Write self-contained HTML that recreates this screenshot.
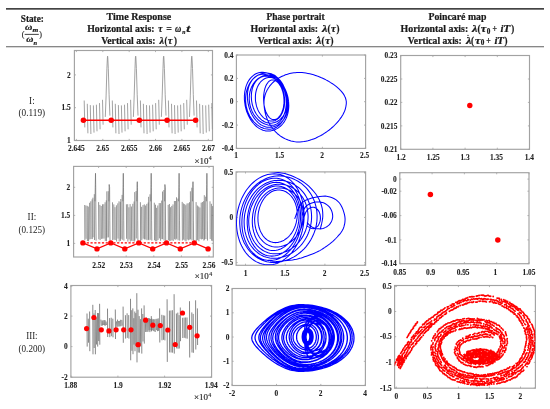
<!DOCTYPE html><html><head><meta charset="utf-8"><style>
html,body{margin:0;padding:0;background:#fff;width:550px;height:409px;overflow:hidden}
svg{display:block}
.tl{font-family:"Liberation Serif",serif;font-weight:bold;font-size:7.4px;fill:#1e1e1e;stroke:#1e1e1e;stroke-width:0.1px}
.ex{font-family:"Liberation Serif",serif;font-size:7.2px;fill:#1e1e1e;stroke:#1e1e1e;stroke-width:0.12px}
.hd{font-family:"Liberation Serif",serif;font-weight:bold;fill:#1a1a1a;stroke:#1a1a1a;stroke-width:0.22px}
.rl{font-family:"Liberation Serif",serif;font-size:9.9px;fill:#222}
</style></head><body>
<svg width="550" height="409" viewBox="0 0 550 409">
<rect x="6" y="8" width="538" height="1.7" fill="#444"/>
<rect x="6" y="46.1" width="538" height="1.2" fill="#7a7a7a"/>
<text x="20.80" y="21.50" class="hd" text-anchor="start" textLength="23.00" lengthAdjust="spacingAndGlyphs" font-size="9.6px">State:</text>
<text x="21.8" y="37.3" font-family="Liberation Serif,serif" font-size="9.2px" fill="#1a1a1a" stroke="#1a1a1a" stroke-width="0.15" textLength="2.7" lengthAdjust="spacingAndGlyphs">(</text>
<text x="39.3" y="37.3" font-family="Liberation Serif,serif" font-size="9.2px" fill="#1a1a1a" stroke="#1a1a1a" stroke-width="0.15" textLength="2.7" lengthAdjust="spacingAndGlyphs">)</text>
<rect x="24.7" y="33.9" width="14.1" height="0.85" fill="#222"/>
<text x="24.90" y="29.80" class="hd" text-anchor="start" textLength="7.30" lengthAdjust="spacingAndGlyphs" font-size="8.4px" font-style="italic">&#969;</text>
<text x="32.40" y="31.50" class="hd" text-anchor="start" textLength="5.80" lengthAdjust="spacingAndGlyphs" font-size="7px" font-style="italic">m</text>
<text x="26.30" y="42.30" class="hd" text-anchor="start" textLength="7.10" lengthAdjust="spacingAndGlyphs" font-size="8.4px" font-style="italic">&#969;</text>
<text x="33.60" y="44.60" class="hd" text-anchor="start" textLength="3.60" lengthAdjust="spacingAndGlyphs" font-size="7px" font-style="italic">n</text>
<text x="106.50" y="19.90" class="hd" text-anchor="start" textLength="64.80" lengthAdjust="spacingAndGlyphs" font-size="9.6px">Time Response</text>
<text x="87.20" y="32.10" class="hd" text-anchor="start" textLength="67.40" lengthAdjust="spacingAndGlyphs" font-size="9.6px">Horizontal axis:</text>
<text x="158.20" y="32.10" class="hd" text-anchor="start" textLength="4.20" lengthAdjust="spacingAndGlyphs" font-size="9.6px" font-style="italic">&#964;</text>
<text x="166.20" y="32.10" class="hd" text-anchor="start" textLength="5.60" lengthAdjust="spacingAndGlyphs" font-size="9.6px">=</text>
<text x="174.90" y="32.10" class="hd" text-anchor="start" textLength="6.30" lengthAdjust="spacingAndGlyphs" font-size="9.6px" font-style="italic">&#969;</text>
<text x="182.20" y="33.80" class="hd" text-anchor="start" textLength="3.20" lengthAdjust="spacingAndGlyphs" font-size="6.6px" font-style="italic">n</text>
<text x="186.30" y="32.10" class="hd" text-anchor="start" textLength="4.00" lengthAdjust="spacingAndGlyphs" font-size="9.6px" font-style="italic">t</text>
<text x="101.20" y="43.80" class="hd" text-anchor="start" textLength="54.40" lengthAdjust="spacingAndGlyphs" font-size="9.6px">Vertical axis:</text>
<text x="159.60" y="43.80" class="hd" text-anchor="start" textLength="4.60" lengthAdjust="spacingAndGlyphs" font-size="9.6px" font-style="italic">&#955;</text>
<text x="164.60" y="43.80" class="hd" text-anchor="start" textLength="2.80" lengthAdjust="spacingAndGlyphs" font-size="9.6px">(</text>
<text x="167.80" y="43.80" class="hd" text-anchor="start" textLength="4.60" lengthAdjust="spacingAndGlyphs" font-size="9.6px" font-style="italic">&#964;</text>
<text x="173.90" y="43.80" class="hd" text-anchor="start" textLength="3.00" lengthAdjust="spacingAndGlyphs" font-size="9.6px">)</text>
<text x="266.50" y="19.90" class="hd" text-anchor="start" textLength="58.10" lengthAdjust="spacingAndGlyphs" font-size="9.6px">Phase portrait</text>
<text x="250.50" y="32.10" class="hd" text-anchor="start" textLength="67.60" lengthAdjust="spacingAndGlyphs" font-size="9.6px">Horizontal axis:</text>
<text x="321.90" y="32.10" class="hd" text-anchor="start" textLength="5.50" lengthAdjust="spacingAndGlyphs" font-size="9.6px" font-style="italic">&#955;</text>
<text x="327.40" y="32.10" class="hd" text-anchor="start" textLength="3.00" lengthAdjust="spacingAndGlyphs" font-size="9.6px">(</text>
<text x="331.00" y="32.10" class="hd" text-anchor="start" textLength="4.80" lengthAdjust="spacingAndGlyphs" font-size="9.6px" font-style="italic">&#964;</text>
<text x="336.60" y="32.10" class="hd" text-anchor="start" textLength="3.00" lengthAdjust="spacingAndGlyphs" font-size="9.6px">)</text>
<text x="257.70" y="43.80" class="hd" text-anchor="start" textLength="54.20" lengthAdjust="spacingAndGlyphs" font-size="9.6px">Vertical axis:</text>
<text x="316.10" y="43.80" class="hd" text-anchor="start" textLength="5.50" lengthAdjust="spacingAndGlyphs" font-size="9.6px" font-style="italic">&#955;</text><circle cx="318.60" cy="36.60" r="0.62" fill="#1a1a1a"/>
<text x="321.60" y="43.80" class="hd" text-anchor="start" textLength="3.00" lengthAdjust="spacingAndGlyphs" font-size="9.6px">(</text>
<text x="325.20" y="43.80" class="hd" text-anchor="start" textLength="4.80" lengthAdjust="spacingAndGlyphs" font-size="9.6px" font-style="italic">&#964;</text>
<text x="330.50" y="43.80" class="hd" text-anchor="start" textLength="3.00" lengthAdjust="spacingAndGlyphs" font-size="9.6px">)</text>
<text x="428.50" y="19.90" class="hd" text-anchor="start" textLength="57.90" lengthAdjust="spacingAndGlyphs" font-size="9.6px">Poincar&#233; map</text>
<text x="400.60" y="32.10" class="hd" text-anchor="start" textLength="67.60" lengthAdjust="spacingAndGlyphs" font-size="9.6px">Horizontal axis:</text>
<text x="472.00" y="32.10" class="hd" text-anchor="start" textLength="5.50" lengthAdjust="spacingAndGlyphs" font-size="9.6px" font-style="italic">&#955;</text>
<text x="477.60" y="32.10" class="hd" text-anchor="start" textLength="3.00" lengthAdjust="spacingAndGlyphs" font-size="9.6px">(</text>
<text x="480.70" y="32.10" class="hd" text-anchor="start" textLength="5.50" lengthAdjust="spacingAndGlyphs" font-size="9.6px" font-style="italic">&#964;</text>
<text x="486.80" y="33.60" class="hd" text-anchor="start" textLength="3.60" lengthAdjust="spacingAndGlyphs" font-size="7.6px">0</text>
<text x="492.40" y="32.10" class="hd" text-anchor="start" textLength="4.50" lengthAdjust="spacingAndGlyphs" font-size="9.6px">+</text>
<text x="500.40" y="32.10" class="hd" text-anchor="start" textLength="3.00" lengthAdjust="spacingAndGlyphs" font-size="9.6px" font-style="italic">i</text>
<text x="503.20" y="32.10" class="hd" text-anchor="start" textLength="7.00" lengthAdjust="spacingAndGlyphs" font-size="9.6px" font-style="italic">T</text>
<text x="511.20" y="32.10" class="hd" text-anchor="start" textLength="3.00" lengthAdjust="spacingAndGlyphs" font-size="9.6px">)</text>
<text x="407.80" y="43.80" class="hd" text-anchor="start" textLength="54.00" lengthAdjust="spacingAndGlyphs" font-size="9.6px">Vertical axis:</text>
<text x="465.90" y="43.80" class="hd" text-anchor="start" textLength="5.50" lengthAdjust="spacingAndGlyphs" font-size="9.6px" font-style="italic">&#955;</text><circle cx="468.00" cy="35.40" r="0.62" fill="#1a1a1a"/>
<text x="471.10" y="43.80" class="hd" text-anchor="start" textLength="3.00" lengthAdjust="spacingAndGlyphs" font-size="9.6px">(</text>
<text x="475.10" y="43.80" class="hd" text-anchor="start" textLength="5.50" lengthAdjust="spacingAndGlyphs" font-size="9.6px" font-style="italic">&#964;</text>
<text x="480.80" y="45.30" class="hd" text-anchor="start" textLength="3.60" lengthAdjust="spacingAndGlyphs" font-size="7.6px">0</text>
<text x="486.30" y="43.80" class="hd" text-anchor="start" textLength="4.50" lengthAdjust="spacingAndGlyphs" font-size="9.6px">+</text>
<text x="494.40" y="43.80" class="hd" text-anchor="start" textLength="3.00" lengthAdjust="spacingAndGlyphs" font-size="9.6px" font-style="italic">i</text>
<text x="497.10" y="43.80" class="hd" text-anchor="start" textLength="7.00" lengthAdjust="spacingAndGlyphs" font-size="9.6px" font-style="italic">T</text>
<text x="504.60" y="43.80" class="hd" text-anchor="start" textLength="3.00" lengthAdjust="spacingAndGlyphs" font-size="9.6px">)</text>
<text x="29.10" y="103.6" class="rl" textLength="5.6" lengthAdjust="spacingAndGlyphs">I:</text>
<text x="18.5" y="116.0" class="rl" textLength="26.6" lengthAdjust="spacingAndGlyphs">(0.119)</text>
<text x="27.60" y="220.1" class="rl" textLength="8.6" lengthAdjust="spacingAndGlyphs">II:</text>
<text x="18.5" y="233.4" class="rl" textLength="26.6" lengthAdjust="spacingAndGlyphs">(0.125)</text>
<text x="26.20" y="338.8" class="rl" textLength="11.4" lengthAdjust="spacingAndGlyphs">III:</text>
<text x="18.5" y="351.5" class="rl" textLength="26.6" lengthAdjust="spacingAndGlyphs">(0.200)</text>
<rect x="74.40" y="50.50" width="138.10" height="90.00" fill="none" stroke="#a2a2a2" stroke-width="1.15"/>
<path d="M76.40 140.50v-1.6M76.40 50.50v1.6M102.80 140.50v-1.6M102.80 50.50v1.6M129.20 140.50v-1.6M129.20 50.50v1.6M155.50 140.50v-1.6M155.50 50.50v1.6M181.90 140.50v-1.6M181.90 50.50v1.6M208.30 140.50v-1.6M208.30 50.50v1.6M74.40 74.90h1.6M212.50 74.90h-1.6M74.40 107.70h1.6M212.50 107.70h-1.6M74.40 140.50h1.6M212.50 140.50h-1.6" stroke="#a2a2a2" stroke-width="0.8" fill="none"/>
<rect x="236.40" y="55.00" width="129.20" height="93.40" fill="none" stroke="#a2a2a2" stroke-width="1.15"/>
<path d="M236.40 148.40v-1.6M236.40 55.00v1.6M279.30 148.40v-1.6M279.30 55.00v1.6M322.40 148.40v-1.6M322.40 55.00v1.6M365.60 148.40v-1.6M365.60 55.00v1.6M236.40 55.00h1.6M365.60 55.00h-1.6M236.40 78.40h1.6M365.60 78.40h-1.6M236.40 101.70h1.6M365.60 101.70h-1.6M236.40 125.10h1.6M365.60 125.10h-1.6M236.40 148.40h1.6M365.60 148.40h-1.6" stroke="#a2a2a2" stroke-width="0.8" fill="none"/>
<rect x="400.70" y="55.50" width="128.80" height="93.80" fill="none" stroke="#a2a2a2" stroke-width="1.15"/>
<path d="M400.70 149.30v-1.6M400.70 55.50v1.6M432.90 149.30v-1.6M432.90 55.50v1.6M465.10 149.30v-1.6M465.10 55.50v1.6M497.30 149.30v-1.6M497.30 55.50v1.6M529.50 149.30v-1.6M529.50 55.50v1.6M400.70 55.50h1.6M529.50 55.50h-1.6M400.70 79.00h1.6M529.50 79.00h-1.6M400.70 102.40h1.6M529.50 102.40h-1.6M400.70 125.90h1.6M529.50 125.90h-1.6M400.70 149.30h1.6M529.50 149.30h-1.6" stroke="#a2a2a2" stroke-width="0.8" fill="none"/>
<rect x="73.60" y="166.40" width="139.70" height="90.60" fill="none" stroke="#a2a2a2" stroke-width="1.15"/>
<path d="M98.60 257.00v-1.6M98.60 166.40v1.6M126.20 257.00v-1.6M126.20 166.40v1.6M153.80 257.00v-1.6M153.80 166.40v1.6M181.40 257.00v-1.6M181.40 166.40v1.6M209.00 257.00v-1.6M209.00 166.40v1.6M73.60 187.30h1.6M213.30 187.30h-1.6M73.60 215.40h1.6M213.30 215.40h-1.6M73.60 243.40h1.6M213.30 243.40h-1.6" stroke="#a2a2a2" stroke-width="0.8" fill="none"/>
<rect x="236.10" y="171.90" width="129.50" height="93.40" fill="none" stroke="#a2a2a2" stroke-width="1.15"/>
<path d="M245.50 265.30v-1.6M245.50 171.90v1.6M285.20 265.30v-1.6M285.20 171.90v1.6M324.90 265.30v-1.6M324.90 171.90v1.6M364.60 265.30v-1.6M364.60 171.90v1.6M236.10 172.30h1.6M365.60 172.30h-1.6M236.10 217.40h1.6M365.60 217.40h-1.6M236.10 262.60h1.6M365.60 262.60h-1.6" stroke="#a2a2a2" stroke-width="0.8" fill="none"/>
<rect x="399.80" y="172.70" width="129.20" height="91.00" fill="none" stroke="#a2a2a2" stroke-width="1.15"/>
<path d="M399.80 263.70v-1.6M399.80 172.70v1.6M432.10 263.70v-1.6M432.10 172.70v1.6M464.40 263.70v-1.6M464.40 172.70v1.6M496.70 263.70v-1.6M496.70 172.70v1.6M529.00 263.70v-1.6M529.00 172.70v1.6M399.80 179.10h1.6M529.00 179.10h-1.6M399.80 191.20h1.6M529.00 191.20h-1.6M399.80 215.60h1.6M529.00 215.60h-1.6M399.80 239.90h1.6M529.00 239.90h-1.6M399.80 263.70h1.6M529.00 263.70h-1.6" stroke="#a2a2a2" stroke-width="0.8" fill="none"/>
<rect x="70.90" y="285.50" width="140.70" height="91.70" fill="none" stroke="#a2a2a2" stroke-width="1.15"/>
<path d="M71.00 377.20v-1.6M71.00 285.50v1.6M117.90 377.20v-1.6M117.90 285.50v1.6M164.60 377.20v-1.6M164.60 285.50v1.6M211.50 377.20v-1.6M211.50 285.50v1.6M70.90 286.00h1.6M211.60 286.00h-1.6M70.90 316.10h1.6M211.60 316.10h-1.6M70.90 346.60h1.6M211.60 346.60h-1.6M70.90 377.20h1.6M211.60 377.20h-1.6" stroke="#a2a2a2" stroke-width="0.8" fill="none"/>
<rect x="232.10" y="288.50" width="133.30" height="97.00" fill="none" stroke="#a2a2a2" stroke-width="1.15"/>
<path d="M232.10 385.50v-1.6M232.10 288.50v1.6M276.50 385.50v-1.6M276.50 288.50v1.6M320.80 385.50v-1.6M320.80 288.50v1.6M365.20 385.50v-1.6M365.20 288.50v1.6M232.10 288.50h1.6M365.40 288.50h-1.6M232.10 312.80h1.6M365.40 312.80h-1.6M232.10 337.00h1.6M365.40 337.00h-1.6M232.10 361.30h1.6M365.40 361.30h-1.6M232.10 385.50h1.6M365.40 385.50h-1.6" stroke="#a2a2a2" stroke-width="0.8" fill="none"/>
<rect x="394.60" y="285.50" width="140.80" height="102.70" fill="none" stroke="#a2a2a2" stroke-width="1.15"/>
<path d="M396.30 388.20v-1.6M396.30 285.50v1.6M427.35 388.20v-1.6M427.35 285.50v1.6M458.40 388.20v-1.6M458.40 285.50v1.6M489.45 388.20v-1.6M489.45 285.50v1.6M520.50 388.20v-1.6M520.50 285.50v1.6M394.60 286.30h1.6M535.40 286.30h-1.6M394.60 311.50h1.6M535.40 311.50h-1.6M394.60 336.70h1.6M535.40 336.70h-1.6M394.60 362.40h1.6M535.40 362.40h-1.6M394.60 388.00h1.6M535.40 388.00h-1.6" stroke="#a2a2a2" stroke-width="0.8" fill="none"/>
<defs>
<clipPath id="cT1"><rect x="74.40" y="50.50" width="138.10" height="90.00"/></clipPath>
<clipPath id="cP1"><rect x="236.40" y="55.00" width="129.20" height="93.40"/></clipPath>
<clipPath id="cQ1"><rect x="400.70" y="55.50" width="128.80" height="93.80"/></clipPath>
<clipPath id="cT2"><rect x="73.60" y="166.40" width="139.70" height="90.60"/></clipPath>
<clipPath id="cP2"><rect x="236.10" y="171.90" width="129.50" height="93.40"/></clipPath>
<clipPath id="cQ2"><rect x="399.80" y="172.70" width="129.20" height="91.00"/></clipPath>
<clipPath id="cT3"><rect x="70.90" y="285.50" width="140.70" height="91.70"/></clipPath>
<clipPath id="cP3"><rect x="232.10" y="288.50" width="133.30" height="97.00"/></clipPath>
<clipPath id="cQ3"><rect x="394.60" y="285.50" width="140.80" height="102.70"/></clipPath>
</defs>
<path d="M84.2 100.5l0.6 26.9M87.3 103.8l0.6 29.5M90.3 105.1l0.6 28.9M93.4 105.4l0.6 27.2M96.4 104.7l0.6 26.6M99.5 103.1l0.6 26.2M102.5 99.8l0.6 24.9M105.3 116.9l0.8 -21 0.8 -27.5 0.5 -10.5 0.2 -1.7 0.2 1.7 0.5 10.5 0.8 26.2 0.8 21M112.3 100.5l0.6 26.9M115.3 103.8l0.6 29.5M118.4 105.1l0.6 28.9M121.4 105.4l0.6 27.2M124.5 104.7l0.6 26.6M127.5 103.1l0.6 26.2M130.6 99.8l0.6 24.9M133.4 116.9l0.8 -21 0.8 -27.5 0.4 -10.5 0.3 -1.7 0.2 1.7 0.5 10.5 0.8 26.2 0.8 21M140.4 100.5l0.6 26.9M143.4 103.8l0.6 29.5M146.5 105.1l0.6 28.9M149.5 105.4l0.6 27.2M152.6 104.7l0.6 26.6M155.6 103.1l0.6 26.2M158.7 99.8l0.6 24.9M161.4 116.9l0.8 -21 0.8 -27.5 0.4 -10.5 0.3 -1.7 0.2 1.7 0.5 10.5 0.8 26.2 0.8 21M168.4 100.5l0.6 26.9M171.5 103.8l0.6 29.5M174.5 105.1l0.6 28.9M177.6 105.4l0.6 27.2M180.6 104.7l0.6 26.6M183.7 103.1l0.6 26.2M186.7 99.8l0.6 24.9M189.5 116.9l0.8 -21 0.8 -27.5 0.4 -10.5 0.3 -1.7 0.2 1.7 0.5 10.5 0.8 26.2 0.8 21M196.5 100.5l0.6 26.9M199.6 103.8l0.6 29.5M202.6 105.1l0.6 28.9M205.7 105.4l0.6 27.2M208.7 104.7l0.6 26.6M211.8 103.1l0.6 26.2" fill="none" stroke="#8a8a8a" stroke-width="0.8" stroke-linejoin="round" clip-path="url(#cT1)"/>
<path d="M83.4 120.3H195.6" stroke="#ff0000" stroke-width="1.4"/>
<circle cx="83.4" cy="120.3" r="2.75" fill="#ff0000"/>
<circle cx="111.2" cy="120.3" r="2.75" fill="#ff0000"/>
<circle cx="139.3" cy="120.3" r="2.75" fill="#ff0000"/>
<circle cx="167.1" cy="120.3" r="2.75" fill="#ff0000"/>
<circle cx="195.6" cy="120.3" r="2.75" fill="#ff0000"/>
<path d="M84.7 205.0l0.2 35.2M85.9 205.5l0.2 33.3M87.2 205.8l0.2 35.2M88.3 206.6l0.2 34.6M89.6 202.8l0.2 36.7M90.8 201.3l0.2 37.7M92.1 199.4l0.2 39.7M95.0 201.3l0.3 -16.8 0.2 -11.2 0.2 14 0.2 33.6 0.2 19.7M92.9 197.7l0.2 39.6M94.3 194.2l0.2 45.8M98.6 202.1l0.2 37.2M99.9 204.9l0.2 35.2M101.2 206.0l0.2 32.9M102.5 204.3l0.2 34.4M103.8 204.2l0.2 34.4M105.1 202.3l0.2 38.7M106.3 200.3l0.2 40.9M108.9 201.3l0.3 -16.8 0.2 1.7 0.2 1.1 0.2 33.6 0.2 19.7M106.8 191.4l0.2 46.1M108.2 191.2l0.2 46.2M112.5 202.3l0.2 37.7M113.8 204.4l0.2 35.3M115.0 207.2l0.2 32.8M116.4 205.3l0.2 36.2M117.8 203.4l0.2 35.2M119.0 201.3l0.2 40.2M120.3 201.9l0.2 39.0M122.8 201.3l0.3 -16.8 0.2 -11.2 0.2 14 0.2 33.6 0.2 19.7M120.8 199.0l0.2 39.8M122.1 194.9l0.2 44.9M126.4 204.3l0.2 34.5M127.7 204.2l0.2 37.4M128.9 207.3l0.2 32.2M130.1 204.1l0.2 37.5M131.4 206.5l0.2 34.3M132.8 203.8l0.2 37.3M134.1 201.5l0.2 40.1M136.8 201.3l0.3 -16.8 0.2 -2.8 0.2 5.6 0.2 33.6 0.2 19.7M134.7 192.1l0.2 48.4M136.1 191.0l0.2 47.5M140.4 202.2l0.2 39.2M141.6 206.8l0.2 33.4M143.0 205.1l0.2 33.6M144.3 204.4l0.2 35.0M145.6 205.5l0.2 34.0M146.8 203.9l0.2 36.3M148.2 202.5l0.2 37.2M150.7 201.3l0.3 -16.8 0.2 -11.2 0.2 14 0.2 33.6 0.2 19.7M148.6 196.8l0.2 43.4M150.0 194.3l0.2 45.5M154.3 202.7l0.2 37.6M155.5 204.7l0.2 36.6M156.6 207.8l0.2 33.4M157.8 205.5l0.2 34.5M159.2 203.1l0.2 35.3M160.4 203.1l0.2 37.7M161.7 200.6l0.2 38.5M164.6 201.3l0.3 -16.8 0.2 1.7 0.2 1.1 0.2 33.6 0.2 19.7M162.5 191.5l0.2 47.7M163.9 190.0l0.2 50.6M168.2 204.9l0.2 35.4M169.4 204.0l0.2 36.9M170.6 207.2l0.2 33.7M171.8 205.9l0.2 34.3M173.0 204.4l0.2 36.6M174.4 201.0l0.2 38.3M175.6 201.0l0.2 38.8M178.6 201.3l0.3 -16.8 0.2 -11.2 0.2 14 0.2 33.6 0.2 19.7M176.5 197.3l0.2 41.5M177.9 198.6l0.2 41.7M182.2 201.9l0.2 38.6M183.4 203.4l0.2 36.3M184.7 204.1l0.2 36.4M185.8 205.2l0.2 36.2M187.0 203.5l0.2 36.0M188.2 203.2l0.2 37.1M189.5 202.2l0.2 37.5M192.5 201.3l0.3 -16.8 0.2 -2.8 0.2 5.6 0.2 33.6 0.2 19.7M190.4 191.3l0.2 48.0M191.8 187.7l0.2 52.7M196.1 202.1l0.2 39.0M197.4 205.5l0.2 34.7M198.7 206.5l0.2 34.8M199.9 207.5l0.2 31.4M201.2 202.7l0.2 36.7M202.4 202.0l0.2 37.1M203.7 201.1l0.2 39.5M206.4 201.3l0.3 -16.8 0.2 -11.2 0.2 14 0.2 33.6 0.2 19.7M204.3 195.2l0.2 44.5M205.7 196.7l0.2 42.3M210.0 201.3l0.2 37.7M211.4 203.8l0.2 36.9M212.6 206.1l0.2 34.8" fill="none" stroke="#737373" stroke-width="0.75" stroke-linejoin="round" clip-path="url(#cT2)"/>
<path d="M82.9 242.9H194.3" stroke="#ff0000" stroke-width="1.1" stroke-dasharray="2.2 1.6"/>
<path d="M82.9 242.9L97.0 248.9L110.8 242.9L124.8 248.9L138.8 242.9L152.7 248.9L166.5 242.9L180.3 248.9L194.3 242.9L208.1 248.9" fill="none" stroke="#ff0000" stroke-width="1.2"/>
<circle cx="82.9" cy="242.9" r="2.7" fill="#ff0000"/>
<circle cx="110.8" cy="242.9" r="2.7" fill="#ff0000"/>
<circle cx="138.8" cy="242.9" r="2.7" fill="#ff0000"/>
<circle cx="166.5" cy="242.9" r="2.7" fill="#ff0000"/>
<circle cx="194.3" cy="242.9" r="2.7" fill="#ff0000"/>
<circle cx="97.0" cy="248.9" r="2.7" fill="#ff0000"/>
<circle cx="124.8" cy="248.9" r="2.7" fill="#ff0000"/>
<circle cx="152.7" cy="248.9" r="2.7" fill="#ff0000"/>
<circle cx="180.3" cy="248.9" r="2.7" fill="#ff0000"/>
<circle cx="208.1" cy="248.9" r="2.7" fill="#ff0000"/>
<path d="M87.0 313.5l0.2 33.1M89.6 311.5l0.2 39.7M92.8 304.8l0.2 49.5M95.2 310.0l0.2 44.3M97.5 313.0l0.2 33.6M99.6 303.8l0.2 40.9M100.9 319.6l0.4 6.2M102.1 320.6l0.4 4.9M103.0 320.3l0.4 4.7M104.1 320.1l0.4 5.3M105.0 320.1l0.4 5.5M106.0 321.5l0.4 3.5M107.5 308.6l0.2 28.4M109.6 318.1l0.2 19.1M111.2 317.7l0.2 18.5M112.8 318.7l0.2 18.6M115.3 309.5l0.2 29.5M116.5 321.4l0.4 5.9M117.5 319.6l0.4 7.0M118.6 321.0l0.4 5.5M119.6 320.9l0.4 5.5M120.6 319.8l0.4 6.4M121.8 319.9l0.4 5.7M123.1 306.6l0.2 36.2M125.4 315.2l0.2 23.4M127.1 313.3l0.2 24.6M128.7 315.1l0.2 23.5M130.5 298.8l0.2 61.5M132.8 308.4l0.2 45.8M134.8 311.5l0.2 39.7M136.8 293.2l0.2 69.2M139.2 316.1l0.2 36.6M141.6 308.4l0.2 45.2M144.1 305.4l0.2 38.2M145.3 319.0l0.4 13.0M146.5 317.6l0.4 14.3M147.6 318.8l0.4 13.0M148.6 318.0l0.4 12.3M149.5 318.4l0.4 13.7M150.6 318.9l0.4 11.4M151.8 318.6l0.4 11.5M152.8 319.4l0.4 11.5M153.7 319.2l0.4 12.1M154.8 319.3l0.4 12.7M156.0 318.9l0.4 11.2M157.1 318.8l0.4 12.4M158.2 318.3l0.4 12.6M151.3 316.1l0.2 15.3M159.6 308.4l0.2 34.1M161.8 314.8l0.2 25.5M163.3 315.3l0.2 24.5M164.7 315.6l0.2 24.8M167.1 299.3l0.2 62.6M169.4 310.6l0.2 41.8M170.9 310.5l0.2 42.0M172.4 310.2l0.2 42.5M174.1 294.2l0.2 59.4M176.4 313.5l0.2 34.9M177.8 312.6l0.2 36.1M179.1 315.1l0.2 33.4M180.3 307.5l0.2 33.7M182.6 317.8l0.2 20.2M184.1 317.6l0.2 20.2M185.6 317.5l0.2 20.8M187.0 317.5l0.2 21.2M189.5 301.2l0.2 56.3M191.8 312.4l0.2 40.1M193.2 313.9l0.2 38.9M195.6 300.3l0.2 49.2M197.4 308.4l0.2 36.6M88.3 318.7l0.2 24.0M94.0 313.5l0.2 34.5M96.3 317.5l0.2 27.0M98.5 313.1l0.2 28.0M131.7 310.2l0.2 40.6M133.8 318.2l0.2 26.4M135.8 313.1l0.2 32.8M138.0 309.7l0.2 42.8M140.4 319.1l0.2 27.2M142.8 314.0l0.2 27.5" fill="none" stroke="#686868" stroke-width="0.8" clip-path="url(#cT3)"/>
<circle cx="86.6" cy="328.6" r="2.6" fill="#ff0000"/>
<circle cx="93.9" cy="317.5" r="2.6" fill="#ff0000"/>
<circle cx="101.3" cy="329.8" r="2.6" fill="#ff0000"/>
<circle cx="108.9" cy="330.9" r="2.6" fill="#ff0000"/>
<circle cx="116.1" cy="329.8" r="2.6" fill="#ff0000"/>
<circle cx="123.7" cy="329.8" r="2.6" fill="#ff0000"/>
<circle cx="131.0" cy="329.8" r="2.6" fill="#ff0000"/>
<circle cx="138.1" cy="344.7" r="2.6" fill="#ff0000"/>
<circle cx="145.6" cy="320.2" r="2.6" fill="#ff0000"/>
<circle cx="152.8" cy="325.2" r="2.6" fill="#ff0000"/>
<circle cx="160.3" cy="325.6" r="2.6" fill="#ff0000"/>
<circle cx="167.8" cy="330.0" r="2.6" fill="#ff0000"/>
<circle cx="175.2" cy="344.5" r="2.6" fill="#ff0000"/>
<circle cx="182.5" cy="313.0" r="2.6" fill="#ff0000"/>
<circle cx="189.7" cy="327.3" r="2.6" fill="#ff0000"/>
<circle cx="197.1" cy="335.8" r="2.6" fill="#ff0000"/>
<path d="M288.6 101.7l-0.3 -2 -0.3 -2.1 -0.5 -2 -0.6 -2 -0.7 -1.9 -0.8 -1.9 -0.9 -1.9 -1 -1.8 -1.1 -1.7 -1.2 -1.6 -1.3 -1.5 -1.3 -1.4 -1.4 -1.3 -1.4 -1.2 -1.5 -1.1 -1.6 -1 -1.6 -0.8 -1.6 -0.7 -1.6 -0.6 -1.7 -0.4 -1.7 -0.3 -1.6 -0.1 -1.5 -0 -1.5 0.1 -1.3 0.3 -1.4 0.4 -1.3 0.6 -1.3 0.7 -1.2 0.8 -1.1 1 -1.1 1.1 -1.1 1.2 -0.9 1.3 -0.9 1.4 -0.8 1.5 -0.7 1.6 -0.7 1.7 -0.5 1.8 -0.4 1.9 -0.4 1.9 -0.2 1.9 -0.2 2 -0 2 0 2.1 0.2 2 0.3 2 0.3 2.1 0.5 2 0.5 2 0.6 1.9 0.8 1.9 0.8 1.9 0.9 1.8 0.9 1.7 1.1 1.6 1.1 1.5 1.1 1.4 1.3 1.3 1.2 1.2 1.3 1.1 1.4 1 1.4 0.8 1.4 0.7 1.4 0.6 1.4 0.4 1.5 0.3 1.4 0.1 1.6 0 1.6 -0.1 1.6 -0.3 1.6 -0.4 1.5 -0.6 1.5 -0.7 1.4 -0.8 1.3 -1 1.3 -1.1 1.2 -1.2 1.2 -1.3 1 -1.4 1 -1.5 0.8 -1.6 0.8 -1.7 0.6 -1.8 0.6 -1.9 0.4 -1.9 0.3 -1.9 0.2 -2 0.1 -2 -0.1 -2.1 -0.1 -2M287.4 101.1l-0.1 -2 -0.3 -1.9 -0.3 -1.9 -0.4 -1.9 -0.6 -1.9 -0.5 -1.8 -0.7 -1.8 -0.8 -1.7 -0.8 -1.6 -0.9 -1.6 -1 -1.4 -1.1 -1.4 -1.1 -1.2 -1.1 -1.2 -1.2 -1 -1.3 -1 -1.2 -0.8 -1.3 -0.6 -1.4 -0.6 -1.3 -0.4 -1.4 -0.2 -1.3 -0.2 -1.5 0 -1.5 0.2 -1.6 0.2 -1.5 0.4 -1.5 0.6 -1.4 0.6 -1.4 0.8 -1.3 1 -1.3 1 -1.2 1.2 -1.1 1.2 -1.1 1.4 -1 1.4 -0.8 1.6 -0.8 1.6 -0.7 1.7 -0.6 1.8 -0.5 1.8 -0.4 1.9 -0.3 1.9 -0.2 1.9 -0 1.9 0 2 0.2 2 0.2 1.9 0.4 1.9 0.5 1.9 0.5 1.9 0.7 1.8 0.8 1.8 0.8 1.7 1 1.6 1 1.6 1.2 1.4 1.2 1.4 1.2 1.2 1.3 1.2 1.4 1 1.4 1 1.5 0.8 1.5 0.6 1.5 0.6 1.6 0.4 1.6 0.2 1.5 0.2 1.5 -0 1.3 -0.2 1.4 -0.2 1.3 -0.4 1.2 -0.6 1.3 -0.6 1.2 -0.8 1.1 -1 1.1 -1 1.1 -1.2 0.9 -1.2 0.9 -1.4 0.9 -1.4 0.7 -1.6 0.7 -1.6 0.6 -1.7 0.5 -1.8 0.4 -1.8 0.3 -1.9 0.3 -1.9 0.1 -1.9 0.1 -1.9 -0.1 -2M287.8 100.8l-0.3 -1.9 -0.4 -1.8 -0.4 -1.8 -0.6 -1.8 -0.7 -1.8 -0.8 -1.7 -0.8 -1.7 -1 -1.6 -1 -1.5 -1.1 -1.5 -1.2 -1.3 -1.3 -1.3 -1.3 -1.2 -1.4 -1.1 -1.4 -1 -1.4 -0.9 -1.5 -0.7 -1.5 -0.7 -1.5 -0.5 -1.6 -0.3 -1.5 -0.3 -1.5 -0.1 -1.4 -0 -1.3 0.1 -1.2 0.3 -1.2 0.3 -1.2 0.5 -1.1 0.7 -1.1 0.7 -1 0.9 -1 1 -0.9 1.1 -0.8 1.2 -0.8 1.3 -0.7 1.3 -0.6 1.5 -0.5 1.5 -0.5 1.6 -0.3 1.7 -0.3 1.7 -0.2 1.8 -0.1 1.8 0 1.8 0.1 1.8 0.2 1.9 0.3 1.9 0.3 1.8 0.5 1.8 0.5 1.8 0.6 1.8 0.7 1.7 0.7 1.7 0.9 1.6 0.9 1.5 0.9 1.5 1 1.3 1.1 1.3 1.1 1.2 1.2 1.1 1.2 1 1.2 0.9 1.3 0.7 1.3 0.7 1.3 0.5 1.3 0.3 1.3 0.3 1.2 0.1 1.4 0 1.5 -0.1 1.5 -0.3 1.5 -0.3 1.4 -0.5 1.3 -0.7 1.3 -0.7 1.3 -0.9 1.1 -1 1.1 -1.1 1.1 -1.2 0.9 -1.3 0.8 -1.3 0.8 -1.5 0.7 -1.5 0.5 -1.6 0.5 -1.7 0.4 -1.7 0.2 -1.8 0.2 -1.8 0 -1.8 -0 -1.8 -0.2 -1.9M286.2 100.2l-0.1 -1.8 -0.3 -1.7 -0.3 -1.7 -0.3 -1.7 -0.5 -1.7 -0.5 -1.6 -0.6 -1.6 -0.7 -1.5 -0.7 -1.5 -0.8 -1.4 -0.8 -1.3 -0.9 -1.2 -0.9 -1.1 -1 -1.1 -1 -0.9 -1.1 -0.8 -1 -0.7 -1.1 -0.6 -1.1 -0.5 -1.2 -0.4 -1.1 -0.2 -1.1 -0.1 -1.3 -0 -1.5 0.1 -1.4 0.2 -1.4 0.4 -1.3 0.5 -1.4 0.6 -1.2 0.7 -1.3 0.8 -1.1 0.9 -1.1 1.1 -1.1 1.1 -0.9 1.2 -0.9 1.3 -0.8 1.4 -0.8 1.5 -0.6 1.5 -0.5 1.6 -0.5 1.6 -0.3 1.7 -0.3 1.7 -0.1 1.7 -0.1 1.7 0.1 1.8 0.2 1.8 0.2 1.7 0.4 1.7 0.4 1.7 0.6 1.7 0.6 1.6 0.7 1.6 0.8 1.5 0.9 1.5 1 1.4 1.1 1.3 1.1 1.2 1.1 1.1 1.3 1.1 1.3 0.9 1.3 0.8 1.3 0.7 1.4 0.6 1.5 0.5 1.4 0.4 1.4 0.2 1.5 0.1 1.3 0 1.1 -0.1 1.1 -0.2 1.1 -0.4 1 -0.5 1.1 -0.6 1 -0.7 0.9 -0.8 0.9 -0.9 0.9 -1.1 0.8 -1.1 0.7 -1.2 0.7 -1.3 0.6 -1.4 0.5 -1.5 0.5 -1.5 0.4 -1.6 0.3 -1.6 0.3 -1.7 0.2 -1.7 0.1 -1.7 -0 -1.7 -0.1 -1.8M286.8 99.7l-0.2 -1.6 -0.3 -1.7 -0.4 -1.6 -0.5 -1.6 -0.5 -1.5 -0.7 -1.6 -0.7 -1.4 -0.8 -1.5 -0.9 -1.3 -0.9 -1.3 -1 -1.2 -1.1 -1.2 -1.1 -1 -1.1 -1 -1.2 -0.9 -1.3 -0.7 -1.2 -0.7 -1.3 -0.5 -1.3 -0.5 -1.3 -0.3 -1.4 -0.3 -1.3 -0.1 -1.2 0 -1.2 0.1 -1.1 0.3 -1.1 0.3 -1 0.5 -1.1 0.5 -0.9 0.7 -1 0.7 -0.9 0.9 -0.8 1 -0.8 1 -0.7 1.2 -0.7 1.2 -0.5 1.3 -0.5 1.3 -0.5 1.5 -0.3 1.4 -0.3 1.6 -0.2 1.5 -0.1 1.6 -0.1 1.6 0.1 1.7 0.1 1.6 0.2 1.6 0.3 1.7 0.3 1.6 0.5 1.6 0.5 1.5 0.6 1.6 0.6 1.4 0.8 1.5 0.7 1.3 0.9 1.3 0.9 1.2 0.9 1.2 1 1 1 1 1.1 0.9 1.1 0.7 1.1 0.7 1.1 0.5 1.2 0.5 1.1 0.3 1.2 0.3 1.2 0.1 1.2 -0 1.3 -0.1 1.3 -0.3 1.2 -0.3 1.2 -0.5 1.2 -0.5 1.2 -0.7 1 -0.7 1.1 -0.9 0.9 -1 0.9 -1 0.9 -1.2 0.7 -1.2 0.7 -1.3 0.6 -1.3 0.5 -1.5 0.4 -1.4 0.4 -1.6 0.2 -1.5 0.2 -1.6 0 -1.6 0 -1.7 -0.1 -1.6M284.6 99.2l-0.1 -1.5 -0.2 -1.5 -0.2 -1.5 -0.3 -1.5 -0.4 -1.5 -0.4 -1.4 -0.5 -1.3 -0.5 -1.4 -0.6 -1.2 -0.7 -1.2 -0.7 -1.1 -0.7 -1.1 -0.8 -1 -0.8 -0.9 -0.8 -0.8 -0.9 -0.7 -0.9 -0.6 -0.9 -0.5 -1 -0.5 -0.9 -0.3 -1 -0.2 -0.9 -0.1 -1 0 -1.1 0.1 -1.1 0.2 -1 0.3 -1.1 0.5 -1 0.5 -0.9 0.6 -0.9 0.7 -0.9 0.8 -0.9 0.9 -0.7 1 -0.8 1.1 -0.7 1.1 -0.6 1.2 -0.5 1.2 -0.5 1.4 -0.4 1.3 -0.3 1.4 -0.3 1.5 -0.2 1.5 -0.1 1.5 -0 1.5 -0 1.5 0.1 1.5 0.2 1.5 0.3 1.5 0.3 1.5 0.4 1.5 0.5 1.4 0.5 1.3 0.6 1.4 0.7 1.2 0.8 1.2 0.7 1.1 0.9 1.1 0.9 1 0.9 0.9 0.9 0.8 1 0.7 1.1 0.6 1 0.5 1.1 0.5 1.1 0.3 1.1 0.2 1 0.1 1.1 -0 0.9 -0.1 0.9 -0.2 0.9 -0.3 0.9 -0.5 0.9 -0.5 0.8 -0.6 0.8 -0.7 0.8 -0.8 0.7 -0.9 0.7 -1 0.6 -1.1 0.6 -1.1 0.5 -1.2 0.5 -1.2 0.4 -1.4 0.4 -1.3 0.3 -1.4 0.2 -1.5 0.1 -1.5 0.1 -1.5 0 -1.5 -0 -1.5M284.0 99.8l-0.1 -1.4 -0.1 -1.4 -0.2 -1.3 -0.2 -1.4 -0.3 -1.3 -0.3 -1.3 -0.4 -1.2 -0.4 -1.2 -0.4 -1.1 -0.6 -1.1 -0.5 -1.1 -0.6 -0.9 -0.6 -0.9 -0.6 -0.8 -0.7 -0.7 -0.7 -0.7 -0.7 -0.6 -0.8 -0.4 -0.7 -0.4 -0.8 -0.3 -0.7 -0.2 -0.8 -0.1 -0.7 0 -0.7 0.1 -0.6 0.2 -0.7 0.3 -0.6 0.4 -0.6 0.4 -0.6 0.6 -0.5 0.7 -0.5 0.7 -0.6 0.8 -0.4 0.9 -0.5 0.9 -0.4 1.1 -0.4 1.1 -0.3 1.1 -0.3 1.2 -0.2 1.2 -0.2 1.3 -0.2 1.3 -0.1 1.4 -0.1 1.3 -0 1.4 0 1.4 0.1 1.4 0.1 1.4 0.1 1.3 0.2 1.4 0.3 1.3 0.3 1.3 0.3 1.2 0.3 1.2 0.4 1.1 0.5 1.1 0.5 1.1 0.5 0.9 0.5 0.9 0.5 0.8 0.6 0.7 0.6 0.7 0.6 0.6 0.7 0.4 0.6 0.4 0.7 0.3 0.6 0.2 0.7 0.1 0.7 -0 0.7 -0.1 0.8 -0.2 0.7 -0.3 0.8 -0.4 0.7 -0.4 0.7 -0.6 0.6 -0.7 0.6 -0.7 0.6 -0.8 0.6 -0.9 0.5 -0.9 0.5 -1.1 0.4 -1.1 0.4 -1.1 0.4 -1.2 0.3 -1.2 0.2 -1.3 0.2 -1.3 0.2 -1.4 0.1 -1.3 0 -1.4 -0 -1.4M346.3 102.5l-0 -1 -0.2 -1 -0.2 -1 -0.3 -1 -0.3 -1 -0.5 -1 -0.5 -1.1 -0.6 -1 -0.7 -1 -0.8 -1 -0.8 -1 -1 -1 -0.9 -1 -1.1 -1 -1.1 -1 -1.2 -1 -1.3 -1 -1.3 -1 -1.4 -0.9 -1.5 -0.9 -1.4 -1 -1.6 -0.9 -1.6 -0.8 -1.7 -0.9 -1.6 -0.8 -1.8 -0.7 -1.8 -0.8 -1.8 -0.6 -1.8 -0.7 -1.9 -0.6 -1.9 -0.5 -1.9 -0.5 -1.9 -0.4 -2 -0.3 -2 -0.3 -1.9 -0.2 -2 -0.1 -1.7 0 -1.5 0.1 -1.5 0.1 -1.4 0.1 -1.5 0.2 -1.4 0.3 -1.4 0.3 -1.4 0.4 -1.4 0.4 -1.4 0.4 -1.3 0.6 -1.3 0.5 -1.3 0.6 -1.3 0.7 -1.2 0.7 -1.2 0.7 -1.1 0.8 -1.1 0.8 -1.1 0.9 -1 0.9 -1 0.9 -0.9 1 -0.9 1 -0.9 1 -0.7 1.1 -0.8 1 -0.6 1.2 -0.7 1.1 -0.5 1.2 -0.6 1.1 -0.4 1.2 -0.4 1.2 -0.3 1.3 -0.3 1.2 -0.2 1.2 -0.2 1.3 -0.1 1.2 -0 1.3 0 1.7 0.1 1.6 0.2 1.7 0.2 1.6 0.3 1.6 0.3 1.6 0.4 1.6 0.4 1.6 0.6 1.5 0.5 1.6 0.7 1.5 0.6 1.4 0.8 1.5 0.7 1.4 0.9 1.3 0.9 1.3 0.9 1.3 1 1.2 1 1.2 1.1 1.2 1.1 1 1.1 1.1 1.2 0.9 1.2 1 1.3 0.8 1.3 0.8 1.3 0.7 1.3 0.7 1.4 0.6 1.4 0.6 1.4 0.4 1.4 0.5 1.4 0.3 1.5 0.3 1.4 0.2 1.5 0.1 1.5 0.1 1.7 -0 2 -0.2 1.9 -0.2 2 -0.4 2 -0.4 1.9 -0.6 1.9 -0.6 1.9 -0.7 1.9 -0.7 1.8 -0.9 1.8 -0.9 1.8 -0.9 1.8 -1 1.6 -1.1 1.7 -1.1 1.6 -1.2 1.6 -1.1 1.4 -1.2 1.5 -1.3 1.4 -1.2 1.3 -1.3 1.3 -1.3 1.2 -1.3 1.1 -1.3 1.1 -1.3 0.9 -1.4 1 -1.3 0.8 -1.3 0.8 -1.3 0.7 -1.4 0.6 -1.3 0.5 -1.3 0.5 -1.4 0.3 -1.3 0.3 -1.3 0.2 -1.4 0.2 -1.3 0 -1.3" fill="none" stroke="#0000ff" stroke-width="1.05" clip-path="url(#cP1)"/>
<path d="M304.0 219.3l0.1 -2.9 -0 -2.8 -0.2 -2.8 -0.2 -2.8 -0.4 -2.8 -0.6 -2.6 -0.6 -2.7 -0.8 -2.5 -0.9 -2.5 -1 -2.3 -1.1 -2.3 -1.2 -2.1 -1.4 -2.1 -1.4 -1.9 -1.5 -1.7 -1.6 -1.6 -1.7 -1.5 -1.7 -1.3 -1.8 -1.1 -1.9 -1 -1.9 -0.8 -1.9 -0.6 -2 -0.4 -2 -0.3 -2.1 -0.1 -2.2 0.1 -2.2 0.3 -2.2 0.4 -2.1 0.6 -2.2 0.8 -2.1 1 -2.1 1.1 -2 1.3 -2 1.5 -1.9 1.6 -1.8 1.7 -1.8 1.9 -1.7 2.1 -1.6 2.1 -1.4 2.3 -1.4 2.3 -1.3 2.5 -1.1 2.5 -1 2.7 -0.9 2.6 -0.8 2.8 -0.7 2.8 -0.5 2.8 -0.4 2.8 -0.2 2.9 -0.1 2.9 0 2.8 0.2 2.8 0.3 2.8 0.5 2.8 0.5 2.6 0.8 2.7 0.8 2.5 1 2.5 1.1 2.3 1.2 2.3 1.3 2.1 1.4 2.1 1.6 1.9 1.6 1.7 1.7 1.6 1.8 1.5 1.9 1.3 1.9 1.1 2 1 2.1 0.8 2.1 0.6 2.1 0.4 2.2 0.3 2.2 0.1 2 -0.1 2.1 -0.3 2 -0.4 2 -0.6 2 -0.8 2 -1 2 -1.1 1.9 -1.3 1.8 -1.5 1.8 -1.6 1.7 -1.7 1.7 -1.9 1.5 -2.1 1.5 -2.1 1.4 -2.3 1.3 -2.3 1.2 -2.5 1 -2.5 1 -2.7 0.9 -2.6 0.7 -2.8 0.6 -2.8 0.5 -2.8 0.4 -2.8 0.2 -2.9M317.0 219.2l0.1 -2.7 -0.1 -2.7 -0.2 -2.7 -0.4 -2.7 -0.6 -2.6 -0.7 -2.5 -0.9 -2.5 -1 -2.4 -1.2 -2.4 -1.3 -2.2 -1.5 -2.2 -1.5 -2 -1.7 -1.9 -1.9 -1.8 -1.9 -1.7 -2 -1.5 -2.2 -1.4 -2.2 -1.2 -2.3 -1.1 -2.4 -0.9 -2.4 -0.8 -2.5 -0.6 -2.5 -0.4 -2.5 -0.3 -2.6 -0.1 -2.3 0.1 -2.3 0.3 -2.2 0.4 -2.3 0.6 -2.2 0.8 -2.2 0.9 -2.2 1.1 -2.1 1.2 -2 1.4 -2 1.5 -1.9 1.7 -1.8 1.8 -1.7 1.9 -1.6 2 -1.6 2.2 -1.4 2.2 -1.3 2.4 -1.1 2.4 -1.1 2.5 -0.9 2.5 -0.8 2.6 -0.7 2.7 -0.5 2.7 -0.4 2.7 -0.2 2.7 -0.1 2.7 0.1 2.7 0.2 2.7 0.3 2.7 0.5 2.6 0.6 2.5 0.7 2.5 0.9 2.4 1 2.4 1.2 2.2 1.3 2.2 1.3 2 1.5 1.9 1.6 1.8 1.7 1.7 1.8 1.5 1.9 1.4 1.9 1.2 2.1 1.1 2 0.9 2.2 0.8 2.2 0.6 2.2 0.4 2.2 0.3 2.3 0.1 2.6 -0.1 2.6 -0.3 2.5 -0.4 2.6 -0.6 2.5 -0.8 2.5 -0.9 2.4 -1.1 2.4 -1.2 2.3 -1.4 2.2 -1.5 2.1 -1.7 2.1 -1.8 1.9 -1.9 1.8 -2 1.7 -2.2 1.6 -2.2 1.5 -2.4 1.3 -2.4 1.2 -2.5 1 -2.5 0.9 -2.6 0.7 -2.7 0.6 -2.7 0.4 -2.7 0.2 -2.7M302.0 219.3l0.1 -2.6 -0 -2.6 -0.2 -2.5 -0.2 -2.5 -0.4 -2.5 -0.5 -2.4 -0.6 -2.4 -0.7 -2.3 -0.8 -2.2 -0.9 -2.2 -1 -2 -1.1 -2 -1.2 -1.8 -1.3 -1.7 -1.4 -1.6 -1.4 -1.4 -1.5 -1.4 -1.6 -1.1 -1.6 -1.1 -1.7 -0.8 -1.8 -0.8 -1.7 -0.5 -1.9 -0.4 -1.8 -0.3 -1.8 -0 -2 0 -1.9 0.3 -1.9 0.4 -1.9 0.5 -1.9 0.8 -1.8 0.8 -1.9 1.1 -1.7 1.1 -1.8 1.4 -1.6 1.4 -1.6 1.6 -1.6 1.7 -1.4 1.8 -1.4 2 -1.3 2 -1.2 2.2 -1.1 2.2 -1 2.3 -0.9 2.4 -0.8 2.4 -0.7 2.5 -0.6 2.5 -0.5 2.5 -0.3 2.6 -0.2 2.6 -0.1 2.6 0 2.6 0.2 2.5 0.2 2.5 0.4 2.5 0.5 2.4 0.7 2.4 0.7 2.3 0.8 2.2 1 2.2 1 2 1.2 2 1.2 1.8 1.4 1.7 1.4 1.6 1.5 1.4 1.5 1.4 1.7 1.1 1.7 1.1 1.7 0.8 1.8 0.8 1.9 0.5 1.8 0.4 1.9 0.3 1.9 0 1.9 -0 1.8 -0.3 1.9 -0.4 1.8 -0.5 1.9 -0.8 1.8 -0.8 1.7 -1.1 1.7 -1.1 1.7 -1.4 1.6 -1.4 1.6 -1.6 1.5 -1.7 1.4 -1.8 1.4 -2 1.2 -2 1.2 -2.2 1.1 -2.2 0.9 -2.3 0.9 -2.4 0.8 -2.4 0.7 -2.5 0.5 -2.5 0.5 -2.5 0.3 -2.6 0.2 -2.6M311.5 219.3l0.1 -2.4 -0.1 -2.5 -0.2 -2.4 -0.3 -2.4 -0.5 -2.4 -0.6 -2.3 -0.8 -2.2 -0.9 -2.2 -1 -2.1 -1.1 -2 -1.3 -2 -1.3 -1.8 -1.5 -1.7 -1.6 -1.7 -1.6 -1.5 -1.8 -1.3 -1.8 -1.3 -2 -1.1 -2 -1 -2 -0.8 -2.1 -0.7 -2.1 -0.5 -2.2 -0.4 -2.2 -0.2 -2.3 -0.1 -2 0.1 -2 0.2 -2 0.4 -1.9 0.5 -2 0.7 -1.9 0.8 -1.9 1 -1.9 1.1 -1.8 1.3 -1.7 1.3 -1.7 1.5 -1.6 1.7 -1.5 1.7 -1.4 1.8 -1.4 2 -1.2 2 -1.1 2.1 -1.1 2.2 -0.9 2.2 -0.8 2.3 -0.7 2.4 -0.6 2.4 -0.5 2.4 -0.3 2.5 -0.2 2.4 -0.1 2.4 0.1 2.5 0.1 2.4 0.3 2.4 0.4 2.4 0.6 2.3 0.6 2.2 0.8 2.2 0.9 2.1 1 2 1.1 2 1.2 1.8 1.3 1.7 1.4 1.7 1.5 1.5 1.6 1.3 1.6 1.3 1.7 1.1 1.8 1 1.8 0.8 1.9 0.7 1.9 0.5 2 0.4 2 0.2 2 0.1 2.2 -0.1 2.2 -0.2 2.3 -0.4 2.2 -0.5 2.1 -0.7 2.2 -0.8 2.1 -1 2.1 -1.1 1.9 -1.3 2 -1.3 1.8 -1.5 1.8 -1.7 1.7 -1.7 1.6 -1.8 1.4 -2 1.4 -2 1.3 -2.1 1.1 -2.2 1 -2.2 0.9 -2.3 0.8 -2.4 0.6 -2.4 0.5 -2.4 0.4 -2.5 0.2 -2.4M300.5 219.2l0.1 -2.3 -0 -2.3 -0.2 -2.3 -0.2 -2.3 -0.3 -2.2 -0.4 -2.2 -0.6 -2.1 -0.6 -2.1 -0.7 -1.9 -0.9 -2 -0.9 -1.8 -1 -1.7 -1 -1.7 -1.2 -1.5 -1.2 -1.4 -1.3 -1.3 -1.4 -1.2 -1.4 -1 -1.5 -1 -1.5 -0.7 -1.6 -0.7 -1.6 -0.5 -1.6 -0.4 -1.6 -0.2 -1.7 -0.1 -1.7 0.1 -1.7 0.2 -1.6 0.4 -1.7 0.5 -1.6 0.7 -1.7 0.7 -1.6 1 -1.5 1 -1.5 1.2 -1.5 1.3 -1.4 1.4 -1.4 1.5 -1.2 1.7 -1.3 1.7 -1.1 1.8 -1.1 2 -0.9 1.9 -0.9 2.1 -0.8 2.1 -0.7 2.2 -0.6 2.2 -0.5 2.3 -0.4 2.3 -0.3 2.3 -0.2 2.3 -0.1 2.3 0 2.3 0.2 2.3 0.2 2.3 0.3 2.2 0.5 2.2 0.5 2.1 0.6 2.1 0.8 1.9 0.8 2 0.9 1.8 1 1.7 1.1 1.7 1.2 1.5 1.2 1.4 1.3 1.3 1.4 1.2 1.4 1 1.5 1 1.5 0.7 1.6 0.7 1.6 0.5 1.7 0.4 1.6 0.2 1.7 0.1 1.7 -0.1 1.6 -0.2 1.7 -0.4 1.6 -0.5 1.7 -0.7 1.6 -0.7 1.6 -1 1.5 -1 1.5 -1.2 1.5 -1.3 1.4 -1.4 1.3 -1.5 1.3 -1.7 1.2 -1.7 1.1 -1.8 1.1 -2 1 -1.9 0.8 -2.1 0.8 -2.1 0.7 -2.2 0.6 -2.2 0.5 -2.3 0.4 -2.3 0.3 -2.3 0.2 -2.3M308.0 219.0l0.1 -2.2 -0.1 -2.2 -0.2 -2.1 -0.3 -2.2 -0.4 -2.1 -0.5 -2 -0.7 -2 -0.7 -2 -0.9 -1.8 -1 -1.9 -1.1 -1.7 -1.2 -1.6 -1.3 -1.6 -1.3 -1.4 -1.5 -1.4 -1.5 -1.2 -1.6 -1.1 -1.7 -1 -1.7 -0.9 -1.8 -0.7 -1.9 -0.6 -1.8 -0.5 -1.9 -0.3 -2 -0.2 -1.9 -0.1 -1.8 0.1 -1.8 0.2 -1.7 0.3 -1.8 0.5 -1.7 0.6 -1.7 0.7 -1.7 0.9 -1.7 1 -1.5 1.1 -1.6 1.2 -1.5 1.4 -1.4 1.4 -1.3 1.6 -1.3 1.6 -1.2 1.7 -1.1 1.9 -1 1.8 -0.9 2 -0.9 2 -0.7 2 -0.6 2.1 -0.5 2.2 -0.4 2.1 -0.3 2.2 -0.2 2.2 -0.1 2.2 0.1 2.2 0.1 2.1 0.3 2.2 0.3 2.1 0.5 2 0.6 2 0.7 2 0.8 1.8 0.9 1.9 0.9 1.7 1.1 1.6 1.2 1.6 1.2 1.4 1.3 1.4 1.4 1.2 1.5 1.1 1.5 1 1.6 0.9 1.6 0.7 1.7 0.6 1.7 0.5 1.7 0.3 1.7 0.2 1.8 0.1 2 -0.1 1.9 -0.2 2 -0.3 1.9 -0.5 1.9 -0.6 1.9 -0.7 1.8 -0.9 1.8 -1 1.7 -1.1 1.7 -1.2 1.7 -1.4 1.5 -1.4 1.5 -1.6 1.4 -1.6 1.3 -1.7 1.2 -1.9 1.1 -1.8 1 -2 0.9 -2 0.7 -2 0.7 -2.1 0.6 -2.2 0.4 -2.1 0.3 -2.2 0.2 -2.2M299.0 218.2l0.1 -2 -0 -2 -0.2 -2 -0.2 -2 -0.3 -2 -0.4 -1.9 -0.5 -1.8 -0.5 -1.8 -0.7 -1.8 -0.7 -1.7 -0.9 -1.6 -0.9 -1.5 -1 -1.4 -1 -1.3 -1.1 -1.3 -1.2 -1.1 -1.2 -1.1 -1.3 -0.9 -1.4 -0.8 -1.3 -0.7 -1.5 -0.5 -1.4 -0.5 -1.5 -0.3 -1.5 -0.2 -1.5 -0 -1.4 0 -1.4 0.2 -1.4 0.3 -1.4 0.5 -1.4 0.5 -1.4 0.7 -1.4 0.8 -1.3 0.9 -1.3 1.1 -1.2 1.1 -1.2 1.3 -1.2 1.3 -1.1 1.4 -1 1.5 -0.9 1.6 -0.9 1.7 -0.9 1.8 -0.7 1.8 -0.7 1.8 -0.6 1.9 -0.5 2 -0.4 2 -0.4 2 -0.2 2 -0.2 2 -0.1 2 0 2 0.1 2 0.2 2 0.3 2 0.4 1.9 0.4 1.8 0.6 1.8 0.6 1.8 0.7 1.7 0.8 1.6 0.8 1.5 0.9 1.4 1 1.3 1.1 1.3 1.1 1.1 1.1 1.1 1.2 0.9 1.3 0.8 1.3 0.7 1.3 0.5 1.4 0.5 1.3 0.3 1.4 0.2 1.5 0 1.5 -0 1.5 -0.2 1.5 -0.3 1.5 -0.5 1.5 -0.5 1.4 -0.7 1.5 -0.8 1.4 -0.9 1.3 -1.1 1.3 -1.1 1.3 -1.3 1.2 -1.3 1.2 -1.4 1.1 -1.5 1 -1.6 0.9 -1.7 0.9 -1.8 0.8 -1.8 0.7 -1.8 0.6 -1.9 0.6 -2 0.4 -2 0.4 -2 0.2 -2 0.2 -2M303.5 217.5l0.1 -1.9 -0.1 -1.8 -0.1 -1.8 -0.3 -1.8 -0.3 -1.8 -0.4 -1.8 -0.6 -1.7 -0.6 -1.6 -0.7 -1.6 -0.8 -1.5 -0.9 -1.5 -1 -1.4 -1.1 -1.3 -1.1 -1.2 -1.2 -1.2 -1.2 -1 -1.4 -1 -1.3 -0.8 -1.5 -0.7 -1.4 -0.7 -1.5 -0.5 -1.6 -0.4 -1.5 -0.3 -1.6 -0.1 -1.6 -0.1 -1.5 0.1 -1.5 0.1 -1.4 0.3 -1.5 0.4 -1.4 0.5 -1.4 0.7 -1.4 0.7 -1.4 0.8 -1.3 1 -1.3 1 -1.2 1.2 -1.2 1.2 -1.1 1.3 -1 1.4 -1 1.5 -0.9 1.5 -0.9 1.6 -0.7 1.6 -0.7 1.7 -0.6 1.8 -0.5 1.8 -0.5 1.8 -0.3 1.8 -0.2 1.8 -0.2 1.9 -0.1 1.9 0.1 1.8 0.1 1.8 0.2 1.8 0.3 1.8 0.4 1.8 0.5 1.7 0.5 1.6 0.7 1.6 0.7 1.5 0.8 1.5 0.9 1.4 1 1.3 1 1.2 1.1 1.2 1.1 1 1.2 1 1.3 0.8 1.3 0.7 1.3 0.7 1.4 0.5 1.4 0.4 1.4 0.3 1.5 0.1 1.4 0.1 1.6 -0.1 1.6 -0.1 1.6 -0.3 1.6 -0.4 1.6 -0.5 1.5 -0.7 1.6 -0.7 1.4 -0.8 1.5 -1 1.4 -1 1.3 -1.2 1.3 -1.2 1.2 -1.3 1.1 -1.4 1.1 -1.5 1 -1.5 0.9 -1.6 0.8 -1.6 0.8 -1.7 0.6 -1.8 0.6 -1.8 0.4 -1.8 0.4 -1.8 0.2 -1.8 0.2 -1.9M297.2 216.3l0.1 -1.7 -0.1 -1.6 -0.1 -1.6 -0.1 -1.6 -0.3 -1.6 -0.3 -1.6 -0.5 -1.5 -0.4 -1.5 -0.6 -1.4 -0.6 -1.4 -0.7 -1.3 -0.8 -1.2 -0.8 -1.2 -0.9 -1.1 -1 -1 -0.9 -0.9 -1.1 -0.8 -1.1 -0.8 -1.1 -0.7 -1.2 -0.5 -1.1 -0.5 -1.3 -0.3 -1.2 -0.3 -1.3 -0.1 -1.2 -0.1 -1.2 0.1 -1.2 0.1 -1.2 0.3 -1.2 0.3 -1.2 0.5 -1.1 0.5 -1.2 0.7 -1.1 0.8 -1 0.8 -1.1 0.9 -1 1 -1 1.1 -0.9 1.2 -0.8 1.2 -0.8 1.3 -0.8 1.4 -0.7 1.4 -0.6 1.5 -0.6 1.5 -0.5 1.6 -0.4 1.6 -0.4 1.6 -0.3 1.6 -0.2 1.6 -0.1 1.7 -0.1 1.7 0.1 1.6 0 1.6 0.2 1.6 0.2 1.6 0.4 1.6 0.3 1.5 0.5 1.5 0.5 1.4 0.6 1.4 0.7 1.3 0.7 1.2 0.7 1.2 0.9 1.1 0.9 1 0.9 0.9 1 0.8 1 0.8 1 0.7 1.1 0.5 1.1 0.5 1.2 0.3 1.2 0.3 1.1 0.1 1.2 0.1 1.3 -0.1 1.3 -0.1 1.2 -0.3 1.3 -0.3 1.2 -0.5 1.3 -0.5 1.2 -0.7 1.1 -0.8 1.2 -0.8 1.1 -0.9 1.1 -1 1 -1.1 0.9 -1.2 1 -1.2 0.8 -1.3 0.8 -1.4 0.7 -1.4 0.7 -1.5 0.6 -1.5 0.5 -1.6 0.5 -1.6 0.3 -1.6 0.3 -1.6 0.3 -1.6 0.1 -1.7M294.7 218.9l0.6 -1.7 0.8 -2.4 1 -2.9 1.1 -2.9 1.2 -2.7 1.4 -2.1 1.5 -1.6 1.6 -1.2 1.8 -1.1 1.9 -0.8 2.1 -0.7 2.1 -0.7 2.4 -0.6 2.7 -0.6 2.8 -0.5 2.9 -0.2 2.7 -0.1 2.4 0.3 2.3 0.5 2.2 0.8 2.1 1 1.9 1.2 1.7 1.5 1.6 1.6 1.3 1.9 1.2 2.3 1 2.4 0.8 2.6 0.7 2.5 0.4 2.2 0.2 2.2 -0.1 2 -0.2 2 -0.4 1.9 -0.5 1.9 -0.7 1.8 -0.9 1.8 -1.1 1.7 -1.2 1.6 -1.4 1.6 -1.4 1.6 -1.4 1.5 -1.4 1.4 -1.5 1.4 -1.6 1.3 -1.5 1.3 -1.7 1.2 -1.6 1.2 -1.6 1.1 -1.7 1.1 -1.7 1.1 -1.7 1 -1.8 0.9 -1.8 0.9 -1.9 0.9 -1.9 0.8 -2.1 0.7 -2 0.8 -1.9 0.6 -1.9 0.6 -1.7 0.6 -1.5 0.5 -1.5 0.4 -1.5 0.5 -1.7 0.4 -1.9 0.3 -2.2 0.4 -2.5 0.3 -2.6 0.3 -2.7 0.3 -2.5 0.2 -2.2 0.2 -2 0.2 -2 0.2 -1.8 0.1 -1.6 0.1 -1.4 0.1 -1 0.1M302.0 216.5l0.3 -1.1 0.5 -1.6 0.5 -1.9 0.6 -2 0.8 -1.8 1 -1.4 1.1 -1.1 1.3 -0.9 1.5 -0.8 1.5 -0.7 1.6 -0.5 1.5 -0.4 1.6 -0.2 1.7 -0.1 1.7 0 1.7 0.2 1.7 0.3 1.4 0.5 1.4 0.7 1.3 0.9 1.3 1 1.1 1.1 1 1.2 0.8 1.3 0.6 1.3 0.5 1.4 0.4 1.5 0.2 1.5 0.1 1.4 -0.1 1.4 -0.3 1.4 -0.4 1.3 -0.6 1.3 -0.7 1.2 -0.8 1.2 -0.9 1 -1 0.8 -1.1 0.8 -1.2 0.7 -1.3 0.6 -1.4 0.5 -1.3 0.2 -1.4 0.2 -1.5 -0.1 -1.5 -0.1 -1.5 -0.3 -1.4 -0.4 -1.3 -0.5 -1.2 -0.6 -1.2 -0.9 -1.2 -1 -1 -1 -0.9 -0.8 -0.6 -0.6M303.3 218.9l0.4 -1 0.5 -1.4 0.6 -1.7 0.6 -1.7 0.8 -1.6 0.8 -1.2 0.9 -0.9 0.9 -0.8 1.1 -0.6 1.1 -0.5 1.1 -0.3 1 -0 1 0.1 1 0.5 1.1 0.6 1 0.8 0.8 0.9 0.7 1 0.6 1.1 0.4 1.2 0.4 1.4 0.2 1.4 0.1 1.4 0 1.3 -0.1 1.2 -0.3 1.3 -0.4 1.2 -0.5 1.2 -0.5 1 -0.6 1 -0.7 0.7 -0.7 0.7 -0.9 0.6 -0.8 0.5 -0.9 0.3 -0.9 0.1 -1 -0.1 -1 -0.4 -1.1 -0.6 -1.1 -0.5 -0.8 -0.5 -0.6 -0.4M265.3 171.2l2.2 0.2 3 0.3 3.5 0.3 3.8 0.4 3.7 0.5 3.4 0.7 3 0.9 3.1 1.1 2.9 1.2 2.9 1.3 2.7 1.4 2.5 1.5 2.4 1.6 2.3 1.7 2.1 1.9 1.9 1.9 1.9 2 1.6 1.9 1.6 2 1.3 2 1.2 2 1.1 2.1 0.9 2.1 0.8 2 0.6 2.1 0.5 2 0.3 2.1 0.2 2 0.1 2 0 2.1 -0.2 2.2 -0.4 2.3 -0.5 2.4 -0.5 2.1 -0.5 1.9 -0.3 1.3" fill="none" stroke="#0000ff" stroke-width="1.05" clip-path="url(#cP2)"/>
<path d="M354.0 338.0l-0.1 -1.5 -0.1 -1.5 -0.3 -1.5 -0.4 -1.4 -0.4 -1.5 -0.6 -1.5 -0.7 -1.4 -0.8 -1.4 -0.9 -1.4 -1 -1.4 -1 -1.3 -1.2 -1.3 -1.3 -1.3 -1.3 -1.2 -1.5 -1.2 -1.5 -1.1 -1.6 -1.1 -1.7 -1.1 -1.8 -1 -1.8 -0.9 -1.9 -1 -2 -0.8 -2 -0.8 -2.1 -0.7 -2.1 -0.7 -2.2 -0.6 -2.2 -0.6 -2.2 -0.5 -2.3 -0.4 -2.3 -0.4 -2.4 -0.3 -2.3 -0.2 -2.4 -0.2 -2.4 -0.1 -2.3 -0 -2.2 0 -2.2 0.2 -2.2 0.4 -2.2 0.4 -2.2 0.5 -2.1 0.7 -2.1 0.8 -2.1 0.8 -2 1 -2 1 -2 1.1 -1.9 1.2 -1.9 1.2 -1.8 1.2 -1.7 1.3 -1.7 1.3 -1.6 1.3 -1.6 1.3 -1.5 1.3 -1.4 1.2 -1.3 1.3 -1.3 1.2 -1.2 1.2 -1 1.1 -1 1.1 -1 1.1 -0.8 1 -0.7 1 -0.6 0.9 -0.6 1 -0.4 0.8 -0.4 0.9 -0.2 0.8 -0.2 0.9 -0 0.8 0 0.8 0.2 0.9 0.2 0.8 0.4 0.9 0.4 0.8 0.6 1 0.6 0.9 0.7 1 0.8 1 1 1.1 1 1.1 1 1.1 1.2 1.2 1.3 1.2 1.3 1.3 1.4 1.2 1.5 1.3 1.6 1.3 1.6 1.3 1.7 1.3 1.7 1.3 1.8 1.2 1.9 1.2 1.9 1.2 2 1.1 2 1 2 1 2.1 0.8 2.1 0.8 2.1 0.7 2.2 0.5 2.2 0.4 2.2 0.4 2.2 0.2 2.2 0 2.3 -0 2.4 -0.1 2.4 -0.2 2.3 -0.2 2.4 -0.3 2.3 -0.4 2.3 -0.4 2.2 -0.5 2.2 -0.6 2.2 -0.6 2.1 -0.7 2.1 -0.7 2 -0.8 2 -0.8 1.9 -1 1.8 -0.9 1.8 -1 1.7 -1.1 1.6 -1.1 1.5 -1.1 1.5 -1.2 1.3 -1.2 1.3 -1.3 1.2 -1.3 1 -1.3 1 -1.4 0.9 -1.4 0.8 -1.4 0.7 -1.4 0.6 -1.5 0.4 -1.5 0.4 -1.4 0.3 -1.5 0.1 -1.5 0.1 -1.5M352.2 337.6l-0.1 -1.5 -0.1 -1.4 -0.3 -1.5 -0.3 -1.4 -0.5 -1.5 -0.5 -1.4 -0.7 -1.4 -0.7 -1.4 -0.9 -1.3 -0.9 -1.4 -1.1 -1.3 -1.1 -1.3 -1.2 -1.2 -1.3 -1.2 -1.4 -1.2 -1.4 -1.1 -1.6 -1.1 -1.6 -1 -1.7 -1 -1.7 -0.9 -1.8 -0.9 -1.9 -0.9 -1.9 -0.7 -2 -0.8 -2 -0.6 -2.1 -0.6 -2.1 -0.6 -2.2 -0.5 -2.2 -0.4 -2.2 -0.3 -2.2 -0.3 -2.2 -0.3 -2.3 -0.1 -2.3 -0.1 -2.3 -0.1 -2 0.1 -2.1 0.2 -2.1 0.3 -2 0.4 -2.1 0.5 -2 0.7 -2 0.7 -2 0.8 -1.9 1 -1.9 0.9 -1.8 1.1 -1.9 1.1 -1.7 1.2 -1.7 1.2 -1.7 1.2 -1.6 1.3 -1.5 1.2 -1.5 1.3 -1.4 1.2 -1.3 1.3 -1.3 1.2 -1.2 1.2 -1.1 1.1 -1 1.2 -1 1.1 -0.8 1 -0.8 1 -0.7 1 -0.6 1 -0.5 0.9 -0.4 0.9 -0.3 0.9 -0.3 0.8 -0.1 0.9 -0.1 0.8 0.1 0.8 0.1 0.9 0.3 0.8 0.3 0.9 0.4 0.9 0.5 0.9 0.6 1 0.7 1 0.8 1 0.8 1 1 1.1 1 1.2 1.1 1.1 1.2 1.2 1.3 1.2 1.3 1.3 1.4 1.2 1.5 1.3 1.5 1.2 1.6 1.3 1.7 1.2 1.7 1.2 1.7 1.2 1.9 1.1 1.8 1.1 1.9 0.9 1.9 1 2 0.8 2 0.7 2 0.7 2.1 0.5 2 0.4 2.1 0.3 2.1 0.2 2 0.1 2.3 -0.1 2.3 -0.1 2.3 -0.1 2.2 -0.3 2.2 -0.3 2.2 -0.3 2.2 -0.4 2.2 -0.5 2.1 -0.6 2.1 -0.6 2 -0.6 2 -0.8 1.9 -0.7 1.9 -0.9 1.8 -0.9 1.7 -0.9 1.7 -1 1.6 -1 1.6 -1.1 1.4 -1.1 1.4 -1.2 1.3 -1.2 1.2 -1.2 1.1 -1.3 1.1 -1.3 0.9 -1.4 0.9 -1.3 0.7 -1.4 0.7 -1.4 0.5 -1.4 0.5 -1.5 0.3 -1.4 0.3 -1.5 0.1 -1.4 0.1 -1.5M350.5 337.6l-0 -1.4 -0.2 -1.5 -0.2 -1.4 -0.4 -1.4 -0.4 -1.4 -0.6 -1.4 -0.6 -1.4 -0.8 -1.4 -0.8 -1.3 -0.9 -1.3 -1 -1.3 -1.1 -1.3 -1.2 -1.2 -1.3 -1.2 -1.3 -1.1 -1.4 -1.1 -1.5 -1.1 -1.6 -1 -1.6 -1 -1.7 -0.9 -1.8 -0.9 -1.8 -0.8 -1.9 -0.8 -2 -0.7 -1.9 -0.6 -2.1 -0.6 -2 -0.5 -2.1 -0.5 -2.1 -0.4 -2.2 -0.4 -2.2 -0.3 -2.2 -0.2 -2.2 -0.2 -2.2 -0.1 -2.2 0 -1.9 0.1 -1.9 0.1 -1.9 0.3 -1.8 0.4 -1.9 0.5 -1.8 0.7 -1.8 0.7 -1.8 0.8 -1.8 0.8 -1.7 1 -1.7 1 -1.6 1.1 -1.6 1.1 -1.6 1.2 -1.5 1.2 -1.4 1.2 -1.4 1.2 -1.4 1.2 -1.3 1.3 -1.2 1.2 -1.1 1.2 -1.1 1.1 -1 1.2 -0.9 1.1 -0.9 1.1 -0.8 1 -0.7 1.1 -0.6 0.9 -0.5 1 -0.5 0.9 -0.4 0.9 -0.3 0.9 -0.2 0.9 -0.1 0.8 -0.1 0.9 0.1 0.9 0.1 0.8 0.2 0.9 0.3 0.9 0.4 0.9 0.5 0.9 0.5 1 0.6 0.9 0.7 1.1 0.8 1 0.9 1.1 0.9 1.1 1 1.2 1.1 1.1 1.1 1.2 1.2 1.2 1.3 1.3 1.4 1.2 1.4 1.2 1.4 1.2 1.5 1.2 1.6 1.2 1.6 1.1 1.6 1.1 1.7 1 1.7 1 1.8 0.8 1.8 0.8 1.8 0.7 1.8 0.7 1.9 0.5 1.8 0.4 1.9 0.3 1.9 0.1 1.9 0.1 2.2 -0 2.2 -0.1 2.2 -0.2 2.2 -0.2 2.2 -0.3 2.2 -0.4 2.1 -0.4 2.1 -0.5 2 -0.5 2.1 -0.6 1.9 -0.6 2 -0.7 1.9 -0.8 1.8 -0.8 1.8 -0.9 1.7 -0.9 1.6 -1 1.6 -1 1.5 -1.1 1.4 -1.1 1.3 -1.1 1.3 -1.2 1.2 -1.2 1.1 -1.3 1 -1.3 0.9 -1.3 0.8 -1.3 0.8 -1.4 0.6 -1.4 0.6 -1.4 0.4 -1.4 0.4 -1.4 0.2 -1.4 0.2 -1.5 0 -1.4M347.4 338.0l-0 -1.4 -0.2 -1.5 -0.2 -1.4 -0.4 -1.4 -0.4 -1.4 -0.5 -1.4 -0.6 -1.4 -0.7 -1.3 -0.8 -1.3 -0.9 -1.3 -0.9 -1.3 -1.1 -1.3 -1.1 -1.2 -1.2 -1.2 -1.3 -1.1 -1.3 -1.1 -1.5 -1.1 -1.5 -1 -1.5 -0.9 -1.7 -0.9 -1.6 -0.9 -1.8 -0.8 -1.8 -0.8 -1.8 -0.7 -1.9 -0.6 -1.9 -0.6 -2 -0.6 -2 -0.4 -2 -0.5 -2.1 -0.3 -2 -0.3 -2.1 -0.2 -2.1 -0.2 -2.2 -0.1 -2.1 -0 -1.8 0 -1.7 0.2 -1.8 0.3 -1.8 0.4 -1.7 0.5 -1.7 0.6 -1.8 0.7 -1.6 0.8 -1.7 0.8 -1.6 0.9 -1.6 1 -1.6 1.1 -1.5 1.1 -1.4 1.1 -1.5 1.2 -1.3 1.2 -1.4 1.2 -1.2 1.2 -1.2 1.2 -1.2 1.2 -1 1.2 -1.1 1.2 -0.9 1.1 -0.9 1.1 -0.8 1.1 -0.7 1.1 -0.7 1 -0.6 1 -0.5 1 -0.4 0.9 -0.4 0.9 -0.3 0.9 -0.2 0.9 -0.1 0.9 -0 0.9 0 0.9 0.1 0.9 0.2 0.9 0.3 0.9 0.4 0.9 0.4 0.9 0.5 1 0.6 1 0.7 1 0.7 1.1 0.8 1.1 0.9 1.1 0.9 1.1 1.1 1.2 1 1.2 1.2 1.2 1.2 1.2 1.2 1.2 1.4 1.2 1.3 1.2 1.5 1.2 1.4 1.1 1.5 1.1 1.6 1.1 1.6 1 1.6 0.9 1.7 0.8 1.6 0.8 1.8 0.7 1.7 0.6 1.7 0.5 1.8 0.4 1.8 0.3 1.7 0.2 1.8 0 2.1 -0 2.2 -0.1 2.1 -0.2 2.1 -0.2 2 -0.3 2.1 -0.3 2 -0.5 2 -0.4 2 -0.6 1.9 -0.6 1.9 -0.6 1.8 -0.7 1.8 -0.8 1.8 -0.8 1.6 -0.9 1.7 -0.9 1.5 -0.9 1.5 -1 1.5 -1.1 1.3 -1.1 1.3 -1.1 1.2 -1.2 1.1 -1.2 1.1 -1.3 0.9 -1.3 0.9 -1.3 0.8 -1.3 0.7 -1.3 0.6 -1.4 0.5 -1.4 0.4 -1.4 0.4 -1.4 0.2 -1.4 0.2 -1.5 0 -1.4M347.3 338.0l-0 -1.4 -0.2 -1.4 -0.2 -1.4 -0.3 -1.4 -0.4 -1.3 -0.5 -1.4 -0.6 -1.3 -0.6 -1.3 -0.8 -1.3 -0.8 -1.3 -0.9 -1.3 -1 -1.2 -1 -1.2 -1.2 -1.1 -1.2 -1.1 -1.2 -1.1 -1.4 -1 -1.4 -1 -1.5 -0.9 -1.5 -0.9 -1.6 -0.9 -1.6 -0.8 -1.7 -0.7 -1.7 -0.7 -1.8 -0.7 -1.8 -0.5 -1.9 -0.6 -1.8 -0.4 -1.9 -0.4 -2 -0.4 -1.9 -0.2 -2 -0.3 -2 -0.1 -1.9 -0.1 -2 -0 -1.8 0 -1.9 0.2 -1.8 0.2 -1.7 0.4 -1.8 0.5 -1.8 0.6 -1.7 0.6 -1.7 0.8 -1.7 0.8 -1.6 0.9 -1.7 0.9 -1.5 1 -1.6 1.1 -1.4 1.1 -1.5 1.1 -1.4 1.2 -1.3 1.1 -1.3 1.2 -1.2 1.2 -1.2 1.1 -1.1 1.2 -1 1.1 -1 1.1 -0.9 1.1 -0.8 1.1 -0.7 1 -0.7 1.1 -0.6 1 -0.5 0.9 -0.5 1 -0.3 0.9 -0.3 0.9 -0.2 0.9 -0.1 0.9 -0.1 0.9 0.1 0.9 0.1 0.9 0.2 0.9 0.3 0.9 0.3 0.9 0.5 1 0.5 0.9 0.6 1 0.7 1.1 0.7 1 0.8 1.1 0.9 1.1 1 1.1 1 1.1 1.1 1.2 1.2 1.1 1.2 1.2 1.3 1.2 1.3 1.1 1.4 1.2 1.5 1.1 1.4 1.1 1.6 1.1 1.5 1 1.7 0.9 1.6 0.9 1.7 0.8 1.7 0.8 1.7 0.6 1.8 0.6 1.8 0.5 1.7 0.4 1.8 0.2 1.9 0.2 1.8 0 2 0 1.9 -0.1 2 -0.1 2 -0.3 1.9 -0.2 2 -0.4 1.9 -0.4 1.8 -0.4 1.9 -0.6 1.8 -0.5 1.8 -0.7 1.7 -0.7 1.7 -0.7 1.6 -0.8 1.6 -0.9 1.5 -0.9 1.5 -0.9 1.4 -1 1.4 -1 1.2 -1.1 1.2 -1.1 1.2 -1.1 1 -1.2 1 -1.2 0.9 -1.3 0.8 -1.3 0.8 -1.3 0.6 -1.3 0.6 -1.3 0.5 -1.4 0.4 -1.3 0.3 -1.4 0.2 -1.4 0.2 -1.4 0 -1.4M343.7 337.4l-0 -1.4 -0.2 -1.4 -0.2 -1.3 -0.3 -1.4 -0.4 -1.4 -0.4 -1.3 -0.6 -1.3 -0.6 -1.3 -0.7 -1.3 -0.8 -1.3 -0.9 -1.2 -0.9 -1.2 -1 -1.2 -1.1 -1.1 -1.2 -1.1 -1.2 -1.1 -1.3 -1 -1.4 -1 -1.4 -0.9 -1.4 -0.9 -1.6 -0.9 -1.5 -0.8 -1.6 -0.7 -1.7 -0.7 -1.7 -0.6 -1.8 -0.6 -1.7 -0.5 -1.8 -0.5 -1.9 -0.4 -1.8 -0.3 -1.9 -0.3 -1.9 -0.2 -1.9 -0.1 -1.9 -0.1 -1.9 -0.1 -1.6 0.1 -1.7 0.1 -1.6 0.3 -1.6 0.4 -1.6 0.4 -1.6 0.6 -1.6 0.6 -1.5 0.7 -1.5 0.8 -1.5 0.9 -1.5 0.9 -1.4 1 -1.4 1 -1.3 1.1 -1.3 1.1 -1.3 1.1 -1.2 1.2 -1.2 1.1 -1.1 1.2 -1 1.1 -1 1.1 -0.9 1.2 -0.9 1.1 -0.8 1.1 -0.8 1.1 -0.6 1 -0.7 1 -0.5 1 -0.5 1 -0.4 1 -0.3 0.9 -0.2 1 -0.2 0.9 -0.1 0.9 -0.1 0.9 0.1 0.9 0.1 0.9 0.2 0.9 0.2 1 0.3 0.9 0.4 1 0.5 1 0.5 1 0.7 1 0.6 1 0.8 1.1 0.8 1.1 0.9 1.1 0.9 1.2 1 1.1 1 1.1 1.1 1.2 1.2 1.1 1.2 1.2 1.3 1.1 1.3 1.1 1.3 1.1 1.4 1 1.4 1 1.5 0.9 1.5 0.9 1.5 0.8 1.5 0.7 1.6 0.6 1.6 0.6 1.6 0.4 1.6 0.4 1.6 0.3 1.7 0.1 1.6 0.1 1.9 -0.1 1.9 -0.1 1.9 -0.1 1.9 -0.2 1.9 -0.3 1.8 -0.3 1.9 -0.4 1.8 -0.5 1.7 -0.5 1.8 -0.6 1.7 -0.6 1.7 -0.7 1.6 -0.7 1.5 -0.8 1.6 -0.9 1.4 -0.9 1.4 -0.9 1.4 -1 1.3 -1 1.2 -1.1 1.2 -1.1 1.1 -1.1 1 -1.2 0.9 -1.2 0.9 -1.2 0.8 -1.3 0.7 -1.3 0.6 -1.3 0.6 -1.3 0.4 -1.3 0.4 -1.4 0.3 -1.4 0.2 -1.3 0.2 -1.4 0 -1.4M341.8 337.2l-0 -1.3 -0.2 -1.4 -0.2 -1.3 -0.2 -1.3 -0.4 -1.3 -0.4 -1.3 -0.5 -1.2 -0.6 -1.3 -0.6 -1.2 -0.7 -1.2 -0.8 -1.2 -0.9 -1.2 -0.9 -1.1 -1 -1.1 -1 -1 -1.2 -1.1 -1.1 -0.9 -1.3 -1 -1.2 -0.9 -1.4 -0.8 -1.4 -0.8 -1.4 -0.8 -1.5 -0.7 -1.5 -0.6 -1.5 -0.6 -1.6 -0.6 -1.6 -0.5 -1.7 -0.4 -1.6 -0.4 -1.7 -0.3 -1.7 -0.3 -1.7 -0.2 -1.8 -0.2 -1.7 -0 -1.7 -0.1 -1.7 0.1 -1.6 0.1 -1.6 0.3 -1.7 0.3 -1.6 0.4 -1.6 0.5 -1.5 0.6 -1.6 0.7 -1.5 0.8 -1.5 0.8 -1.5 0.9 -1.4 0.9 -1.4 0.9 -1.3 1.1 -1.3 1 -1.3 1 -1.2 1.1 -1.2 1.1 -1.1 1.1 -1 1.1 -1 1.1 -0.9 1.1 -0.9 1.1 -0.8 1 -0.8 1 -0.7 1.1 -0.6 1 -0.5 0.9 -0.5 1 -0.4 0.9 -0.3 1 -0.3 0.9 -0.1 0.9 -0.2 0.9 0 0.9 0 0.9 0.2 0.9 0.1 0.9 0.3 0.9 0.3 1 0.4 0.9 0.5 1 0.5 0.9 0.6 1 0.7 1.1 0.8 1 0.8 1 0.9 1.1 0.9 1.1 1 1.1 1 1.1 1.1 1.1 1.2 1.1 1.2 1.1 1.3 1 1.3 1 1.3 1.1 1.4 0.9 1.4 0.9 1.5 0.9 1.5 0.8 1.5 0.8 1.6 0.7 1.5 0.6 1.6 0.5 1.6 0.4 1.7 0.3 1.6 0.3 1.6 0.1 1.7 0.1 1.7 -0.1 1.7 -0 1.8 -0.2 1.7 -0.2 1.7 -0.3 1.7 -0.3 1.6 -0.4 1.7 -0.4 1.6 -0.5 1.6 -0.6 1.5 -0.6 1.5 -0.6 1.5 -0.7 1.4 -0.8 1.4 -0.8 1.4 -0.8 1.2 -0.9 1.3 -1 1.1 -0.9 1.2 -1.1 1 -1 1 -1.1 0.9 -1.1 0.9 -1.2 0.8 -1.2 0.7 -1.2 0.6 -1.2 0.6 -1.3 0.5 -1.2 0.4 -1.3 0.4 -1.3 0.2 -1.3 0.2 -1.3 0.2 -1.4 0 -1.3M340.3 337.8l-0 -1.3 -0.1 -1.3 -0.2 -1.2 -0.3 -1.3 -0.3 -1.3 -0.4 -1.2 -0.5 -1.2 -0.5 -1.2 -0.6 -1.2 -0.7 -1.2 -0.7 -1.1 -0.8 -1.1 -0.9 -1.1 -0.9 -1.1 -1 -1 -1 -1 -1.1 -0.9 -1.2 -0.9 -1.2 -0.9 -1.2 -0.8 -1.3 -0.8 -1.4 -0.7 -1.3 -0.7 -1.5 -0.6 -1.4 -0.6 -1.5 -0.6 -1.5 -0.4 -1.5 -0.5 -1.6 -0.3 -1.6 -0.3 -1.5 -0.3 -1.6 -0.2 -1.7 -0.1 -1.6 -0.1 -1.6 -0.1 -1.6 0.1 -1.6 0.1 -1.5 0.3 -1.6 0.3 -1.6 0.4 -1.5 0.5 -1.5 0.5 -1.5 0.7 -1.5 0.7 -1.4 0.7 -1.4 0.9 -1.4 0.8 -1.3 1 -1.3 0.9 -1.3 1 -1.2 1 -1.2 1 -1.1 1.1 -1 1 -1.1 1.1 -0.9 1 -0.9 1.1 -0.9 1 -0.7 1 -0.8 1.1 -0.6 0.9 -0.6 1 -0.5 1 -0.5 0.9 -0.4 1 -0.3 0.9 -0.2 0.9 -0.2 0.9 -0.1 0.9 -0 0.9 -0 0.9 0.1 0.9 0.2 0.9 0.2 0.9 0.3 0.9 0.4 1 0.5 0.9 0.5 1 0.6 1 0.6 0.9 0.8 1.1 0.7 1 0.9 1 0.9 1.1 0.9 1 1.1 1.1 1 1 1.1 1.1 1.2 1 1.2 1 1.3 1 1.3 0.9 1.3 1 1.4 0.8 1.4 0.9 1.4 0.7 1.5 0.7 1.5 0.7 1.5 0.5 1.5 0.5 1.6 0.4 1.6 0.3 1.5 0.3 1.6 0.1 1.6 0.1 1.6 -0.1 1.6 -0.1 1.7 -0.1 1.6 -0.2 1.5 -0.3 1.6 -0.3 1.6 -0.3 1.5 -0.5 1.5 -0.4 1.5 -0.6 1.4 -0.6 1.5 -0.6 1.3 -0.7 1.4 -0.7 1.3 -0.8 1.2 -0.8 1.2 -0.9 1.2 -0.9 1.1 -0.9 1 -1 1 -1 0.9 -1.1 0.9 -1.1 0.8 -1.1 0.7 -1.1 0.7 -1.2 0.6 -1.2 0.5 -1.2 0.5 -1.2 0.4 -1.2 0.3 -1.3 0.3 -1.3 0.2 -1.2 0.1 -1.3 0 -1.3M338.5 337.6l-0 -1.2 -0.1 -1.3 -0.2 -1.2 -0.3 -1.2 -0.3 -1.2 -0.4 -1.2 -0.4 -1.2 -0.6 -1.2 -0.6 -1.1 -0.6 -1.2 -0.7 -1.1 -0.8 -1.1 -0.9 -1 -0.9 -1 -0.9 -1 -1.1 -1 -1 -0.9 -1.2 -0.8 -1.1 -0.9 -1.3 -0.8 -1.2 -0.7 -1.3 -0.7 -1.4 -0.7 -1.4 -0.6 -1.4 -0.6 -1.4 -0.5 -1.5 -0.4 -1.5 -0.4 -1.5 -0.4 -1.6 -0.3 -1.5 -0.2 -1.6 -0.2 -1.6 -0.2 -1.6 -0.1 -1.6 0 -1.4 0.1 -1.4 0.1 -1.5 0.2 -1.4 0.3 -1.4 0.4 -1.4 0.4 -1.4 0.6 -1.3 0.6 -1.4 0.6 -1.3 0.8 -1.3 0.7 -1.2 0.9 -1.2 0.8 -1.2 1 -1.1 0.9 -1.2 1 -1 0.9 -1 1 -1 1 -0.9 1.1 -0.9 1 -0.8 1 -0.8 1 -0.7 1 -0.6 1 -0.6 0.9 -0.6 1 -0.5 0.9 -0.4 1 -0.3 0.9 -0.3 0.9 -0.2 0.9 -0.2 0.9 -0.1 0.9 -0 0.9 0 0.9 0.1 0.9 0.2 0.9 0.2 0.9 0.3 0.9 0.3 0.9 0.4 1 0.5 0.9 0.6 1 0.6 0.9 0.6 1 0.7 1 0.8 1 0.8 1 0.9 1 0.9 1.1 1 1 1 1 1 0.9 1.2 1 1.1 0.9 1.2 1 1.2 0.8 1.2 0.9 1.3 0.7 1.3 0.8 1.4 0.6 1.3 0.6 1.4 0.6 1.4 0.4 1.4 0.4 1.4 0.3 1.5 0.2 1.4 0.1 1.4 0.1 1.6 -0 1.6 -0.1 1.6 -0.2 1.6 -0.2 1.5 -0.2 1.6 -0.3 1.5 -0.4 1.5 -0.4 1.5 -0.4 1.4 -0.5 1.4 -0.6 1.4 -0.6 1.4 -0.7 1.3 -0.7 1.2 -0.7 1.3 -0.8 1.1 -0.9 1.2 -0.8 1 -0.9 1.1 -1 0.9 -1 0.9 -1 0.9 -1 0.8 -1.1 0.7 -1.1 0.6 -1.2 0.6 -1.1 0.6 -1.2 0.4 -1.2 0.4 -1.2 0.3 -1.2 0.3 -1.2 0.2 -1.2 0.1 -1.3 0 -1.2M337.6 338.1l-0 -1.2 -0.1 -1.2 -0.2 -1.2 -0.2 -1.1 -0.3 -1.2 -0.4 -1.2 -0.4 -1.1 -0.5 -1.1 -0.5 -1.1 -0.6 -1.1 -0.7 -1.1 -0.7 -1 -0.8 -1 -0.8 -1 -0.9 -0.9 -0.9 -0.9 -1 -0.9 -1 -0.9 -1.1 -0.8 -1.1 -0.7 -1.2 -0.7 -1.2 -0.7 -1.2 -0.7 -1.3 -0.5 -1.3 -0.6 -1.3 -0.5 -1.3 -0.4 -1.4 -0.4 -1.4 -0.3 -1.4 -0.3 -1.4 -0.3 -1.5 -0.2 -1.4 -0.1 -1.5 -0.1 -1.4 -0 -1.5 0 -1.4 0.2 -1.5 0.2 -1.4 0.2 -1.4 0.4 -1.5 0.4 -1.3 0.5 -1.4 0.6 -1.4 0.6 -1.3 0.7 -1.3 0.7 -1.3 0.8 -1.2 0.8 -1.2 0.9 -1.2 0.9 -1.1 0.9 -1 0.9 -1.1 1 -1 0.9 -0.9 1 -0.9 1 -0.8 0.9 -0.8 1 -0.7 1 -0.7 0.9 -0.6 1 -0.5 0.9 -0.5 0.9 -0.4 1 -0.4 0.9 -0.2 0.9 -0.3 0.9 -0.1 0.8 -0.1 0.9 -0.1 0.9 0.1 0.9 0.1 0.9 0.1 0.8 0.3 0.9 0.2 0.9 0.4 0.9 0.4 1 0.5 0.9 0.5 0.9 0.6 1 0.7 0.9 0.7 1 0.8 1 0.8 0.9 0.9 1 0.9 1 1 0.9 1.1 1 1 0.9 1.1 0.9 1.2 0.9 1.2 0.9 1.2 0.8 1.3 0.8 1.3 0.7 1.3 0.7 1.4 0.6 1.4 0.6 1.3 0.5 1.5 0.4 1.4 0.4 1.4 0.2 1.5 0.2 1.4 0.2 1.5 0 1.4 -0 1.5 -0.1 1.4 -0.1 1.5 -0.2 1.4 -0.3 1.4 -0.3 1.4 -0.3 1.4 -0.4 1.3 -0.4 1.3 -0.5 1.3 -0.6 1.3 -0.5 1.2 -0.7 1.2 -0.7 1.2 -0.7 1.1 -0.7 1.1 -0.8 1 -0.9 1 -0.9 0.9 -0.9 0.9 -0.9 0.8 -1 0.8 -1 0.7 -1 0.7 -1.1 0.6 -1.1 0.5 -1.1 0.5 -1.1 0.4 -1.1 0.4 -1.2 0.3 -1.2 0.2 -1.1 0.2 -1.2 0.1 -1.2 0 -1.2M334.3 337.2l-0 -1.1 -0.1 -1.2 -0.2 -1.1 -0.2 -1.1 -0.3 -1.2 -0.3 -1.1 -0.4 -1.1 -0.5 -1 -0.5 -1.1 -0.6 -1 -0.6 -1.1 -0.7 -0.9 -0.8 -1 -0.8 -1 -0.8 -0.9 -0.9 -0.8 -1 -0.9 -1 -0.8 -1 -0.8 -1.1 -0.7 -1.1 -0.7 -1.2 -0.6 -1.1 -0.6 -1.3 -0.6 -1.2 -0.5 -1.3 -0.5 -1.3 -0.4 -1.3 -0.4 -1.4 -0.3 -1.3 -0.3 -1.4 -0.2 -1.4 -0.2 -1.4 -0.1 -1.4 -0.1 -1.4 -0 -1.2 0 -1.3 0.1 -1.2 0.2 -1.2 0.3 -1.2 0.3 -1.3 0.4 -1.1 0.5 -1.2 0.5 -1.2 0.6 -1.1 0.6 -1.1 0.7 -1.1 0.7 -1 0.8 -1.1 0.8 -0.9 0.9 -1 0.8 -0.9 0.9 -0.9 0.9 -0.8 0.9 -0.8 1 -0.8 0.9 -0.7 0.9 -0.6 1 -0.7 0.9 -0.5 0.9 -0.5 0.9 -0.5 0.9 -0.4 0.9 -0.4 0.9 -0.3 0.9 -0.2 0.9 -0.2 0.9 -0.1 0.9 -0.1 0.8 -0.1 0.9 0.1 0.9 0.1 0.8 0.1 0.9 0.2 0.9 0.2 0.9 0.3 0.9 0.4 0.9 0.4 0.9 0.5 0.9 0.5 0.9 0.5 0.9 0.7 0.9 0.6 1 0.7 0.9 0.8 0.9 0.8 1 0.8 0.9 0.9 0.9 0.9 0.9 1 0.8 0.9 0.9 1.1 0.8 1 0.8 1.1 0.7 1.1 0.7 1.1 0.6 1.2 0.6 1.2 0.5 1.1 0.5 1.3 0.4 1.2 0.3 1.2 0.3 1.2 0.2 1.3 0.1 1.2 0 1.4 0 1.4 -0.1 1.4 -0.1 1.4 -0.2 1.4 -0.2 1.3 -0.3 1.4 -0.3 1.3 -0.4 1.3 -0.4 1.3 -0.5 1.2 -0.5 1.3 -0.6 1.1 -0.6 1.2 -0.6 1.1 -0.7 1.1 -0.7 1 -0.8 1 -0.8 1 -0.9 0.9 -0.8 0.8 -0.9 0.8 -1 0.8 -1 0.7 -0.9 0.6 -1.1 0.6 -1 0.5 -1.1 0.5 -1 0.4 -1.1 0.3 -1.1 0.3 -1.2 0.2 -1.1 0.2 -1.1 0.1 -1.2 0 -1.1M333.2 337.6l-0 -1.1 -0.1 -1.1 -0.2 -1.1 -0.2 -1.1 -0.2 -1 -0.3 -1.1 -0.4 -1 -0.4 -1.1 -0.5 -1 -0.5 -1 -0.6 -1 -0.7 -0.9 -0.6 -0.9 -0.8 -0.9 -0.7 -0.9 -0.9 -0.9 -0.8 -0.8 -0.9 -0.7 -1 -0.8 -1 -0.7 -1 -0.6 -1.1 -0.7 -1 -0.5 -1.2 -0.6 -1.1 -0.5 -1.2 -0.4 -1.2 -0.4 -1.2 -0.4 -1.2 -0.3 -1.2 -0.3 -1.3 -0.2 -1.3 -0.2 -1.2 -0.1 -1.3 -0.1 -1.3 -0 -1.3 0 -1.2 0.1 -1.2 0.2 -1.2 0.3 -1.3 0.3 -1.2 0.3 -1.1 0.5 -1.2 0.5 -1.2 0.5 -1.1 0.6 -1.1 0.7 -1.1 0.7 -1 0.7 -1 0.7 -1 0.8 -1 0.9 -0.9 0.8 -0.9 0.9 -0.8 0.8 -0.8 0.9 -0.7 0.9 -0.7 0.9 -0.7 0.9 -0.6 0.9 -0.6 0.9 -0.5 0.9 -0.5 0.9 -0.4 0.8 -0.3 0.9 -0.3 0.9 -0.3 0.9 -0.2 0.8 -0.1 0.9 -0.1 0.8 -0 0.9 0 0.9 0.1 0.8 0.1 0.9 0.2 0.8 0.3 0.9 0.3 0.9 0.3 0.9 0.4 0.8 0.5 0.9 0.5 0.9 0.6 0.9 0.6 0.9 0.7 0.9 0.7 0.9 0.7 0.9 0.8 0.9 0.8 0.8 0.9 0.9 0.9 0.8 1 0.9 1 0.8 1 0.7 1 0.7 1.1 0.7 1.1 0.7 1.1 0.6 1.2 0.5 1.2 0.5 1.1 0.5 1.2 0.3 1.3 0.3 1.2 0.3 1.2 0.2 1.2 0.1 1.3 0 1.3 -0 1.3 -0.1 1.2 -0.1 1.3 -0.2 1.3 -0.2 1.2 -0.3 1.2 -0.3 1.2 -0.4 1.2 -0.4 1.2 -0.4 1.1 -0.5 1.2 -0.6 1 -0.5 1.1 -0.7 1 -0.6 1 -0.7 1 -0.8 0.9 -0.7 0.8 -0.8 0.9 -0.9 0.7 -0.9 0.8 -0.9 0.6 -0.9 0.7 -0.9 0.6 -1 0.5 -1 0.5 -1 0.4 -1.1 0.4 -1 0.3 -1.1 0.2 -1 0.2 -1.1 0.2 -1.1 0.1 -1.1 0 -1.1M331.6 337.4l-0 -1 -0.1 -1 -0.1 -1 -0.2 -1 -0.3 -1 -0.3 -0.9 -0.3 -1 -0.4 -0.9 -0.5 -1 -0.5 -0.9 -0.6 -0.9 -0.6 -0.8 -0.6 -0.9 -0.7 -0.8 -0.8 -0.8 -0.8 -0.8 -0.8 -0.7 -0.9 -0.7 -0.9 -0.7 -0.9 -0.6 -1 -0.6 -1 -0.6 -1 -0.5 -1.1 -0.5 -1.1 -0.5 -1.1 -0.4 -1.2 -0.4 -1.1 -0.3 -1.2 -0.3 -1.2 -0.2 -1.2 -0.2 -1.2 -0.2 -1.2 -0.1 -1.3 -0.1 -1.2 0 -1.1 0 -1.2 0.1 -1.1 0.2 -1.2 0.2 -1.1 0.3 -1.1 0.3 -1.1 0.4 -1.1 0.4 -1.1 0.5 -1 0.6 -1 0.5 -1 0.7 -1 0.6 -1 0.7 -0.9 0.7 -0.9 0.8 -0.8 0.7 -0.8 0.8 -0.8 0.8 -0.7 0.8 -0.7 0.8 -0.7 0.8 -0.6 0.8 -0.6 0.9 -0.5 0.8 -0.5 0.8 -0.4 0.8 -0.4 0.8 -0.3 0.9 -0.3 0.8 -0.2 0.8 -0.2 0.8 -0.1 0.8 -0.1 0.8 -0 0.8 -0 0.8 0.1 0.8 0.1 0.8 0.2 0.8 0.2 0.8 0.3 0.8 0.3 0.9 0.4 0.8 0.4 0.8 0.5 0.8 0.5 0.8 0.6 0.9 0.6 0.8 0.7 0.8 0.7 0.8 0.7 0.8 0.8 0.8 0.8 0.8 0.8 0.7 0.9 0.8 0.9 0.7 1 0.7 1 0.6 1 0.7 1 0.5 1 0.6 1.1 0.5 1.1 0.4 1.1 0.4 1.1 0.3 1.1 0.3 1.2 0.2 1.1 0.2 1.2 0.1 1.1 -0 1.2 -0 1.3 -0.1 1.2 -0.1 1.2 -0.2 1.2 -0.2 1.2 -0.2 1.2 -0.3 1.1 -0.3 1.2 -0.4 1.1 -0.4 1.1 -0.5 1.1 -0.5 1 -0.5 1 -0.6 1 -0.6 0.9 -0.6 0.9 -0.7 0.9 -0.7 0.8 -0.7 0.8 -0.8 0.8 -0.8 0.7 -0.8 0.6 -0.9 0.6 -0.8 0.6 -0.9 0.5 -0.9 0.5 -1 0.4 -0.9 0.3 -1 0.3 -0.9 0.3 -1 0.2 -1 0.1 -1 0.1 -1 0 -1M329.6 337.7l-0 -1 -0.1 -0.9 -0.1 -1 -0.2 -1 -0.2 -0.9 -0.3 -1 -0.3 -0.9 -0.3 -0.9 -0.4 -0.9 -0.5 -0.9 -0.5 -0.9 -0.5 -0.8 -0.6 -0.8 -0.6 -0.8 -0.7 -0.8 -0.7 -0.8 -0.7 -0.7 -0.8 -0.7 -0.8 -0.6 -0.8 -0.7 -0.9 -0.5 -0.9 -0.6 -0.9 -0.5 -0.9 -0.5 -1 -0.4 -1 -0.4 -1 -0.4 -1 -0.3 -1.1 -0.3 -1 -0.2 -1.1 -0.2 -1.1 -0.2 -1.1 -0.1 -1 -0.1 -1.1 0 -1.1 0 -1 0.1 -1.1 0.2 -1 0.2 -1.1 0.2 -1 0.4 -1 0.3 -1 0.4 -1 0.5 -0.9 0.5 -1 0.6 -0.9 0.5 -0.9 0.7 -0.8 0.6 -0.9 0.7 -0.8 0.7 -0.8 0.7 -0.7 0.8 -0.7 0.8 -0.7 0.7 -0.6 0.8 -0.6 0.8 -0.6 0.8 -0.5 0.8 -0.5 0.8 -0.4 0.8 -0.4 0.9 -0.4 0.8 -0.3 0.8 -0.2 0.8 -0.2 0.8 -0.2 0.8 -0.1 0.8 -0.1 0.8 -0 0.8 0 0.8 0.1 0.8 0.1 0.8 0.2 0.8 0.2 0.8 0.2 0.8 0.3 0.8 0.4 0.8 0.4 0.9 0.4 0.8 0.5 0.8 0.5 0.8 0.6 0.8 0.6 0.8 0.6 0.8 0.7 0.7 0.7 0.8 0.7 0.8 0.8 0.7 0.8 0.7 0.9 0.7 0.8 0.6 0.9 0.7 0.9 0.5 1 0.6 0.9 0.5 1 0.5 1 0.4 1 0.3 1 0.4 1.1 0.2 1 0.2 1.1 0.2 1 0.1 1.1 -0 1.1 -0 1 -0.1 1.1 -0.1 1.1 -0.2 1.1 -0.2 1 -0.2 1.1 -0.3 1 -0.3 1 -0.4 1 -0.4 1 -0.4 0.9 -0.5 0.9 -0.5 0.9 -0.6 0.9 -0.5 0.8 -0.7 0.8 -0.6 0.8 -0.7 0.7 -0.7 0.7 -0.8 0.7 -0.8 0.6 -0.8 0.6 -0.8 0.5 -0.8 0.5 -0.9 0.5 -0.9 0.4 -0.9 0.3 -0.9 0.3 -0.9 0.3 -1 0.2 -0.9 0.2 -1 0.1 -1 0.1 -0.9 0 -1M326.0 337.6l-0 -0.9 -0.1 -0.9 -0.1 -0.9 -0.1 -0.9 -0.2 -0.9 -0.2 -0.8 -0.3 -0.9 -0.3 -0.8 -0.4 -0.9 -0.4 -0.8 -0.4 -0.8 -0.4 -0.8 -0.5 -0.7 -0.6 -0.8 -0.5 -0.7 -0.6 -0.7 -0.7 -0.6 -0.6 -0.7 -0.7 -0.6 -0.7 -0.5 -0.8 -0.6 -0.7 -0.5 -0.8 -0.5 -0.8 -0.4 -0.8 -0.4 -0.9 -0.4 -0.9 -0.3 -0.8 -0.3 -0.9 -0.3 -0.9 -0.2 -0.9 -0.2 -1 -0.1 -0.9 -0.1 -0.9 -0.1 -0.9 0 -1 0 -1 0.1 -1 0.1 -0.9 0.2 -1 0.3 -0.9 0.2 -0.9 0.4 -0.9 0.3 -0.9 0.5 -0.9 0.4 -0.9 0.5 -0.8 0.5 -0.9 0.6 -0.8 0.6 -0.7 0.6 -0.8 0.7 -0.7 0.6 -0.7 0.7 -0.6 0.7 -0.7 0.7 -0.6 0.7 -0.5 0.8 -0.5 0.7 -0.5 0.8 -0.4 0.7 -0.4 0.8 -0.4 0.7 -0.3 0.8 -0.3 0.7 -0.2 0.8 -0.2 0.8 -0.2 0.7 -0.1 0.8 -0.1 0.7 0 0.8 0 0.8 0.1 0.7 0.1 0.8 0.2 0.7 0.2 0.8 0.2 0.8 0.3 0.7 0.3 0.8 0.4 0.7 0.4 0.8 0.4 0.7 0.5 0.8 0.5 0.7 0.5 0.8 0.6 0.7 0.7 0.7 0.6 0.7 0.7 0.7 0.7 0.6 0.8 0.7 0.7 0.6 0.8 0.6 0.9 0.6 0.8 0.5 0.9 0.5 0.9 0.4 0.9 0.5 0.9 0.3 0.9 0.4 0.9 0.2 1 0.3 0.9 0.2 1 0.1 1 0.1 1 -0 0.9 -0 0.9 -0.1 0.9 -0.1 1 -0.1 0.9 -0.2 0.9 -0.2 0.9 -0.3 0.8 -0.3 0.9 -0.3 0.9 -0.4 0.8 -0.4 0.8 -0.4 0.8 -0.5 0.7 -0.5 0.8 -0.6 0.7 -0.5 0.7 -0.6 0.6 -0.7 0.7 -0.6 0.6 -0.7 0.5 -0.7 0.6 -0.8 0.5 -0.7 0.4 -0.8 0.4 -0.8 0.4 -0.8 0.4 -0.9 0.3 -0.8 0.3 -0.9 0.2 -0.8 0.2 -0.9 0.1 -0.9 0.1 -0.9 0.1 -0.9 0 -0.9M324.1 337.5l-0 -0.8 -0.1 -0.9 -0 -0.8 -0.2 -0.8 -0.1 -0.9 -0.2 -0.8 -0.2 -0.8 -0.3 -0.8 -0.2 -0.8 -0.3 -0.7 -0.4 -0.8 -0.3 -0.7 -0.4 -0.7 -0.5 -0.7 -0.4 -0.7 -0.5 -0.6 -0.5 -0.7 -0.5 -0.6 -0.5 -0.5 -0.6 -0.6 -0.6 -0.5 -0.6 -0.4 -0.6 -0.5 -0.7 -0.4 -0.6 -0.4 -0.7 -0.3 -0.7 -0.4 -0.7 -0.2 -0.7 -0.3 -0.7 -0.2 -0.8 -0.1 -0.7 -0.2 -0.7 -0.1 -0.8 -0 -0.7 -0 -1 -0 -0.9 0 -1 0.2 -0.9 0.1 -0.9 0.2 -1 0.3 -0.9 0.3 -0.9 0.3 -0.9 0.4 -0.8 0.4 -0.9 0.5 -0.8 0.5 -0.8 0.5 -0.8 0.5 -0.8 0.6 -0.7 0.6 -0.7 0.6 -0.7 0.7 -0.6 0.6 -0.6 0.7 -0.6 0.6 -0.5 0.7 -0.6 0.7 -0.4 0.7 -0.5 0.8 -0.4 0.7 -0.3 0.7 -0.3 0.7 -0.3 0.7 -0.2 0.8 -0.2 0.7 -0.2 0.7 -0.1 0.7 -0 0.8 -0.1 0.7 0.1 0.7 0 0.8 0.1 0.7 0.2 0.7 0.2 0.7 0.2 0.8 0.3 0.7 0.3 0.7 0.3 0.7 0.4 0.7 0.5 0.8 0.4 0.7 0.6 0.7 0.5 0.7 0.6 0.6 0.6 0.7 0.6 0.6 0.7 0.7 0.7 0.6 0.7 0.6 0.8 0.6 0.8 0.5 0.8 0.5 0.8 0.5 0.9 0.5 0.8 0.4 0.9 0.4 0.9 0.3 0.9 0.3 1 0.3 0.9 0.2 0.9 0.1 1 0.2 0.9 0 1 0 0.7 0 0.8 -0 0.7 -0.1 0.7 -0.2 0.8 -0.1 0.7 -0.2 0.7 -0.3 0.7 -0.2 0.7 -0.4 0.7 -0.3 0.6 -0.4 0.7 -0.4 0.6 -0.5 0.6 -0.4 0.6 -0.5 0.6 -0.6 0.5 -0.5 0.5 -0.6 0.5 -0.7 0.5 -0.6 0.4 -0.7 0.5 -0.7 0.4 -0.7 0.3 -0.7 0.4 -0.8 0.3 -0.7 0.2 -0.8 0.3 -0.8 0.2 -0.8 0.2 -0.8 0.1 -0.9 0.2 -0.8 0 -0.8 0.1 -0.9 0 -0.8M322.2 336.9l-0 -0.7 -0.1 -0.8 -0.1 -0.7 -0.1 -0.8 -0.1 -0.7 -0.2 -0.7 -0.2 -0.8 -0.3 -0.7 -0.3 -0.7 -0.3 -0.6 -0.3 -0.7 -0.4 -0.7 -0.4 -0.6 -0.5 -0.6 -0.4 -0.6 -0.5 -0.6 -0.5 -0.5 -0.6 -0.6 -0.5 -0.5 -0.6 -0.4 -0.6 -0.5 -0.7 -0.4 -0.6 -0.4 -0.7 -0.4 -0.6 -0.3 -0.7 -0.3 -0.8 -0.3 -0.7 -0.3 -0.7 -0.2 -0.8 -0.2 -0.7 -0.1 -0.8 -0.1 -0.7 -0.1 -0.8 -0.1 -0.7 0 -0.8 0 -0.7 0.1 -0.7 0.1 -0.7 0.1 -0.7 0.2 -0.7 0.2 -0.7 0.3 -0.6 0.3 -0.7 0.3 -0.7 0.4 -0.6 0.4 -0.6 0.4 -0.6 0.5 -0.6 0.4 -0.6 0.5 -0.5 0.6 -0.6 0.5 -0.5 0.6 -0.4 0.5 -0.5 0.6 -0.4 0.6 -0.4 0.6 -0.4 0.7 -0.4 0.6 -0.3 0.6 -0.3 0.7 -0.3 0.6 -0.2 0.7 -0.2 0.6 -0.2 0.7 -0.1 0.6 -0.1 0.7 -0.1 0.7 -0.1 0.6 0 0.7 0 0.7 0.1 0.6 0.1 0.7 0.1 0.7 0.1 0.6 0.2 0.7 0.2 0.6 0.2 0.7 0.3 0.6 0.3 0.7 0.3 0.6 0.4 0.6 0.4 0.7 0.4 0.6 0.4 0.6 0.5 0.6 0.4 0.5 0.5 0.6 0.6 0.5 0.5 0.6 0.6 0.5 0.6 0.4 0.6 0.5 0.6 0.4 0.6 0.4 0.7 0.4 0.7 0.3 0.6 0.3 0.7 0.3 0.7 0.2 0.7 0.2 0.7 0.1 0.7 0.1 0.7 0.1 0.8 -0 0.7 -0 0.8 -0.1 0.7 -0.1 0.8 -0.1 0.7 -0.1 0.8 -0.2 0.7 -0.2 0.7 -0.3 0.8 -0.3 0.7 -0.3 0.6 -0.3 0.7 -0.4 0.6 -0.4 0.7 -0.4 0.6 -0.5 0.6 -0.4 0.5 -0.5 0.6 -0.6 0.5 -0.5 0.5 -0.6 0.4 -0.6 0.5 -0.6 0.4 -0.6 0.4 -0.7 0.3 -0.7 0.3 -0.6 0.3 -0.7 0.3 -0.7 0.2 -0.8 0.2 -0.7 0.1 -0.7 0.1 -0.8 0.1 -0.7 0.1 -0.8 0 -0.7M321.6 337.1l-0 -0.7 -0.1 -0.7 -0 -0.7 -0.1 -0.6 -0.2 -0.7 -0.1 -0.7 -0.2 -0.6 -0.2 -0.7 -0.3 -0.6 -0.2 -0.7 -0.3 -0.6 -0.4 -0.6 -0.3 -0.5 -0.4 -0.6 -0.4 -0.6 -0.4 -0.5 -0.4 -0.5 -0.5 -0.5 -0.5 -0.4 -0.5 -0.5 -0.5 -0.4 -0.5 -0.4 -0.6 -0.4 -0.5 -0.3 -0.6 -0.3 -0.6 -0.3 -0.6 -0.3 -0.6 -0.2 -0.7 -0.2 -0.6 -0.1 -0.6 -0.2 -0.7 -0.1 -0.6 -0.1 -0.7 -0 -0.6 -0 -0.8 -0 -0.7 0 -0.7 0.1 -0.7 0.2 -0.7 0.1 -0.7 0.2 -0.7 0.2 -0.7 0.3 -0.6 0.3 -0.7 0.3 -0.6 0.4 -0.7 0.4 -0.6 0.4 -0.6 0.4 -0.5 0.4 -0.6 0.5 -0.5 0.5 -0.5 0.5 -0.5 0.5 -0.5 0.6 -0.4 0.5 -0.4 0.6 -0.4 0.6 -0.4 0.6 -0.3 0.5 -0.3 0.6 -0.3 0.6 -0.2 0.7 -0.2 0.6 -0.2 0.6 -0.1 0.6 -0.1 0.6 -0.1 0.7 -0.1 0.6 0 0.6 0 0.6 0.1 0.6 0.1 0.7 0.1 0.6 0.1 0.6 0.2 0.6 0.2 0.6 0.2 0.7 0.3 0.6 0.3 0.6 0.3 0.5 0.4 0.6 0.4 0.6 0.4 0.6 0.4 0.5 0.5 0.6 0.5 0.5 0.5 0.5 0.5 0.5 0.6 0.5 0.5 0.4 0.6 0.4 0.6 0.4 0.7 0.4 0.6 0.4 0.7 0.3 0.6 0.3 0.7 0.3 0.7 0.2 0.7 0.2 0.7 0.1 0.7 0.2 0.7 0.1 0.7 0 0.8 0 0.6 0 0.7 -0 0.6 -0.1 0.7 -0.1 0.6 -0.2 0.6 -0.1 0.7 -0.2 0.6 -0.2 0.6 -0.3 0.6 -0.3 0.6 -0.3 0.5 -0.3 0.6 -0.4 0.5 -0.4 0.5 -0.4 0.5 -0.5 0.5 -0.4 0.5 -0.5 0.4 -0.5 0.4 -0.5 0.4 -0.6 0.4 -0.6 0.3 -0.5 0.4 -0.6 0.3 -0.6 0.2 -0.7 0.3 -0.6 0.2 -0.7 0.2 -0.6 0.1 -0.7 0.2 -0.7 0.1 -0.6 0 -0.7 0.1 -0.7 0 -0.7M318.4 337.2l-0 -0.6 -0 -0.6 -0.1 -0.5 -0.1 -0.6 -0.1 -0.6 -0.1 -0.6 -0.1 -0.5 -0.2 -0.6 -0.1 -0.5 -0.2 -0.5 -0.2 -0.6 -0.2 -0.5 -0.3 -0.5 -0.3 -0.5 -0.2 -0.4 -0.3 -0.5 -0.3 -0.4 -0.4 -0.4 -0.3 -0.4 -0.3 -0.4 -0.4 -0.3 -0.4 -0.4 -0.4 -0.3 -0.4 -0.3 -0.4 -0.2 -0.4 -0.3 -0.4 -0.2 -0.5 -0.2 -0.4 -0.2 -0.4 -0.1 -0.5 -0.1 -0.5 -0.1 -0.4 -0.1 -0.5 -0 -0.4 -0 -0.7 -0 -0.7 0 -0.7 0.1 -0.6 0.1 -0.7 0.1 -0.6 0.2 -0.7 0.2 -0.6 0.2 -0.7 0.3 -0.6 0.2 -0.6 0.3 -0.6 0.3 -0.5 0.4 -0.6 0.3 -0.5 0.4 -0.6 0.4 -0.5 0.4 -0.4 0.4 -0.5 0.5 -0.4 0.4 -0.4 0.5 -0.4 0.5 -0.4 0.5 -0.3 0.5 -0.3 0.5 -0.3 0.5 -0.3 0.5 -0.2 0.5 -0.2 0.6 -0.1 0.5 -0.2 0.5 -0.1 0.6 -0.1 0.5 -0 0.6 -0 0.5 -0 0.5 0 0.6 0.1 0.5 0.1 0.6 0.2 0.5 0.1 0.5 0.2 0.6 0.2 0.5 0.3 0.5 0.3 0.5 0.3 0.5 0.3 0.5 0.4 0.5 0.4 0.5 0.4 0.5 0.4 0.4 0.5 0.5 0.4 0.4 0.5 0.4 0.6 0.4 0.5 0.4 0.6 0.3 0.5 0.4 0.6 0.3 0.6 0.3 0.6 0.2 0.7 0.3 0.6 0.2 0.7 0.2 0.6 0.2 0.7 0.1 0.6 0.1 0.7 0.1 0.7 0 0.7 0 0.4 0 0.5 -0 0.4 -0.1 0.5 -0.1 0.5 -0.1 0.4 -0.1 0.4 -0.2 0.5 -0.2 0.4 -0.2 0.4 -0.3 0.4 -0.2 0.4 -0.3 0.4 -0.3 0.4 -0.4 0.4 -0.3 0.3 -0.4 0.3 -0.4 0.4 -0.4 0.3 -0.4 0.3 -0.5 0.2 -0.4 0.3 -0.5 0.3 -0.5 0.2 -0.5 0.2 -0.6 0.2 -0.5 0.1 -0.5 0.2 -0.6 0.1 -0.5 0.1 -0.6 0.1 -0.6 0.1 -0.6 0.1 -0.5 -0 -0.6 0 -0.6M316.3 337.0l-0 -0.5 -0 -0.5 -0.1 -0.5 -0 -0.5 -0.1 -0.6 -0.1 -0.5 -0.2 -0.4 -0.1 -0.5 -0.1 -0.5 -0.2 -0.5 -0.2 -0.4 -0.2 -0.5 -0.2 -0.4 -0.3 -0.4 -0.2 -0.5 -0.3 -0.4 -0.3 -0.3 -0.3 -0.4 -0.3 -0.3 -0.3 -0.4 -0.3 -0.3 -0.4 -0.3 -0.3 -0.3 -0.4 -0.2 -0.3 -0.2 -0.4 -0.3 -0.4 -0.1 -0.4 -0.2 -0.4 -0.2 -0.4 -0.1 -0.4 -0.1 -0.4 -0.1 -0.4 -0 -0.4 -0.1 -0.5 0 -0.4 0 -0.5 0.1 -0.5 0 -0.4 0.1 -0.5 0.1 -0.4 0.2 -0.5 0.1 -0.4 0.2 -0.5 0.2 -0.4 0.3 -0.4 0.2 -0.4 0.3 -0.4 0.3 -0.4 0.3 -0.4 0.3 -0.3 0.3 -0.4 0.4 -0.3 0.4 -0.3 0.4 -0.3 0.4 -0.3 0.4 -0.3 0.4 -0.2 0.4 -0.3 0.5 -0.2 0.4 -0.2 0.5 -0.2 0.4 -0.1 0.5 -0.2 0.5 -0.1 0.5 -0.1 0.5 -0 0.4 -0.1 0.5 -0 0.5 -0 0.5 -0 0.5 0 0.5 0.1 0.5 0 0.4 0.1 0.5 0.1 0.5 0.2 0.5 0.1 0.5 0.2 0.4 0.2 0.5 0.2 0.4 0.3 0.5 0.2 0.4 0.3 0.4 0.3 0.4 0.3 0.4 0.3 0.4 0.3 0.4 0.4 0.4 0.3 0.3 0.4 0.3 0.4 0.3 0.4 0.3 0.4 0.3 0.4 0.2 0.4 0.3 0.5 0.2 0.4 0.2 0.5 0.1 0.4 0.2 0.5 0.1 0.4 0.1 0.5 0 0.5 0.1 0.4 -0 0.5 -0 0.4 -0.1 0.4 -0 0.4 -0.1 0.4 -0.1 0.4 -0.1 0.4 -0.2 0.4 -0.2 0.4 -0.1 0.4 -0.3 0.3 -0.2 0.4 -0.2 0.3 -0.3 0.4 -0.3 0.3 -0.3 0.3 -0.4 0.3 -0.3 0.3 -0.4 0.3 -0.3 0.3 -0.4 0.2 -0.5 0.3 -0.4 0.2 -0.4 0.2 -0.5 0.2 -0.4 0.2 -0.5 0.1 -0.5 0.1 -0.5 0.2 -0.4 0.1 -0.5 0.1 -0.6 0 -0.5 0.1 -0.5 -0 -0.5 0 -0.5M309.8 336.8l-0 -0.8 -0.1 -0.7 -0.1 -0.7 -0.2 -0.6 -0.2 -0.6 -0.3 -0.5 -0.3 -0.4 -0.3 -0.3 -0.4 -0.1 -0.3 -0.1 -0.3 0.1 -0.4 0.1 -0.3 0.3 -0.3 0.4 -0.3 0.5 -0.2 0.6 -0.2 0.6 -0.1 0.7 -0.1 0.7 0 0.8 0 0.8 0.1 0.7 0.1 0.7 0.2 0.6 0.2 0.6 0.3 0.5 0.3 0.4 0.3 0.3 0.4 0.1 0.3 0.1 0.3 -0.1 0.4 -0.1 0.3 -0.3 0.3 -0.4 0.3 -0.5 0.2 -0.6 0.2 -0.6 0.1 -0.7 0.1 -0.7 0 -0.8M310.5 336.8l-0 -0.9 -0.1 -0.8 -0.2 -0.8 -0.2 -0.7 -0.3 -0.7 -0.4 -0.5 -0.4 -0.5 -0.4 -0.3 -0.4 -0.2 -0.5 -0.1 -0.4 0.1 -0.4 0.2 -0.4 0.3 -0.4 0.5 -0.4 0.5 -0.3 0.7 -0.2 0.7 -0.2 0.8 -0.1 0.8 -0 0.9 0 0.9 0.1 0.8 0.2 0.8 0.2 0.7 0.3 0.7 0.4 0.5 0.4 0.5 0.4 0.3 0.4 0.2 0.4 0.1 0.5 -0.1 0.4 -0.2 0.4 -0.3 0.4 -0.5 0.4 -0.5 0.3 -0.7 0.2 -0.7 0.2 -0.8 0.1 -0.8 0 -0.9M311.1 336.8l-0 -1 -0.2 -0.9 -0.2 -0.9 -0.3 -0.8 -0.3 -0.8 -0.4 -0.6 -0.5 -0.5 -0.5 -0.4 -0.6 -0.2 -0.5 -0.1 -0.5 0.1 -0.6 0.2 -0.5 0.4 -0.5 0.5 -0.4 0.6 -0.3 0.8 -0.3 0.8 -0.2 0.9 -0.2 0.9 0 1 0 1 0.2 0.9 0.2 0.9 0.3 0.8 0.3 0.8 0.4 0.6 0.5 0.5 0.5 0.4 0.6 0.2 0.5 0.1 0.5 -0.1 0.6 -0.2 0.5 -0.4 0.5 -0.5 0.4 -0.6 0.3 -0.8 0.3 -0.8 0.2 -0.9 0.2 -0.9 0 -1M311.8 336.8l-0.1 -1.1 -0.1 -1 -0.3 -1 -0.3 -1 -0.4 -0.8 -0.5 -0.7 -0.6 -0.5 -0.6 -0.5 -0.6 -0.2 -0.6 -0.1 -0.7 0.1 -0.6 0.2 -0.6 0.5 -0.6 0.5 -0.5 0.7 -0.4 0.8 -0.3 1 -0.3 1 -0.1 1 -0.1 1.1 0.1 1.1 0.1 1 0.3 1 0.3 1 0.4 0.8 0.5 0.7 0.6 0.5 0.6 0.5 0.6 0.2 0.7 0.1 0.6 -0.1 0.6 -0.2 0.6 -0.5 0.6 -0.5 0.5 -0.7 0.4 -0.8 0.3 -1 0.3 -1 0.1 -1 0.1 -1.1M312.4 336.8l-0.1 -1.2 -0.1 -1.1 -0.3 -1.2 -0.4 -1 -0.5 -0.9 -0.6 -0.7 -0.6 -0.7 -0.7 -0.4 -0.7 -0.3 -0.8 -0.1 -0.8 0.1 -0.7 0.3 -0.7 0.4 -0.6 0.7 -0.6 0.7 -0.5 0.9 -0.4 1 -0.3 1.2 -0.1 1.1 -0.1 1.2 0.1 1.2 0.1 1.1 0.3 1.2 0.4 1 0.5 0.9 0.6 0.7 0.6 0.7 0.7 0.4 0.7 0.3 0.8 0.1 0.8 -0.1 0.7 -0.3 0.7 -0.4 0.6 -0.7 0.6 -0.7 0.5 -0.9 0.4 -1 0.3 -1.2 0.1 -1.1 0.1 -1.2M313.1 336.8l-0.1 -1.3 -0.2 -1.3 -0.3 -1.2 -0.4 -1.1 -0.6 -1 -0.6 -0.8 -0.8 -0.7 -0.8 -0.5 -0.8 -0.3 -0.8 -0.1 -0.9 0.1 -0.8 0.3 -0.8 0.5 -0.8 0.7 -0.6 0.8 -0.6 1 -0.4 1.1 -0.3 1.2 -0.2 1.3 -0.1 1.3 0.1 1.3 0.2 1.3 0.3 1.2 0.4 1.1 0.6 1 0.6 0.8 0.8 0.7 0.8 0.5 0.8 0.3 0.9 0.1 0.8 -0.1 0.8 -0.3 0.8 -0.5 0.8 -0.7 0.6 -0.8 0.6 -1 0.4 -1.1 0.3 -1.2 0.2 -1.3 0.1 -1.3M325.9 338.8l0.1 -1.5 0 -1.4 -0.1 -1.5 -0.3 -1.4 -0.5 -1.4 -0.5 -1.3 -0.7 -1.2 -0.8 -1.2 -0.9 -1.1 -1 -0.9 -1.2 -0.8 -1.1 -0.7 -1.3 -0.6 -1.3 -0.4 -1.3 -0.3 -0.8 0 -0.7 0.1 -0.8 0.3 -0.7 0.4 -0.8 0.6 -0.7 0.7 -0.7 0.8 -0.6 1 -0.6 1.1 -0.6 1.1 -0.5 1.3 -0.5 1.3 -0.3 1.4 -0.4 1.4 -0.2 1.4 -0.2 1.5 -0.1 1.4 0 1.4 0.1 1.4 0.1 1.4 0.3 1.3 0.3 1.1 0.3 1.1 0.5 1 0.5 0.9 0.5 0.8 0.6 0.6 0.7 0.4 0.7 0.4 0.7 0.2 1.3 0.1 1.4 -0.1 1.4 -0.2 1.3 -0.3 1.3 -0.5 1.2 -0.6 1.2 -0.8 1.1 -0.9 1 -1 0.9 -1.1 0.8 -1.2 0.7 -1.3 0.5 -1.4 0.4 -1.4 0.3 -1.4M330.9 334.9l-0.3 -1.8 -0.5 -1.7 -0.7 -1.6 -0.8 -1.6 -1 -1.5 -1.1 -1.3 -1.3 -1.3 -1.4 -1.1 -1.5 -0.9 -1.6 -0.8 -1.7 -0.6 -1.7 -0.4 -1.8 -0.3 -1.8 -0 -1.7 0.1 -0.9 0.2 -0.8 0.4 -0.7 0.5 -0.7 0.8 -0.6 0.8 -0.6 1.1 -0.5 1.2 -0.5 1.3 -0.3 1.4 -0.3 1.6 -0.2 1.6 -0.1 1.7 0 1.7 0.1 1.8 0.2 1.7 0.2 1.8 0.4 1.7 0.4 1.7 0.5 1.6 0.6 1.6 0.6 1.4 0.7 1.3 0.8 1.2 0.7 1 0.9 0.9 0.8 0.7 0.8 0.5 0.9 0.4 0.9 0.2 0.8 -0.1 1.8 -0.3 1.7 -0.5 1.6 -0.6 1.6 -0.9 1.5 -1 1.3 -1.1 1.3 -1.3 1.1 -1.4 0.9 -1.5 0.8 -1.6 0.6 -1.7 0.4 -1.7 0.3 -1.7 0 -1.8 -0.1 -1.8M332.9 339.1l0.1 -2.2 -0.1 -2.2 -0.3 -2.2 -0.5 -2.1 -0.8 -2 -0.9 -2 -1.1 -1.8 -1.3 -1.7 -1.5 -1.6 -1.6 -1.3 -1.8 -1.2 -1.9 -1 -1.9 -0.8 -2 -0.5 -2.1 -0.4 -0.8 0.1 -0.9 0.2 -0.9 0.5 -0.8 0.7 -0.9 0.9 -0.8 1.1 -0.8 1.3 -0.7 1.5 -0.7 1.7 -0.7 1.7 -0.6 2 -0.5 2 -0.4 2 -0.4 2.2 -0.2 2.2 -0.2 2.2 -0.1 2.1 -0 2.2 0 2 0.2 2 0.3 1.9 0.3 1.8 0.5 1.6 0.5 1.4 0.5 1.3 0.7 1 0.7 0.9 0.7 0.7 0.8 0.4 0.8 0.2 2.1 0.1 2.1 -0.1 2.1 -0.4 2 -0.6 2 -0.8 1.8 -1 1.8 -1.2 1.6 -1.4 1.5 -1.5 1.3 -1.7 1.2 -1.9 0.9 -1.9 0.8 -2.1 0.6 -2.1 0.3 -2.2M328.8 334.4l-0.4 -1.9 -0.6 -1.9 -0.7 -1.9 -0.9 -1.7 -1 -1.6 -1.2 -1.5 -1.2 -1.4 -1.3 -1.1 -1.5 -1.1 -1.4 -0.8 -1.6 -0.6 -1.5 -0.5 -1.6 -0.2 -1.6 -0.1 -1.6 0.2 -0.9 0.3 -0.8 0.4 -0.8 0.7 -0.8 0.8 -0.7 1.1 -0.6 1.2 -0.5 1.3 -0.4 1.5 -0.3 1.7 -0.2 1.7 -0.1 1.8 -0 1.9 0.1 1.9 0.2 2 0.3 2 0.4 1.9 0.4 1.9 0.6 1.9 0.7 1.7 0.7 1.7 0.8 1.6 0.8 1.4 0.9 1.3 1 1.1 1 0.9 0.9 0.7 1 0.6 1 0.3 1 0.2 0.9 -0.1 1.6 -0.4 1.4 -0.5 1.4 -0.8 1.4 -1 1.2 -1.1 1.1 -1.3 1 -1.4 0.8 -1.6 0.7 -1.7 0.6 -1.8 0.4 -1.9 0.2 -1.9 0.1 -2 -0.1 -1.9 -0.3 -2M331.7 340.3l0.2 -1.7 -0 -1.6 -0.3 -1.7 -0.4 -1.7 -0.6 -1.6 -0.8 -1.6 -1 -1.5 -1.2 -1.4 -1.4 -1.3 -1.4 -1.2 -1.7 -1.1 -1.7 -0.9 -1.8 -0.7 -1.9 -0.6 -1.9 -0.5 -0.8 0 -0.7 0.1 -0.8 0.3 -0.8 0.5 -0.8 0.6 -0.7 0.8 -0.8 1 -0.7 1.1 -0.7 1.2 -0.6 1.3 -0.6 1.4 -0.5 1.5 -0.5 1.5 -0.4 1.6 -0.3 1.7 -0.3 1.6 -0.1 1.7 -0.1 1.6 -0 1.6 0 1.5 0.2 1.5 0.2 1.3 0.3 1.3 0.4 1.1 0.4 1 0.5 0.9 0.6 0.7 0.6 0.6 0.7 0.3 0.7 0.3 2 0.2 2 0.1 1.9 -0.1 2 -0.3 1.8 -0.4 1.8 -0.6 1.7 -0.8 1.6 -0.9 1.5 -1.1 1.3 -1.2 1.2 -1.3 0.9 -1.4 0.8 -1.5 0.6 -1.6 0.4 -1.6" fill="none" stroke="#0000ff" stroke-width="1.28" clip-path="url(#cP3)"/>
<circle cx="469.8" cy="105.5" r="2.7" fill="#ff0000"/>
<circle cx="430.4" cy="194.4" r="2.75" fill="#ff0000"/>
<circle cx="497.8" cy="239.9" r="2.75" fill="#ff0000"/>
<path d="M394.2 365.3h0M394.6 364.6h0M394.8 363.5h0M395.0 362.8h0M395.7 362.2h0M396.7 360.4h0M396.6 359.4h0M397.5 359.0h0M397.8 358.1h0M398.1 356.8h0M398.7 355.9h0M399.4 355.4h0M400.7 353.3h0M401.3 352.3h0M401.9 351.5h0M402.7 350.4h0M402.9 349.4h0M403.7 348.2h0M404.9 346.7h0M405.4 345.6h0M406.4 344.9h0M407.5 343.5h0M407.7 342.5h0M408.7 341.7h0M411.1 339.4h0M411.7 337.5h0M412.8 336.8h0M413.1 336.1h0M413.7 335.2h0M415.3 333.7h0M416.2 332.7h0M416.5 331.9h0M417.7 331.4h0M418.2 330.4h0M418.8 329.6h0M419.2 328.4h0M420.1 327.4h0M421.5 327.0h0M422.6 324.9h0M423.1 324.2h0M424.3 324.1h0M424.6 323.3h0M425.2 322.4h0M426.0 321.9h0M426.7 320.9h0M428.1 320.5h0M428.5 319.8h0M429.2 318.8h0M430.5 318.8h0M430.9 318.1h0M431.9 317.3h0M433.1 317.0h0M433.7 316.1h0M434.7 315.1h0M435.7 314.6h0M436.9 314.1h0M437.7 313.6h0M437.8 312.4h0M439.0 312.0h0M439.8 311.7h0M440.5 310.9h0M441.1 310.1h0M442.3 310.1h0M443.2 309.3h0M444.0 308.8h0M445.0 307.8h0M447.3 307.0h0M448.4 306.6h0M450.3 305.4h0M451.6 305.1h0M452.2 304.1h0M453.1 303.9h0M454.1 303.8h0M455.8 302.3h0M457.0 302.1h0M458.1 301.3h0M459.2 300.6h0M460.2 300.6h0M461.3 300.5h0M462.1 299.8h0M462.8 299.3h0M463.9 299.4h0M465.1 298.9h0M465.6 298.3h0M466.8 298.1h0M467.6 297.7h0M469.4 296.8h0M470.7 296.9h0M471.6 296.6h0M472.6 296.7h0M474.0 296.6h0M476.3 296.1h0M477.1 296.0h0M478.3 295.6h0M479.3 295.4h0M481.1 295.1h0M482.3 295.2h0M483.2 295.1h0M484.3 295.7h0M485.2 296.0h0M486.3 295.8h0M487.5 295.4h0M488.3 295.5h0M489.4 296.1h0M490.6 296.2h0M493.2 296.5h0M497.1 298.1h0M498.1 298.2h0M499.4 298.3h0M501.4 299.4h0M503.8 299.6h0M504.5 300.3h0M505.6 300.4h0M506.3 301.2h0M507.6 301.4h0M509.8 302.5h0M510.5 303.4h0M511.6 304.0h0M512.7 304.3h0M513.4 304.9h0M514.0 305.5h0M515.1 306.1h0M516.5 306.6h0M517.0 307.3h0M517.8 308.3h0M518.8 308.7h0M520.1 308.9h0M520.8 310.1h0M521.5 310.8h0M522.3 311.9h0M523.4 312.3h0M523.9 313.6h0M524.8 314.6h0M525.7 315.3h0M526.8 316.1h0M527.4 317.0h0M527.7 318.2h0M528.7 319.0h0M529.4 319.8h0M529.4 320.8h0M529.7 321.7h0M530.2 322.3h0M531.5 324.1h0M532.2 325.0h0M532.6 326.1h0M532.7 327.1h0M533.4 328.2h0M533.7 329.4h0M534.4 330.5h0M534.5 331.6h0M534.8 332.3h0M534.4 333.7h0M534.8 334.6h0M534.8 335.8h0M535.1 337.0h0M535.1 337.9h0M535.2 339.0h0M535.1 340.2h0M534.9 342.3h0M534.7 343.5h0M534.4 345.5h0M534.7 346.9h0M534.4 347.9h0M534.0 349.0h0M534.4 350.1h0M533.5 351.3h0M533.8 352.4h0M533.4 353.5h0M532.8 354.8h0M532.3 355.9h0M532.1 357.1h0M531.6 358.0h0M530.9 359.3h0M529.9 360.9h0M529.5 362.1h0M529.0 363.2h0M528.0 364.0h0M527.0 366.6h0M523.7 370.2h0M523.0 371.1h0M521.8 371.6h0M520.6 372.5h0M519.7 373.8h0M518.5 374.2h0M517.7 375.1h0M517.2 375.9h0M516.6 376.7h0M515.4 377.5h0M514.5 377.5h0M513.4 377.9h0M512.4 378.5h0M511.5 378.9h0M510.3 379.9h0M509.1 379.9h0M507.4 380.7h0M506.3 380.9h0M505.6 381.7h0M504.7 382.1h0M503.7 381.9h0M502.3 382.1h0M501.4 382.4h0M500.1 383.1h0M499.2 383.2h0M497.8 383.2h0M496.9 383.8h0M493.9 383.9h0M491.6 384.0h0M489.5 384.6h0M488.1 384.5h0M487.3 385.1h0M484.5 385.0h0M483.4 384.9h0M482.4 384.8h0M481.4 384.8h0M480.6 384.6h0M479.5 385.2h0M478.4 385.0h0M477.3 385.4h0M476.4 385.2h0M475.5 384.6h0M474.3 384.6h0M473.2 384.6h0M472.2 384.4h0M470.7 384.7h0M468.4 384.0h0M467.1 384.1h0M464.8 383.5h0M464.0 383.0h0M462.8 382.9h0M461.6 382.4h0M460.6 382.6h0M459.4 382.0h0M458.1 381.8h0M457.2 381.6h0M455.0 380.2h0M454.0 379.8h0M452.8 379.7h0M451.6 379.4h0M450.3 378.6h0M449.7 377.7h0M448.2 377.4h0M447.3 376.2h0M446.1 375.2h0M444.8 374.5h0M444.2 373.7h0M443.1 373.5h0M442.4 372.3h0M441.8 371.3h0M440.5 370.9h0M439.8 370.2h0M439.3 369.3h0M438.8 368.2h0M438.2 367.5h0M437.5 366.2h0M436.4 365.6h0M435.6 364.7h0M435.5 363.2h0M434.8 361.8h0M433.6 360.9h0M433.2 359.6h0M433.3 358.6h0M433.0 357.2h0M431.5 354.9h0M431.7 353.4h0M431.6 352.3h0M431.0 349.7h0M430.8 347.9h0M431.2 346.7h0M431.4 345.4h0M431.7 340.8h0M432.9 338.6h0M433.1 337.7h0M433.7 336.2h0M434.9 335.4h0M435.3 333.9h0M437.3 331.8h0M437.9 330.8h0M438.6 329.9h0M439.3 328.7h0M440.6 328.6h0M441.2 327.4h0M442.6 326.9h0M443.3 326.1h0M444.3 325.1h0M445.3 324.8h0M445.8 324.2h0M446.9 323.8h0M448.1 322.9h0M449.6 322.8h0M450.7 322.3h0M451.7 321.8h0M452.7 321.4h0M453.4 321.0h0M454.8 321.0h0M455.8 320.3h0M457.1 319.7h0M458.1 319.9h0M459.0 319.9h0M460.0 319.8h0M461.0 319.6h0M462.9 318.9h0M464.2 318.6h0M466.4 318.8h0M467.5 318.6h0M468.5 318.4h0M469.7 318.7h0M470.6 318.8h0M471.8 319.0h0M472.9 318.9h0M474.2 318.8h0M477.4 318.5h0M478.5 319.2h0M479.4 319.4h0M480.3 319.4h0M481.6 319.4h0M482.7 320.0h0M484.0 319.7h0M486.3 320.4h0M487.4 320.9h0M489.0 320.5h0M490.0 321.5h0M491.4 321.6h0M492.5 322.5h0M493.8 322.5h0M494.4 323.5h0M495.9 323.5h0M496.7 324.8h0M498.0 325.1h0M499.0 325.3h0M499.9 326.5h0M501.3 328.0h0M502.6 329.1h0M503.3 330.1h0M505.4 332.0h0M505.7 333.2h0M506.1 334.4h0M506.4 335.6h0M507.2 338.6h0M507.0 340.0h0M507.3 341.3h0M507.4 343.0h0M506.7 344.3h0M506.6 345.4h0M506.0 348.1h0M505.8 349.2h0M505.6 350.3h0M504.6 350.9h0M504.7 352.3h0M503.2 354.1h0M502.7 355.1h0M502.1 355.7h0M501.4 356.6h0M500.8 357.3h0M499.8 358.2h0M499.0 359.1h0M498.0 359.6h0M496.7 359.9h0M494.9 361.8h0M493.3 362.1h0M492.8 363.3h0M491.4 363.4h0M490.6 363.5h0M490.0 364.2h0M488.8 364.7h0M487.6 365.5h0M486.2 365.5h0M483.0 366.8h0M482.0 366.5h0M480.6 366.8h0M479.6 366.5h0M478.7 366.5h0M477.5 366.9h0M476.4 367.4h0M475.0 367.0h0M473.9 367.0h0M471.7 366.3h0M470.6 366.2h0M469.9 365.8h0M468.7 365.4h0M467.6 365.6h0M466.1 365.2h0M464.8 364.5h0M463.5 364.1h0M462.8 362.7h0M461.4 362.7h0M460.8 361.9h0M459.9 361.1h0M458.9 360.6h0M458.8 359.3h0M457.6 358.5h0M457.4 357.4h0M456.3 355.6h0M455.6 354.5h0M455.0 353.5h0M454.6 352.5h0M455.1 351.2h0M454.6 349.6h0M455.3 348.5h0M455.3 347.1h0M456.3 344.0h0M457.2 342.5h0M458.1 341.6h0M458.8 340.8h0M459.9 340.5h0M460.9 340.0h0M462.8 338.2h0M466.2 336.4h0M467.3 336.4h0M468.6 336.0h0M469.3 335.3h0M470.2 334.8h0M472.9 334.6h0M473.7 334.1h0M474.9 333.4h0M477.1 333.7h0M478.2 333.3h0M479.1 332.7h0M481.3 332.5h0M482.2 331.7h0M482.9 331.6h0M484.1 332.2h0M485.0 331.4h0M486.1 331.3h0M487.8 331.3h0M488.9 332.2h0M490.0 332.3h0M491.3 332.3h0M492.0 333.2h0M493.3 334.1h0M494.2 334.9h0M397.6 365.3h0M397.6 364.5h0M398.1 363.2h0M398.7 362.1h0M399.1 361.4h0M399.4 360.3h0M400.4 359.8h0M400.4 358.3h0M401.4 357.4h0M402.3 356.3h0M402.1 355.2h0M402.5 354.4h0M403.3 353.4h0M404.5 352.5h0M404.7 350.7h0M405.1 349.9h0M405.9 349.1h0M406.7 348.7h0M407.0 347.7h0M407.7 347.1h0M408.2 346.2h0M408.1 345.0h0M409.2 344.7h0M409.5 343.3h0M410.5 342.4h0M411.4 341.7h0M411.5 340.5h0M413.2 338.9h0M414.3 338.1h0M414.4 336.9h0M415.3 336.0h0M416.0 335.6h0M417.4 333.9h0M418.1 333.4h0M418.3 332.6h0M419.2 332.2h0M420.0 331.6h0M420.9 330.7h0M422.0 329.3h0M423.3 327.4h0M424.7 327.1h0M425.1 326.2h0M426.6 324.5h0M427.5 323.7h0M428.7 323.2h0M429.8 322.5h0M430.8 321.8h0M431.6 320.8h0M434.3 320.3h0M434.6 319.1h0M435.7 319.2h0M436.6 318.2h0M437.0 317.0h0M437.8 316.4h0M438.7 315.8h0M439.5 315.5h0M440.4 315.0h0M441.4 314.3h0M441.6 313.4h0M442.6 313.1h0M443.1 312.2h0M444.5 311.8h0M445.5 311.2h0M446.4 310.6h0M447.1 309.4h0M448.0 308.8h0M449.2 308.3h0M451.0 307.3h0M451.7 306.9h0M452.8 306.6h0M453.7 305.5h0M454.6 305.5h0M457.2 303.7h0M458.0 303.2h0M459.3 303.2h0M459.9 302.5h0M461.0 302.4h0M463.0 301.5h0M463.7 301.0h0M464.7 300.6h0M465.6 300.3h0M466.9 300.7h0M467.8 299.9h0M468.7 299.7h0M470.5 300.1h0M471.5 299.1h0M472.4 299.3h0M473.7 298.8h0M474.8 299.1h0M475.6 298.9h0M476.7 298.7h0M477.5 299.2h0M478.2 298.6h0M479.3 298.4h0M480.5 298.8h0M481.4 298.7h0M482.3 299.1h0M483.3 299.2h0M484.2 298.7h0M485.4 298.8h0M486.5 299.3h0M487.4 299.2h0M488.2 299.1h0M490.2 299.3h0M491.1 299.5h0M492.3 299.9h0M493.5 299.8h0M494.6 300.5h0M496.0 300.1h0M496.9 300.7h0M497.9 301.3h0M499.6 300.0h0M501.8 300.8h0M502.6 301.8h0M503.7 301.4h0M504.7 301.8h0M505.5 302.1h0M506.2 303.1h0M507.4 302.9h0M508.4 303.6h0M509.1 304.6h0M510.3 305.3h0M511.2 305.3h0M512.0 306.1h0M513.4 306.3h0M514.1 306.7h0M515.1 307.3h0M515.5 308.5h0M516.6 309.2h0M517.6 310.0h0M518.7 310.4h0M519.6 312.3h0M520.4 312.7h0M521.2 313.4h0M523.1 315.3h0M523.8 316.1h0M524.3 317.2h0M524.4 318.1h0M526.0 319.7h0M526.2 320.7h0M526.4 321.5h0M527.4 322.4h0M527.9 323.4h0M528.1 324.6h0M528.6 325.3h0M529.2 325.9h0M529.9 328.1h0M530.4 329.2h0M530.8 329.9h0M531.2 330.7h0M531.7 331.6h0M531.5 333.0h0M531.7 334.0h0M532.7 335.0h0M532.8 337.1h0M532.5 338.0h0M532.8 340.4h0M533.0 341.7h0M532.6 343.0h0M532.6 344.0h0M532.9 345.0h0M533.1 346.1h0M532.8 348.8h0M532.2 350.0h0M532.0 352.3h0M531.5 353.5h0M531.2 354.4h0M530.7 355.4h0M530.4 356.3h0M529.8 357.3h0M529.1 358.6h0M528.6 359.6h0M528.3 360.6h0M527.2 362.4h0M526.9 363.5h0M525.8 364.2h0M525.1 365.4h0M523.3 366.8h0M522.9 367.7h0M521.8 368.5h0M521.2 369.7h0M520.3 370.3h0M519.4 370.9h0M518.3 371.2h0M517.4 371.6h0M516.0 372.7h0M515.1 373.8h0M513.3 374.6h0M512.3 375.1h0M511.7 376.1h0M510.6 376.4h0M509.4 376.5h0M508.6 376.9h0M506.8 378.5h0M504.3 378.9h0M503.4 379.6h0M502.1 379.7h0M500.9 379.7h0M500.1 380.1h0M499.1 380.6h0M498.0 381.1h0M496.6 381.0h0M494.7 381.8h0M493.4 382.1h0M492.2 382.1h0M491.1 382.8h0M490.3 383.0h0M489.4 382.6h0M488.4 383.3h0M487.1 382.9h0M486.0 383.0h0M485.0 383.0h0M484.2 383.8h0M482.9 383.6h0M482.1 383.5h0M481.0 383.8h0M479.7 383.5h0M478.6 383.4h0M477.8 383.1h0M477.0 383.3h0M476.0 383.3h0M474.7 383.1h0M473.6 382.8h0M472.8 383.4h0M471.9 383.2h0M469.7 382.6h0M468.6 382.1h0M467.8 382.3h0M466.7 381.4h0M464.5 381.2h0M463.4 381.2h0M462.5 380.9h0M460.5 380.2h0M458.3 378.8h0M457.0 378.5h0M456.1 378.6h0M453.8 376.7h0M452.7 376.5h0M451.6 375.5h0M450.4 375.4h0M449.5 374.4h0M448.7 373.5h0M447.6 373.1h0M446.8 372.5h0M444.8 371.1h0M443.7 370.5h0M442.9 369.7h0M441.7 368.1h0M441.1 367.5h0M439.7 366.9h0M439.0 365.9h0M438.4 365.3h0M438.0 364.3h0M437.3 363.6h0M437.3 362.5h0M436.0 361.2h0M435.3 360.4h0M435.3 359.3h0M434.8 358.5h0M434.4 357.3h0M433.6 355.2h0M433.0 354.2h0M432.7 353.2h0M433.0 352.2h0M432.8 350.8h0M432.8 349.3h0M432.6 347.8h0M433.1 346.9h0M432.8 344.2h0M433.1 343.0h0M434.8 340.6h0M434.9 339.2h0M435.2 338.0h0M436.1 337.5h0M436.6 336.9h0M437.3 336.1h0M437.6 335.1h0M438.3 334.0h0M439.3 333.1h0M439.9 332.4h0M441.3 331.9h0M442.0 331.0h0M442.7 330.3h0M443.5 329.8h0M444.9 328.3h0M446.0 327.8h0M446.9 326.8h0M448.3 326.5h0M449.6 326.1h0M450.6 325.6h0M451.6 325.3h0M452.3 324.4h0M453.4 323.7h0M454.6 324.0h0M456.2 323.2h0M457.1 322.8h0M458.1 322.1h0M459.4 321.7h0M460.6 322.0h0M461.7 321.2h0M463.0 320.7h0M464.2 320.8h0M465.5 321.1h0M466.8 320.9h0M468.0 320.8h0M468.9 320.3h0M469.6 320.0h0M470.8 319.8h0M472.0 320.1h0M472.9 319.9h0M474.0 320.3h0M475.9 320.2h0M476.7 320.2h0M477.5 320.8h0M478.5 320.3h0M479.8 320.8h0M481.0 320.4h0M485.1 321.4h0M485.9 322.1h0M486.8 322.3h0M488.0 322.7h0M489.0 322.6h0M490.1 323.3h0M490.6 324.0h0M492.2 324.9h0M493.3 325.6h0M494.1 326.1h0M496.1 327.7h0M496.7 328.5h0M497.5 328.7h0M498.5 329.4h0M499.5 329.8h0M500.3 330.6h0M500.8 331.8h0M501.9 332.3h0M501.9 333.5h0M502.8 334.5h0M503.8 335.3h0M504.2 336.5h0M503.8 338.1h0M504.7 339.2h0M505.0 340.1h0M505.0 341.0h0M504.8 342.0h0M504.8 343.1h0M504.8 345.5h0M504.6 346.9h0M503.9 348.0h0M503.0 350.4h0M502.6 351.6h0M501.1 353.5h0M499.9 355.1h0M499.4 356.3h0M498.6 357.1h0M497.8 357.7h0M497.6 358.7h0M496.0 358.4h0M495.0 358.7h0M494.3 359.8h0M493.3 360.6h0M492.5 360.8h0M491.5 361.4h0M490.4 361.7h0M489.6 362.5h0M487.7 363.1h0M486.7 363.1h0M485.5 363.0h0M484.3 363.3h0M483.7 364.0h0M482.4 363.9h0M480.2 364.3h0M479.2 364.3h0M475.5 364.3h0M474.7 363.6h0M473.6 363.6h0M471.2 363.7h0M470.3 363.5h0M469.6 363.1h0M468.5 362.7h0M467.8 362.4h0M467.2 361.5h0M465.8 361.8h0M464.1 360.6h0M463.3 360.0h0M462.6 359.4h0M461.7 359.1h0M461.4 358.1h0M460.4 357.8h0M459.9 357.1h0M459.2 356.7h0M458.3 355.8h0M458.4 354.5h0M457.5 353.5h0M457.1 350.4h0M456.8 349.5h0M456.8 348.7h0M457.2 347.6h0M457.7 346.5h0M457.5 345.5h0M458.4 344.8h0M459.0 344.1h0M459.4 343.3h0M460.0 342.6h0M461.9 340.8h0M463.0 340.6h0M463.4 339.6h0M465.6 338.3h0M466.6 338.1h0M467.6 338.3h0M468.4 337.5h0M469.3 337.1h0M470.7 337.3h0M471.6 337.0h0M472.8 337.0h0M473.8 336.7h0M474.7 336.0h0M476.0 336.5h0M477.0 336.2h0M478.1 335.8h0M479.2 335.6h0M479.9 334.9h0M480.8 334.8h0M482.2 335.3h0M483.2 334.5h0M484.3 334.4h0M485.5 334.0h0M486.4 334.2h0M487.5 334.5h0M489.3 335.1h0M490.5 335.0h0M491.0 336.8h0M492.7 337.5h0M398.9 367.4h0M399.1 366.1h0M399.5 365.0h0M400.7 364.1h0M400.5 362.9h0M401.9 361.0h0M402.5 360.0h0M403.8 358.6h0M404.2 357.5h0M404.9 356.5h0M404.8 355.4h0M405.9 354.6h0M406.4 353.3h0M406.9 352.4h0M407.4 351.3h0M407.8 350.5h0M408.9 348.8h0M409.1 347.9h0M410.1 347.0h0M411.1 344.9h0M411.8 344.4h0M412.9 343.7h0M413.4 342.7h0M414.9 341.1h0M415.4 340.5h0M416.0 340.0h0M417.2 338.5h0M418.0 337.6h0M418.3 336.5h0M419.1 335.9h0M419.9 335.2h0M420.4 333.9h0M421.4 333.2h0M422.1 332.7h0M422.5 331.9h0M423.5 331.1h0M423.9 330.3h0M424.8 329.9h0M425.1 328.9h0M426.3 328.4h0M426.7 327.3h0M427.5 327.0h0M428.5 326.5h0M429.2 325.5h0M430.1 324.9h0M430.9 323.9h0M431.9 323.5h0M434.6 323.6h0M434.8 322.6h0M435.5 321.9h0M436.6 321.5h0M436.8 320.5h0M438.2 320.1h0M439.4 318.5h0M440.3 317.7h0M441.3 317.3h0M441.9 316.3h0M442.9 315.8h0M444.5 314.4h0M445.7 314.0h0M446.4 313.0h0M449.4 311.2h0M450.0 310.8h0M450.8 310.3h0M452.0 310.0h0M453.0 309.6h0M453.7 308.9h0M454.3 308.1h0M455.2 308.2h0M456.1 307.9h0M456.7 306.8h0M457.8 306.9h0M458.4 306.4h0M460.2 305.5h0M462.3 305.0h0M463.6 304.8h0M464.2 304.1h0M465.1 304.0h0M465.8 303.4h0M466.6 303.7h0M467.5 303.1h0M468.5 302.6h0M469.9 302.2h0M471.7 302.2h0M472.9 302.2h0M473.6 301.7h0M475.8 302.1h0M477.1 302.0h0M479.1 301.2h0M480.3 301.1h0M482.3 301.2h0M483.4 301.4h0M484.4 301.3h0M485.5 301.3h0M486.3 301.9h0M489.5 301.8h0M490.5 301.5h0M492.4 301.9h0M493.4 302.7h0M494.1 302.7h0M495.0 302.5h0M495.6 303.1h0M496.7 303.1h0M498.2 301.7h0M499.0 302.1h0M500.0 302.1h0M500.8 302.5h0M501.9 303.3h0M504.7 304.7h0M506.1 304.6h0M506.9 306.0h0M508.6 306.9h0M509.5 306.8h0M510.3 307.2h0M511.2 308.3h0M512.2 308.5h0M513.1 309.2h0M514.1 310.6h0M515.1 311.1h0M518.0 313.7h0M519.1 314.3h0M519.7 315.5h0M520.6 316.3h0M521.2 317.4h0M521.5 318.5h0M522.4 319.9h0M523.5 320.7h0M523.5 322.0h0M524.6 323.8h0M525.5 324.6h0M527.7 326.4h0M528.1 327.1h0M528.0 328.9h0M528.8 329.4h0M529.0 330.2h0M529.1 331.4h0M529.4 332.1h0M529.5 333.0h0M530.4 334.8h0M530.4 335.8h0M531.0 337.0h0M530.7 338.2h0M531.0 339.5h0M531.1 340.5h0M531.1 341.8h0M531.0 342.9h0M531.0 345.0h0M530.8 345.9h0M530.8 347.2h0M530.6 348.2h0M530.1 349.1h0M529.7 350.1h0M529.9 351.2h0M529.8 352.2h0M529.0 352.8h0M528.6 354.1h0M528.4 355.2h0M527.9 356.3h0M527.7 357.2h0M526.8 357.9h0M526.6 359.1h0M525.4 359.8h0M525.4 361.3h0M524.5 362.0h0M523.6 362.4h0M522.3 364.5h0M521.7 365.4h0M520.7 365.8h0M519.9 366.9h0M518.8 367.4h0M518.4 368.2h0M517.0 368.5h0M516.6 369.6h0M515.5 370.3h0M514.5 370.7h0M514.4 372.3h0M513.3 373.0h0M512.5 373.5h0M511.6 373.7h0M509.6 374.1h0M508.6 374.8h0M506.8 375.5h0M505.8 376.6h0M504.5 376.4h0M503.0 377.7h0M501.8 377.8h0M501.0 378.2h0M500.1 378.5h0M499.0 378.5h0M497.8 378.8h0M496.9 379.3h0M495.6 379.7h0M494.5 379.5h0M491.7 380.8h0M490.9 381.0h0M488.7 380.7h0M487.5 381.2h0M486.6 381.1h0M484.1 381.6h0M482.8 381.6h0M482.1 381.1h0M481.1 381.0h0M480.2 381.5h0M478.5 381.4h0M477.8 381.3h0M476.9 380.9h0M476.0 380.8h0M474.7 380.7h0M473.7 381.3h0M473.0 380.6h0M471.8 381.1h0M471.0 380.8h0M468.7 380.3h0M467.8 379.6h0M466.8 379.9h0M465.8 379.4h0M464.5 379.3h0M463.5 378.7h0M462.5 378.0h0M461.2 378.1h0M460.3 377.4h0M459.2 377.1h0M458.2 376.5h0M457.3 376.2h0M456.4 375.6h0M455.6 375.2h0M454.7 374.9h0M452.7 374.2h0M451.0 373.2h0M449.1 371.8h0M448.6 371.0h0M447.5 371.1h0M447.2 370.1h0M446.1 369.5h0M445.7 368.8h0M445.0 368.4h0M444.2 367.7h0M443.2 367.2h0M441.6 365.2h0M440.8 364.5h0M440.0 363.6h0M439.2 362.8h0M438.8 361.8h0M438.3 360.6h0M437.3 359.6h0M436.9 358.4h0M436.6 357.1h0M436.3 356.3h0M435.3 355.5h0M435.5 353.4h0M434.4 352.4h0M435.7 350.8h0M435.8 349.9h0M435.4 348.9h0M435.1 348.1h0M435.1 347.0h0M435.6 346.2h0M435.2 345.3h0M435.6 344.5h0M436.0 343.4h0M436.9 341.7h0M437.4 340.7h0M438.2 339.6h0M438.2 338.7h0M438.6 337.7h0M438.9 336.9h0M440.0 336.3h0M440.9 335.5h0M441.0 334.3h0M443.3 332.3h0M444.6 331.9h0M445.6 331.1h0M446.0 330.1h0M448.0 328.8h0M449.1 328.3h0M450.1 327.8h0M450.8 327.5h0M452.0 327.4h0M454.0 326.2h0M455.1 326.0h0M455.7 325.3h0M456.4 324.8h0M458.7 324.8h0M459.5 324.2h0M460.7 323.6h0M461.5 323.7h0M462.5 323.6h0M463.6 322.9h0M464.8 322.5h0M465.9 322.9h0M466.7 322.4h0M468.0 322.1h0M469.0 322.4h0M470.2 322.6h0M471.0 322.0h0M471.8 322.1h0M473.1 322.0h0M474.1 322.6h0M476.1 322.5h0M477.0 322.7h0M477.9 322.3h0M479.0 322.7h0M480.0 322.6h0M481.1 323.2h0M483.7 323.8h0M485.5 324.6h0M486.6 324.2h0M487.7 325.1h0M488.9 325.3h0M489.6 325.7h0M490.8 326.3h0M491.3 327.5h0M492.1 328.0h0M493.8 329.3h0M494.6 330.1h0M496.0 330.2h0M496.3 331.2h0M497.4 331.6h0M498.4 332.1h0M499.0 332.7h0M500.7 334.4h0M501.1 335.4h0M501.0 336.3h0M501.6 337.2h0M501.9 338.2h0M502.1 339.0h0M502.1 340.0h0M502.6 340.8h0M503.0 341.7h0M503.1 343.6h0M502.1 345.6h0M502.6 346.6h0M502.2 347.8h0M501.5 348.9h0M500.8 349.8h0M500.4 350.7h0M500.0 351.5h0M499.4 352.6h0M499.2 353.9h0M498.0 355.5h0M496.4 356.6h0M495.9 357.0h0M493.9 356.8h0M492.9 357.1h0M492.6 357.8h0M491.7 358.3h0M489.7 358.6h0M489.3 359.7h0M488.5 359.6h0M487.3 359.9h0M486.6 360.5h0M485.4 360.2h0M484.6 360.8h0M483.5 360.8h0M482.5 361.0h0M481.6 361.3h0M480.7 360.9h0M479.7 361.7h0M478.9 361.5h0M477.9 361.8h0M476.8 361.7h0M475.6 361.5h0M473.4 361.7h0M472.6 361.5h0M471.5 361.0h0M470.9 360.9h0M469.9 360.9h0M469.0 360.6h0M467.5 359.4h0M466.5 359.6h0M466.0 358.9h0M465.5 358.3h0M464.3 358.5h0M463.9 357.4h0M463.4 356.8h0M462.2 355.8h0M461.6 355.4h0M460.9 354.7h0M460.1 354.0h0M459.7 353.0h0M459.9 352.2h0M459.5 351.6h0M459.3 351.0h0M459.3 350.4h0M459.2 349.7h0M458.9 348.6h0M459.6 347.8h0M459.8 346.8h0M459.9 346.0h0M460.4 345.1h0M461.1 344.6h0M461.8 343.8h0M463.2 342.7h0M464.0 341.9h0M465.3 342.1h0M465.6 341.3h0M466.5 341.1h0M467.2 340.4h0M468.5 340.5h0M469.3 340.4h0M470.1 340.1h0M470.8 339.5h0M472.9 338.9h0M474.0 339.1h0M475.2 338.8h0M476.4 338.9h0M477.4 338.6h0M478.3 338.1h0M479.1 337.7h0M481.0 337.3h0M483.2 336.8h0M484.2 337.0h0M485.2 336.8h0M486.0 336.3h0M487.0 336.9h0M487.8 336.6h0M489.3 337.3h0M400.3 368.4h0M400.8 367.3h0M400.9 366.3h0M401.7 365.8h0M402.1 364.7h0M402.6 363.9h0M403.1 362.7h0M404.0 361.9h0M404.0 360.7h0M404.6 360.1h0M406.0 358.6h0M406.2 357.7h0M406.4 356.5h0M407.4 355.9h0M407.9 354.8h0M408.6 353.9h0M409.2 353.0h0M410.0 352.4h0M410.4 351.3h0M411.2 350.3h0M411.7 349.4h0M411.8 348.4h0M412.5 347.6h0M413.0 346.8h0M414.0 345.9h0M415.6 344.5h0M415.7 343.7h0M416.6 343.3h0M416.8 342.0h0M417.8 341.1h0M418.5 340.7h0M419.2 339.9h0M419.9 339.2h0M420.0 338.3h0M420.8 337.7h0M421.8 336.8h0M423.2 335.2h0M424.2 333.2h0M425.3 332.4h0M425.8 331.6h0M426.6 331.1h0M427.3 330.3h0M428.1 330.0h0M428.7 329.0h0M429.1 328.0h0M430.1 327.2h0M430.9 326.7h0M431.4 326.0h0M431.8 325.1h0M432.7 324.3h0M433.7 324.1h0M498.6 303.8h0M499.5 304.3h0M500.6 304.5h0M502.1 305.9h0M503.0 306.3h0M503.8 306.8h0M504.7 307.4h0M506.1 307.3h0M506.8 308.4h0M507.9 308.4h0M508.6 309.3h0M509.2 309.9h0M510.2 310.3h0M510.6 311.2h0M511.7 311.3h0M512.3 311.9h0M512.7 312.6h0M513.9 312.7h0M514.1 314.0h0M515.2 314.1h0M516.2 315.6h0M517.0 316.0h0M517.3 317.0h0M518.1 317.4h0M518.7 318.0h0M519.1 318.9h0M519.3 320.0h0M519.9 320.9h0M520.6 321.2h0M521.0 322.3h0M521.3 323.1h0M522.1 323.6h0M522.1 324.8h0M522.9 325.6h0M526.5 327.9h0M526.5 329.2h0M527.3 329.9h0M527.6 332.0h0M527.9 334.1h0M528.8 335.1h0M529.0 336.9h0M529.0 338.0h0M529.3 340.0h0M529.5 341.6h0M529.4 342.8h0M528.9 343.7h0M529.3 344.5h0M528.4 345.5h0M528.6 346.5h0M528.3 347.3h0M528.6 348.1h0M527.9 350.0h0M527.0 352.8h0M526.1 353.5h0M525.7 354.6h0M525.4 355.5h0M525.2 356.1h0M524.8 356.8h0M524.4 357.9h0M523.3 358.3h0M523.0 359.4h0M522.6 360.1h0M521.8 360.9h0M521.3 361.6h0M520.4 361.9h0M519.8 362.9h0M519.2 363.8h0M518.8 364.6h0M518.1 365.0h0M516.9 365.4h0M516.5 366.5h0M515.0 367.7h0M513.8 368.0h0M512.8 368.5h0M512.0 371.5h0M508.9 372.4h0M507.9 372.9h0M507.1 373.5h0M506.6 374.3h0M505.5 374.0h0M504.6 374.9h0M503.7 375.1h0M501.7 375.6h0M500.9 375.8h0M497.8 377.4h0M496.5 377.1h0M495.4 377.8h0M494.6 377.8h0M493.5 377.7h0M491.7 378.6h0M490.6 378.9h0M488.4 379.2h0M487.1 378.8h0M486.1 378.9h0M484.1 378.8h0M483.0 378.9h0M481.8 379.2h0M480.7 379.2h0M479.6 378.6h0M477.2 378.6h0M476.0 378.6h0M474.9 378.9h0M472.9 378.0h0M471.8 377.7h0M470.9 377.6h0M470.0 377.9h0M468.8 377.7h0M467.6 377.6h0M466.6 377.3h0M465.5 377.2h0M464.3 376.9h0M463.3 376.3h0M462.2 375.4h0M461.2 376.0h0M460.0 375.6h0M459.2 375.0h0M458.1 374.4h0M455.9 373.2h0M454.9 373.1h0M453.4 372.3h0M452.8 371.6h0M451.5 371.4h0M450.6 371.1h0M449.1 370.0h0M446.8 367.7h0M446.0 367.0h0M445.3 366.0h0M444.5 365.4h0M441.2 362.5h0M440.8 361.4h0M440.0 359.6h0M439.3 358.8h0M438.8 357.7h0M438.4 356.8h0M437.9 355.7h0M437.7 354.8h0M437.4 354.1h0M437.8 353.0h0M437.7 352.0h0M437.1 351.3h0M438.6 349.9h0M437.8 349.0h0M438.4 348.0h0M438.4 347.3h0M438.7 345.7h0M438.5 344.8h0M439.1 344.1h0M439.4 343.3h0M439.1 342.0h0M439.4 341.1h0M440.2 340.6h0M440.4 339.8h0M440.7 338.8h0M441.8 338.2h0M442.0 337.3h0M442.8 336.9h0M443.0 335.9h0M443.8 335.5h0M444.1 334.2h0M444.9 333.8h0M446.0 333.7h0M446.4 332.6h0M447.2 332.3h0M447.8 331.3h0M448.7 331.4h0M449.4 330.2h0M450.3 330.4h0M450.9 329.6h0M451.8 329.1h0M452.6 328.5h0M453.4 328.5h0M454.7 328.4h0M455.3 327.4h0M456.4 326.9h0M457.4 326.6h0M459.5 326.1h0M460.8 326.1h0M461.7 325.7h0M462.8 325.6h0M464.0 325.3h0M465.8 324.8h0M467.9 324.7h0M470.8 325.1h0M473.3 324.8h0M474.2 324.4h0M475.0 324.9h0M476.0 325.3h0M476.9 324.9h0M477.7 325.6h0M478.8 325.1h0M480.7 325.5h0M481.5 326.2h0M482.5 326.4h0M483.6 325.8h0M484.3 326.8h0M485.5 326.4h0M486.3 326.6h0M487.4 326.8h0M488.4 327.8h0M489.4 327.7h0M489.4 330.3h0M490.2 330.5h0M491.5 330.6h0M492.2 330.9h0M493.6 332.3h0M494.4 332.7h0M495.3 333.4h0M496.5 333.5h0M496.8 334.1h0M497.8 334.5h0M499.5 336.2h0M499.6 336.8h0M499.8 337.5h0M500.1 338.2h0M500.2 338.8h0M501.1 340.5h0M500.6 341.6h0M500.9 343.3h0M500.8 344.1h0M501.1 345.1h0M500.4 346.2h0M500.1 347.0h0M499.0 349.0h0M498.6 349.9h0M498.3 351.0h0M497.5 351.6h0M497.4 352.6h0M496.6 353.1h0M495.1 354.6h0M494.7 355.3h0M523.8 327.9h0M524.5 328.3h0M525.2 329.9h0M524.7 331.0h0M525.2 331.8h0M525.5 332.6h0M525.4 333.7h0M526.1 334.4h0M526.4 336.1h0M526.6 337.1h0M526.4 337.8h0M526.7 338.6h0M526.7 339.7h0M526.2 341.5h0M526.2 342.1h0M526.0 343.2h0M525.8 344.2h0M525.8 345.2h0M525.3 346.2h0M525.1 347.3h0M524.6 349.2h0M525.2 350.2h0M524.5 351.0h0M523.8 352.0h0M524.1 352.7h0M523.6 353.7h0M522.8 354.2h0M522.1 355.8h0M522.0 356.9h0M521.2 357.7h0M521.0 358.5h0M520.2 358.9h0M519.9 360.0h0M519.6 360.7h0M519.1 361.5h0M517.9 362.6h0M517.1 363.5h0M516.2 363.5h0M514.4 365.4h0M513.8 366.0h0M513.3 366.5h0M512.3 366.8h0M512.5 369.4h0M511.4 369.1h0M511.0 369.8h0M510.1 370.6h0M509.1 370.7h0M508.4 371.2h0M507.6 371.2h0M506.1 371.9h0M505.1 371.9h0M504.4 372.1h0M503.5 372.6h0M502.7 372.7h0M501.7 373.5h0M500.8 373.6h0M500.1 374.0h0M499.0 373.9h0M497.9 374.6h0M494.7 374.6h0M493.7 374.9h0M492.6 375.1h0M491.7 375.5h0M490.6 375.6h0M489.5 375.9h0M488.8 376.1h0M487.7 375.9h0M486.7 376.0h0M485.9 376.6h0M484.8 376.7h0M483.7 376.5h0M483.0 376.6h0M482.0 376.3h0M481.3 376.4h0M480.0 376.3h0M479.1 376.4h0M478.0 376.3h0M476.8 376.5h0M475.6 377.0h0M474.6 376.4h0M473.8 376.8h0M472.9 376.5h0M472.0 376.3h0M471.1 376.2h0M469.8 375.9h0M468.8 375.7h0M468.1 375.5h0M467.2 375.8h0M466.1 375.8h0M465.3 374.8h0M464.0 375.1h0M463.0 374.2h0M461.7 374.5h0M460.7 374.1h0M460.1 373.6h0M459.0 373.2h0M457.1 372.4h0M456.4 371.3h0M454.7 370.5h0M454.0 370.0h0M453.0 369.4h0M451.9 369.2h0M451.1 368.8h0M450.6 368.1h0M449.6 367.5h0M448.2 365.7h0M447.7 364.6h0M447.0 363.9h0M445.7 363.7h0M445.7 362.5h0M444.8 361.7h0M444.0 361.4h0M443.7 360.3h0M442.8 359.8h0M442.8 358.8h0M442.1 358.2h0M441.7 357.3h0M441.4 356.2h0M440.8 355.4h0M441.1 354.4h0M440.0 353.7h0M440.1 352.9h0M440.2 352.1h0M439.6 351.2h0M438.8 350.5h0M440.8 349.1h0M440.2 347.7h0M440.4 346.9h0M440.1 346.2h0M440.3 345.6h0M440.2 344.7h0M440.8 344.2h0M441.1 343.4h0M441.6 342.6h0M441.1 341.7h0M441.7 340.7h0M442.1 339.7h0M442.9 339.1h0M444.1 337.9h0M444.1 336.7h0M444.7 336.3h0M445.7 336.0h0M445.9 335.0h0M447.1 335.1h0M447.2 333.9h0M448.1 333.8h0M448.4 333.1h0M449.4 332.7h0M450.1 332.7h0M450.8 331.9h0M451.8 331.7h0M452.9 331.5h0M453.5 331.1h0M455.2 330.8h0M456.0 329.8h0M459.1 329.6h0M459.8 328.8h0M460.8 329.3h0M461.6 328.5h0M462.7 328.8h0M463.3 328.3h0M464.4 328.0h0M465.2 327.9h0M466.3 328.2h0M467.5 328.1h0M468.3 327.9h0M469.4 327.8h0M470.4 327.2h0M471.1 327.7h0M471.8 327.6h0M472.8 327.1h0M474.0 327.2h0M475.2 326.8h0M476.4 327.4h0M477.4 327.7h0M478.3 327.4h0M479.6 327.6h0M481.2 327.9h0M482.4 327.4h0M483.1 328.4h0M485.1 328.5h0M486.1 328.9h0M487.0 329.0h0M487.8 329.4h0M489.0 329.2h0M509.9 366.8h0M509.3 367.6h0M508.5 368.2h0M507.5 368.2h0M506.3 369.4h0M505.4 369.8h0M504.2 369.7h0M502.4 370.7h0M501.2 370.7h0M500.4 371.3h0M499.5 371.9h0M498.5 372.5h0M497.3 372.4h0M496.4 373.1h0M495.5 372.9h0M494.4 373.2h0M493.7 373.8h0M492.7 373.4h0M491.8 374.1h0M490.9 373.9h0M490.0 373.8h0M488.9 374.2h0M487.8 374.2h0M485.9 375.1h0M485.1 374.7h0M483.9 374.8h0M482.8 375.3h0M481.6 375.1h0M480.1 375.4h0M479.2 375.3h0M478.2 374.9h0M477.0 374.9h0M476.1 374.5h0M474.9 375.0h0M473.7 374.7h0M473.1 374.0h0M471.8 373.7h0M470.6 373.5h0M469.8 373.6h0M469.0 373.3h0M467.9 373.5h0M466.9 372.8h0M465.0 372.4h0M464.2 371.9h0M463.0 371.9h0M462.0 371.4h0M460.9 370.8h0M460.1 370.7h0M459.6 370.4h0M458.3 370.1h0M457.7 369.8h0M456.8 369.3h0M456.1 368.4h0M455.1 368.0h0M454.3 367.2h0M453.8 367.1h0M452.9 366.8h0M452.5 366.3h0M451.0 365.3h0M450.1 365.1h0M449.4 364.3h0M448.6 363.9h0M447.7 363.2h0M447.2 362.1h0M446.8 361.2h0M444.9 360.1h0M445.0 359.0h0M443.8 358.6h0M443.8 357.3h0M442.5 354.7h0M441.8 354.1h0M442.2 353.3h0M441.3 352.5h0M441.4 351.6h0M441.1 350.4h0M407.1 337.4h0M407.9 336.1h0M408.5 335.2h0M408.7 334.6h0M409.0 333.8h0M409.9 333.0h0M410.4 332.2h0M410.8 331.3h0M411.0 331.0h0M411.4 330.1h0M412.2 329.3h0M413.0 328.5h0M413.4 328.1h0M413.4 327.2h0M414.2 326.1h0M414.7 325.7h0M415.6 324.9h0M415.6 324.0h0M416.3 323.5h0M417.1 322.8h0M417.4 321.9h0M400.2 357.3h0M400.6 356.5h0M399.4 362.3h0M400.4 358.9h0M397.6 359.0h0M399.4 362.0h0M398.9 361.2h0M397.9 359.9h0M402.7 358.7h0M398.4 361.1h0M401.9 363.3h0M403.8 361.8h0M398.3 360.7h0M402.9 357.9h0M401.4 359.2h0M400.0 360.4h0M397.9 360.2h0M398.7 358.1h0M398.6 358.6h0M400.6 359.9h0M398.6 359.3h0M398.1 362.1h0M398.5 357.2h0M399.0 359.1h0M400.1 358.0h0M399.1 356.9h0M400.2 364.3h0M399.5 358.6h0M401.1 362.7h0M401.3 358.5h0M403.3 358.4h0M399.1 359.4h0M401.8 360.9h0M401.6 356.8h0M397.5 359.1h0M398.6 358.2h0M403.1 358.2h0M399.5 364.3h0M403.2 362.5h0M399.4 364.0h0M398.8 359.8h0M399.9 359.6h0M403.0 359.2h0M398.1 358.6h0M399.2 358.0h0M398.1 360.3h0M401.1 358.8h0M399.6 358.9h0M399.9 361.2h0M399.8 356.9h0M403.4 360.7h0M399.1 360.8h0M403.3 362.0h0M403.7 361.2h0M400.8 357.9h0M404.0 362.1h0M403.6 361.3h0M403.0 358.4h0M401.4 362.4h0M401.1 363.6h0M403.8 359.9h0M403.6 359.6h0M399.5 357.3h0M403.4 359.6h0M400.6 362.7h0M397.7 359.8h0M398.1 358.4h0M398.4 360.0h0M402.3 363.9h0M401.5 362.6h0M487.3 354.6h0M493.2 354.8h0M480.5 359.8h0M480.2 352.4h0M488.6 360.1h0M467.4 357.1h0M477.1 350.6h0M479.6 357.8h0M490.6 351.1h0M480.2 350.2h0M496.8 356.5h0M488.0 358.3h0M470.4 351.2h0M485.7 353.5h0M466.5 358.4h0M479.3 349.1h0M485.6 357.2h0M481.5 356.6h0M472.0 356.3h0M473.7 351.5h0M478.0 356.5h0M470.2 354.0h0M474.2 352.5h0M480.3 352.6h0M473.8 361.0h0M487.4 362.0h0M487.1 358.7h0M464.0 357.5h0M467.7 359.3h0M475.7 362.0h0M479.9 361.4h0M476.8 352.8h0M482.8 359.8h0M467.7 355.8h0M469.0 359.0h0M475.2 360.7h0M481.7 357.5h0M477.7 353.8h0M479.3 353.1h0M472.0 358.2h0M488.8 352.6h0M474.2 362.6h0M486.8 355.1h0M491.8 360.5h0M467.5 356.6h0M468.7 357.3h0M486.0 358.8h0M478.4 349.9h0M478.6 352.0h0M465.4 356.1h0M482.8 354.9h0M482.0 359.2h0M480.7 363.2h0M489.0 359.9h0M496.6 356.4h0M489.1 354.9h0M493.0 361.2h0M489.1 352.0h0M493.1 354.2h0M468.3 354.7h0M485.1 361.7h0M490.5 356.4h0M474.2 350.4h0M493.5 351.8h0M463.9 354.8h0M480.4 352.8h0M465.7 358.2h0M480.1 355.0h0M495.4 353.8h0M484.8 356.2h0M488.0 355.2h0M477.2 350.6h0M480.1 351.3h0M482.3 352.4h0M485.2 351.9h0M493.4 358.0h0M484.9 352.2h0M488.0 363.0h0M464.9 355.1h0M480.7 356.1h0M479.8 350.0h0M474.8 353.8h0M467.7 353.2h0M483.4 357.4h0M476.5 360.9h0M470.0 360.7h0M480.0 352.4h0M482.0 354.0h0M485.1 351.6h0M484.4 363.4h0M481.9 362.2h0M476.2 352.3h0M496.3 356.2h0M470.6 361.7h0M466.5 355.9h0M477.2 355.0h0M470.4 356.2h0M491.1 358.7h0M495.7 353.9h0M473.1 352.8h0M495.5 356.2h0M489.0 360.5h0M481.8 349.3h0M488.7 355.9h0M483.5 350.3h0M492.5 355.0h0M495.4 355.4h0M470.6 361.8h0M489.1 355.1h0M475.1 354.5h0M487.3 361.2h0M481.5 359.3h0M467.4 359.9h0M474.9 352.4h0M472.7 357.6h0M467.7 356.0h0M470.4 354.2h0M473.6 351.3h0M483.1 357.7h0M473.1 353.6h0M472.5 356.1h0M472.1 355.8h0M481.6 358.8h0M490.7 356.4h0M471.0 356.0h0M481.5 349.6h0M478.4 356.8h0M468.9 352.7h0M478.4 363.1h0M477.9 363.4h0M466.9 353.0h0M478.0 353.5h0M491.5 352.2h0M490.0 356.2h0M489.8 352.1h0M493.2 355.4h0M472.4 362.9h0M491.5 356.4h0M483.0 356.5h0M493.0 359.3h0M487.8 357.3h0M491.2 356.0h0M487.2 352.9h0M488.5 359.2h0M482.9 357.1h0M489.7 356.4h0M490.8 357.6h0M485.1 353.3h0M493.7 356.1h0M491.6 360.8h0M487.4 350.1h0M487.0 350.7h0M472.3 360.3h0M486.7 363.1h0M491.3 352.0h0M489.1 357.7h0M492.5 355.2h0M485.5 356.3h0M483.6 356.7h0M497.8 356.1h0M467.3 360.2h0M465.3 355.3h0M488.4 358.1h0M489.4 355.1h0M483.2 360.1h0M474.8 352.9h0M471.4 353.2h0M489.7 350.8h0M479.5 353.5h0M473.4 355.3h0M477.4 350.6h0M497.7 355.0h0M470.6 356.1h0M467.1 351.7h0M496.5 358.5h0M479.6 351.0h0M480.3 352.6h0M487.1 359.1h0M492.8 355.3h0M478.2 362.2h0M482.2 358.9h0M490.5 362.0h0M469.9 354.8h0M489.1 360.3h0M469.7 351.2h0M466.8 358.5h0M485.8 356.0h0M476.3 351.8h0M474.7 350.6h0M484.9 352.9h0M482.5 351.4h0M493.7 353.6h0M465.7 358.6h0M480.8 360.4h0M483.5 356.2h0M483.1 359.1h0M489.5 355.3h0M469.3 358.7h0M485.9 358.2h0M485.8 349.8h0M484.8 354.5h0M485.9 352.1h0M479.5 357.4h0M484.2 357.3h0M480.4 358.8h0M484.0 360.6h0M467.9 354.5h0M493.7 354.8h0M486.7 358.9h0M478.7 360.2h0M493.6 356.7h0M486.0 360.4h0M483.2 352.9h0M466.9 353.5h0M479.0 362.7h0M473.6 360.3h0M493.3 352.5h0M491.2 358.9h0M482.3 351.1h0M495.3 357.9h0M479.3 362.8h0M473.2 351.0h0M483.2 355.6h0M470.8 357.6h0M488.6 362.0h0M477.1 362.4h0M483.9 351.7h0M483.8 354.3h0M474.3 357.4h0M495.7 359.5h0M492.1 358.8h0M476.8 352.9h0M484.5 356.2h0M476.9 349.9h0M496.0 357.7h0M488.5 361.5h0M497.3 355.8h0M484.0 355.0h0M478.8 350.9h0M491.5 361.2h0M467.3 353.6h0M471.6 354.0h0M469.0 355.3h0M489.5 352.9h0M465.0 358.2h0M475.2 357.5h0M467.1 360.7h0M483.6 352.2h0M497.5 356.0h0M474.6 354.5h0M471.1 353.0h0M471.0 350.7h0M474.7 361.6h0M485.5 349.6h0M481.5 356.3h0M466.7 359.5h0M492.8 351.3h0M486.5 355.6h0M486.7 358.0h0M480.0 360.8h0M471.1 359.9h0M483.1 350.5h0M478.8 363.8h0M463.5 357.9h0M471.7 361.2h0M493.0 354.4h0M473.0 362.7h0M491.2 353.3h0M490.0 359.6h0M464.9 357.5h0M483.0 363.1h0M497.7 355.5h0M473.1 354.7h0M491.2 357.5h0M475.6 350.5h0M484.8 356.0h0M464.6 356.9h0M484.9 356.2h0M485.0 354.9h0M484.6 360.0h0M493.9 359.0h0M475.4 351.6h0M468.1 351.7h0M489.6 355.2h0M481.6 359.1h0M472.9 353.0h0M485.4 354.5h0M493.2 354.4h0M479.2 360.6h0M490.7 358.2h0M476.4 352.1h0M481.7 363.0h0M485.7 363.2h0M483.5 352.6h0M493.2 354.5h0M486.4 355.5h0M490.4 350.4h0M466.3 355.3h0M493.2 355.5h0M487.3 359.2h0M492.7 355.0h0M482.2 356.0h0M482.1 352.4h0M491.5 351.4h0M474.3 354.5h0M493.2 361.3h0M467.7 352.1h0M483.8 359.3h0M495.4 358.0h0M495.6 358.9h0M479.5 356.3h0M476.3 351.0h0M473.6 351.6h0M479.0 353.8h0M489.1 351.3h0M464.8 354.4h0M473.0 360.7h0M477.8 354.8h0M476.2 356.6h0M487.6 360.5h0M481.2 349.5h0M488.1 350.5h0M483.8 361.3h0M493.0 360.0h0M467.5 356.3h0M479.9 355.3h0M489.6 352.3h0M492.3 356.1h0M472.2 350.2h0M480.2 351.3h0M490.4 353.8h0M473.3 360.4h0M488.3 354.0h0M487.8 354.7h0M469.6 358.4h0M472.6 355.2h0M471.4 356.1h0M482.2 349.5h0M472.9 356.1h0M491.7 351.7h0M472.8 362.3h0M481.1 358.4h0M464.7 356.3h0M492.4 353.1h0M483.5 349.4h0M471.2 362.7h0M472.5 359.3h0M487.5 353.4h0M467.6 354.0h0M470.6 358.0h0M486.4 359.4h0M471.2 355.1h0M483.4 360.4h0M487.8 357.5h0M485.4 356.9h0M465.3 355.3h0M474.3 352.4h0M495.0 354.2h0M480.4 359.5h0M475.7 354.5h0M479.6 357.4h0M494.4 352.4h0M468.8 351.2h0M467.5 351.5h0M473.4 349.8h0M486.8 354.5h0M472.2 361.6h0M489.6 355.4h0M477.5 356.1h0M468.9 354.9h0M482.6 354.2h0M485.8 356.5h0M479.1 362.0h0M469.4 354.2h0M489.8 358.4h0M484.3 353.0h0M468.6 358.3h0M481.3 360.0h0M481.9 353.1h0M476.0 352.8h0M495.0 353.8h0M495.7 356.6h0M483.5 362.3h0M492.0 361.9h0M477.2 360.8h0M492.4 355.7h0M473.3 351.1h0M488.7 351.0h0M476.3 349.2h0M468.7 351.7h0M477.6 355.6h0M479.0 363.4h0M483.9 359.7h0M493.5 353.5h0M475.8 356.0h0M484.5 357.1h0M488.6 355.8h0M468.4 355.1h0M465.1 357.7h0M492.1 360.9h0M477.7 354.9h0M485.6 355.1h0M490.0 354.4h0M473.1 356.5h0M472.4 357.8h0M481.4 352.7h0M471.7 350.6h0M477.8 353.4h0M473.3 355.4h0M484.7 353.3h0M484.0 359.4h0M475.7 351.4h0M478.4 363.1h0M492.0 351.8h0M480.4 350.3h0M465.0 356.8h0M470.7 362.3h0M483.9 358.3h0M472.1 360.3h0M479.1 352.0h0M493.8 358.9h0M476.4 363.3h0M494.6 353.8h0M485.7 360.2h0M478.1 353.6h0M492.6 354.7h0M492.8 357.2h0M491.8 354.6h0M473.6 355.8h0M468.0 359.1h0M488.0 353.6h0M486.9 360.2h0M479.5 355.3h0M486.3 358.6h0M494.6 355.4h0M487.6 355.3h0M466.2 355.0h0M483.3 363.4h0M473.5 356.7h0M485.7 353.7h0M472.3 361.8h0M479.9 352.1h0M466.1 360.3h0M496.1 354.6h0M496.9 356.3h0M494.8 358.2h0M488.8 360.4h0M476.4 357.0h0M492.8 352.3h0M490.7 358.5h0M489.8 358.8h0M484.9 349.5h0M490.6 357.5h0M474.5 349.9h0M490.3 352.5h0M489.1 356.6h0M489.5 357.2h0M476.7 357.1h0M494.1 354.7h0M483.0 354.5h0M475.1 360.9h0M491.1 353.1h0M484.3 353.4h0M487.7 354.9h0M479.7 363.5h0M481.1 356.0h0M484.1 363.5h0M488.0 360.8h0M487.0 359.8h0M474.6 350.7h0M495.2 353.7h0M490.4 361.2h0M480.4 356.9h0M479.6 358.3h0M484.6 354.3h0M482.2 357.8h0M487.0 355.5h0M482.8 359.1h0M483.1 358.9h0M489.3 352.3h0M480.1 349.9h0M479.8 353.2h0M480.4 349.0h0M479.6 359.6h0M486.4 359.5h0M485.8 359.4h0M480.1 350.5h0M489.3 351.2h0M485.5 356.4h0M488.5 359.3h0M469.8 359.2h0M473.8 362.5h0M489.6 354.3h0M481.5 363.1h0M483.9 355.3h0M480.6 363.3h0M476.2 361.1h0M479.7 349.9h0M476.7 351.6h0M477.0 354.5h0M496.2 358.5h0M485.6 363.5h0M497.8 357.1h0M472.7 352.9h0M497.1 355.8h0M492.9 358.7h0M471.3 353.9h0M494.3 353.5h0M488.8 354.5h0M484.8 354.9h0M493.3 355.2h0M488.5 358.6h0M472.7 361.3h0M478.6 361.6h0M480.1 353.3h0M485.6 358.1h0M492.4 356.7h0M478.3 361.4h0M467.7 358.0h0M485.6 355.7h0M483.3 360.7h0M472.0 353.9h0M478.3 351.2h0M475.6 356.2h0M467.0 360.1h0M470.3 361.6h0M493.9 352.1h0M486.6 349.6h0M481.6 349.9h0M470.7 356.3h0M488.2 361.3h0M479.9 352.3h0M494.8 360.5h0M484.1 354.2h0M483.7 360.6h0M482.9 360.7h0M482.6 358.4h0M479.7 349.6h0M479.6 361.8h0M497.0 354.4h0M470.9 356.4h0M470.6 351.1h0M480.4 362.5h0M483.8 354.6h0M492.1 360.1h0M480.8 355.8h0M478.2 361.9h0M497.5 357.7h0M477.6 349.4h0M481.2 353.8h0M475.2 351.6h0M479.9 359.2h0M491.3 356.3h0M476.4 351.0h0M472.5 353.5h0M483.9 362.7h0M493.0 353.5h0M488.6 361.8h0M485.6 356.3h0M485.3 361.3h0M493.6 359.6h0M484.7 363.3h0M482.8 352.8h0M473.1 362.4h0M469.6 353.2h0M467.2 356.5h0M477.1 355.8h0M491.0 350.5h0M493.4 360.1h0M476.7 354.9h0M481.2 359.5h0M482.2 358.5h0M476.2 353.7h0M486.3 356.1h0M480.8 350.0h0" fill="none" stroke="#ff0000" stroke-width="1.85" stroke-linecap="round" clip-path="url(#cQ3)"/>
<text x="76.40" y="151.10" text-anchor="middle" class="tl">2.645</text>
<text x="102.80" y="151.10" text-anchor="middle" class="tl">2.65</text>
<text x="129.20" y="151.10" text-anchor="middle" class="tl">2.655</text>
<text x="155.50" y="151.10" text-anchor="middle" class="tl">2.66</text>
<text x="181.90" y="151.10" text-anchor="middle" class="tl">2.665</text>
<text x="208.40" y="151.10" text-anchor="middle" class="tl">2.67</text>
<text x="70.80" y="77.50" text-anchor="end" class="tl">2</text>
<text x="70.80" y="110.30" text-anchor="end" class="tl">1.5</text>
<text x="70.80" y="143.10" text-anchor="end" class="tl">1</text>
<text x="194.40" y="163.50" class="ex" textLength="14.0" lengthAdjust="spacingAndGlyphs">&#215;10</text>
<text x="208.80" y="160.40" class="ex" style="font-size:5.8px">4</text>
<text x="236.20" y="158.40" text-anchor="middle" class="tl">1</text>
<text x="279.60" y="158.40" text-anchor="middle" class="tl">1.5</text>
<text x="322.20" y="158.40" text-anchor="middle" class="tl">2</text>
<text x="364.70" y="158.40" text-anchor="middle" class="tl">2.5</text>
<text x="233.50" y="57.60" text-anchor="end" class="tl">0.4</text>
<text x="233.50" y="81.00" text-anchor="end" class="tl">0.2</text>
<text x="233.50" y="104.30" text-anchor="end" class="tl">0</text>
<text x="233.50" y="127.70" text-anchor="end" class="tl">-0.2</text>
<text x="233.50" y="151.00" text-anchor="end" class="tl">-0.4</text>
<text x="401.10" y="159.50" text-anchor="middle" class="tl">1.2</text>
<text x="433.20" y="159.50" text-anchor="middle" class="tl">1.25</text>
<text x="465.00" y="159.50" text-anchor="middle" class="tl">1.3</text>
<text x="496.50" y="159.50" text-anchor="middle" class="tl">1.35</text>
<text x="529.30" y="159.50" text-anchor="middle" class="tl">1.4</text>
<text x="397.40" y="58.10" text-anchor="end" class="tl">0.23</text>
<text x="397.40" y="81.60" text-anchor="end" class="tl">0.225</text>
<text x="397.40" y="105.00" text-anchor="end" class="tl">0.22</text>
<text x="397.40" y="128.50" text-anchor="end" class="tl">0.215</text>
<text x="397.40" y="151.90" text-anchor="end" class="tl">0.21</text>
<text x="98.70" y="267.60" text-anchor="middle" class="tl">2.52</text>
<text x="126.30" y="267.60" text-anchor="middle" class="tl">2.53</text>
<text x="154.00" y="267.60" text-anchor="middle" class="tl">2.54</text>
<text x="181.60" y="267.60" text-anchor="middle" class="tl">2.55</text>
<text x="209.00" y="267.60" text-anchor="middle" class="tl">2.56</text>
<text x="70.30" y="189.90" text-anchor="end" class="tl">2</text>
<text x="70.30" y="218.00" text-anchor="end" class="tl">1.5</text>
<text x="70.30" y="246.00" text-anchor="end" class="tl">1</text>
<text x="194.80" y="279.30" class="ex" textLength="14.0" lengthAdjust="spacingAndGlyphs">&#215;10</text>
<text x="209.20" y="276.20" class="ex" style="font-size:5.8px">4</text>
<text x="245.50" y="275.80" text-anchor="middle" class="tl">1</text>
<text x="284.90" y="275.80" text-anchor="middle" class="tl">1.5</text>
<text x="324.70" y="275.80" text-anchor="middle" class="tl">2</text>
<text x="364.70" y="275.80" text-anchor="middle" class="tl">2.5</text>
<text x="233.30" y="174.90" text-anchor="end" class="tl">0.5</text>
<text x="233.30" y="220.00" text-anchor="end" class="tl">0</text>
<text x="233.30" y="265.20" text-anchor="end" class="tl">-0.5</text>
<text x="399.80" y="274.90" text-anchor="middle" class="tl">0.85</text>
<text x="430.70" y="274.90" text-anchor="middle" class="tl">0.9</text>
<text x="463.10" y="274.90" text-anchor="middle" class="tl">0.95</text>
<text x="495.30" y="274.90" text-anchor="middle" class="tl">1</text>
<text x="529.00" y="274.90" text-anchor="middle" class="tl">1.05</text>
<text x="396.80" y="181.70" text-anchor="end" class="tl">0</text>
<text x="396.80" y="193.80" text-anchor="end" class="tl">-0.02</text>
<text x="396.80" y="218.20" text-anchor="end" class="tl">-0.06</text>
<text x="396.80" y="242.50" text-anchor="end" class="tl">-0.1</text>
<text x="396.80" y="266.30" text-anchor="end" class="tl">-0.14</text>
<text x="70.80" y="387.80" text-anchor="middle" class="tl">1.88</text>
<text x="118.20" y="387.80" text-anchor="middle" class="tl">1.9</text>
<text x="164.70" y="387.80" text-anchor="middle" class="tl">1.92</text>
<text x="211.30" y="387.80" text-anchor="middle" class="tl">1.94</text>
<text x="67.70" y="288.60" text-anchor="end" class="tl">4</text>
<text x="67.70" y="318.70" text-anchor="end" class="tl">2</text>
<text x="67.70" y="349.20" text-anchor="end" class="tl">0</text>
<text x="67.70" y="379.80" text-anchor="end" class="tl">-2</text>
<text x="193.90" y="399.90" class="ex" textLength="14.0" lengthAdjust="spacingAndGlyphs">&#215;10</text>
<text x="208.30" y="396.80" class="ex" style="font-size:5.8px">4</text>
<text x="232.10" y="396.20" text-anchor="middle" class="tl">-2</text>
<text x="276.30" y="396.20" text-anchor="middle" class="tl">0</text>
<text x="320.60" y="396.20" text-anchor="middle" class="tl">2</text>
<text x="365.20" y="396.20" text-anchor="middle" class="tl">4</text>
<text x="229.40" y="291.10" text-anchor="end" class="tl">2</text>
<text x="229.40" y="315.40" text-anchor="end" class="tl">1</text>
<text x="229.40" y="339.60" text-anchor="end" class="tl">0</text>
<text x="229.40" y="363.90" text-anchor="end" class="tl">-1</text>
<text x="229.40" y="388.10" text-anchor="end" class="tl">-2</text>
<text x="396.30" y="398.60" text-anchor="middle" class="tl">0</text>
<text x="427.40" y="398.60" text-anchor="middle" class="tl">0.5</text>
<text x="458.60" y="398.60" text-anchor="middle" class="tl">1</text>
<text x="489.70" y="398.60" text-anchor="middle" class="tl">1.5</text>
<text x="520.40" y="398.60" text-anchor="middle" class="tl">2</text>
<text x="391.80" y="288.90" text-anchor="end" class="tl">0.5</text>
<text x="391.80" y="314.10" text-anchor="end" class="tl">0</text>
<text x="391.80" y="339.30" text-anchor="end" class="tl">-0.5</text>
<text x="391.80" y="365.00" text-anchor="end" class="tl">-1</text>
<text x="391.80" y="390.60" text-anchor="end" class="tl">-1.5</text>
</svg></body></html>
